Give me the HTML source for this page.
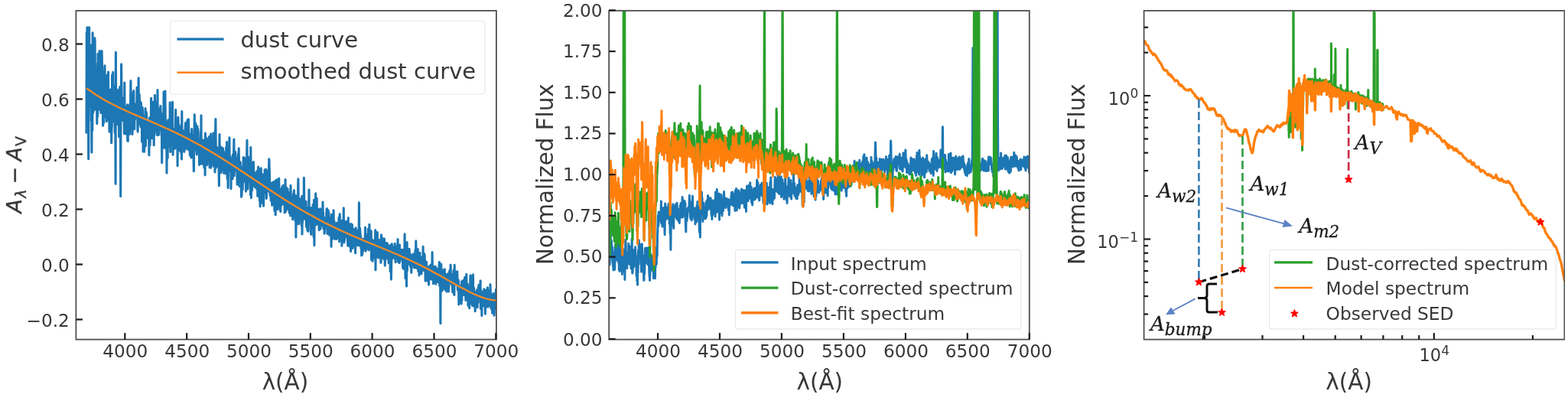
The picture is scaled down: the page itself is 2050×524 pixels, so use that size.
<!DOCTYPE html>
<html><head><meta charset="utf-8"><title>Dust curve figure</title>
<style>html,body{margin:0;padding:0;background:#fff;width:2050px;height:524px;overflow:hidden}svg{display:block}</style>
</head><body>
<svg width="2050" height="524" viewBox="0 0 2050 524">
<defs>
<clipPath id="c1"><rect x="99.4" y="14" width="549.5" height="429.6"/></clipPath>
<clipPath id="c2"><rect x="796.2" y="14" width="549.6" height="429.6"/></clipPath>
<clipPath id="c3"><rect x="1495.6" y="14" width="549.8" height="429.6"/></clipPath>
<filter id="blur" x="0" y="0" width="100%" height="100%"><feGaussianBlur stdDeviation="0.55"/></filter>
</defs>
<rect width="100%" height="100%" fill="#ffffff"/>
<g filter="url(#blur)">
<g clip-path="url(#c1)">
<polyline points="113,174.5 113.3,42.9 113.6,126.5 113.9,35.8 114.2,102.2 114.5,109.6 114.8,58.8 115.1,109 115.4,91.7 115.7,207.7 116,120.5 116.3,103.9 116.6,35.8 116.9,94.3 117.2,82.7 117.5,100.3 117.8,125.7 118.1,58.9 118.4,138.7 118.7,108.8 119,116.4 119.3,157.9 119.6,133.1 119.9,199.1 120.2,114 120.5,132.8 120.8,170.4 121.1,42.9 121.4,113.5 121.7,147.6 122,97.2 122.3,113.4 122.6,144.4 122.9,136.3 123.2,124 123.5,140 123.8,49.8 124.1,52.9 124.4,98.7 124.7,82.3 125,107 125.3,142.9 125.6,114.7 125.9,99.2 126.2,126.9 126.5,125 126.8,161.4 127.1,143.4 127.4,129.3 127.7,151.9 128,70.4 128.3,103.2 128.6,140 128.9,139.6 129.2,119.9 129.5,107.3 129.8,133 130.1,66.6 130.4,143.2 130.7,139.1 131,88.8 131.3,130.4 131.6,105.9 131.9,147.5 132.2,80.2 132.5,105.9 132.8,145.1 133.1,66.5 133.4,79.3 133.7,116.6 134,135.3 134.3,113.5 134.6,164.3 134.9,100.8 135.2,137 135.5,105.9 135.8,160.2 136.1,128.8 136.4,120.5 136.7,91.2 137,85.8 137.3,144.3 137.6,144.4 137.9,152.8 138.2,134.8 138.5,114 138.8,110.9 139.1,113 139.4,158.6 139.7,98.3 140,117.6 140.3,123.1 140.6,133.8 140.9,139.8 141.2,103.1 141.5,94.1 141.8,130.7 142.1,156.2 142.4,147.4 142.7,135.6 143,172.1 143.3,137.6 143.6,128 143.9,149.7 144.2,117 144.5,137.1 144.8,132.4 145.1,146.1 145.4,140.3 145.7,186.8 146,165.6 146.3,165.8 146.6,97.8 146.9,131.2 147.2,126.4 147.5,147.3 147.8,94.4 148.1,158.8 148.4,157 148.7,112.3 149,117.8 149.3,121.5 149.6,136.7 149.9,148 150.2,173.4 150.5,133.1 150.8,151 151.1,240.3 151.4,68.4 151.7,150.7 152,160.6 152.3,116.6 152.6,131.9 152.9,120.8 153.2,162.5 153.5,147.6 153.8,130.1 154.1,126.2 154.4,142.8 154.7,122 155,117.9 155.3,143.3 155.6,178.8 155.9,131.5 156.2,126.2 156.5,116.3 156.8,113.5 157.1,147.4 157.4,152.6 157.7,256.5 158,144.7 158.3,141.2 158.6,83.9 158.9,112.2 159.2,132.3 159.5,142.9 159.8,127.5 160.1,133.4 160.4,128.4 160.7,136.5 161,157.6 161.3,135.3 161.6,140.4 161.9,158.1 162.2,156 162.5,174.8 162.8,108.1 163.1,162.2 163.4,139.2 163.7,150.3 164,162.6 164.3,165.6 164.6,165.6 164.9,150.4 165.2,175.2 165.5,142.2 165.8,144.1 166.1,160.2 166.4,136.9 166.7,183.8 167,164.6 167.3,184.5 167.6,146.2 167.9,139 168.2,149.3 168.5,159.9 168.8,137.8 169.1,154.8 169.4,147.6 169.7,175.2 170,136.1 170.3,166.7 170.6,135.8 170.9,105.5 171.2,134.7 171.5,125.8 171.8,150.9 172.1,165.4 172.4,150.2 172.7,158.9 173,175.5 173.3,152.5 173.6,151.4 173.9,143.5 174.2,120.6 174.5,160.9 174.8,118.5 175.1,160.4 175.4,149.3 175.7,168.7 176,148.1 176.3,135.9 176.6,155.7 176.9,140.7 177.2,147.3 177.5,151.9 177.8,148.2 178.1,147.6 178.4,136.8 178.7,147.4 179,114.2 179.3,147.1 179.6,129.6 179.9,169.3 180.2,172.2 180.5,118.2 180.8,154.2 181.1,101.9 181.4,134.6 181.7,161.6 182,145.8 182.3,123.5 182.6,148.9 182.9,151.2 183.2,155.2 183.5,132.8 183.8,163.4 184.1,165.8 184.4,134.4 184.7,143.5 185,154 185.3,146.1 185.6,185.3 185.9,159.8 186.2,140.5 186.5,145.5 186.8,158.1 187.1,197.9 187.4,156.9 187.7,161.7 188,168.5 188.3,159.1 188.6,198.3 188.9,151.9 189.2,173.1 189.5,163.9 189.8,171.4 190.1,141.6 190.4,190.9 190.7,160.1 191,162.4 191.3,146.6 191.6,150.3 191.9,171 192.2,178 192.5,172.9 192.8,180.5 193.1,171.8 193.4,160.5 193.7,173.8 194,169.2 194.3,157.7 194.6,171 194.9,202.8 195.2,163.3 195.5,153.8 195.8,171.1 196.1,189.7 196.4,155.2 196.7,157 197,155.6 197.3,178.7 197.6,128.2 197.9,143.2 198.2,176.5 198.5,143.7 198.8,180.7 199.1,165.2 199.4,148.4 199.7,160.1 200,133.2 200.3,149.3 200.6,173 200.9,145.2 201.2,189.7 201.5,159.3 201.8,176.6 202.1,161 202.4,124.2 202.7,150.9 203,162.3 203.3,141.1 203.6,138 203.9,166.1 204.2,150 204.5,133.2 204.8,149.1 205.1,174.1 205.4,153.8 205.7,176.8 206,117.6 206.3,162.9 206.6,144.7 206.9,141.9 207.2,161.7 207.5,176.1 207.8,166.3 208.1,170.4 208.4,154.1 208.7,166 209,154.1 209.3,157 209.6,142.6 209.9,138.5 210.2,155.9 210.5,147.2 210.8,149.7 211.1,177.1 211.4,164.8 211.7,212.6 212,181.8 212.3,156.7 212.6,180.3 212.9,173.9 213.2,157.2 213.5,186.3 213.8,156 214.1,120.1 214.4,180.9 214.7,159.9 215,193.3 215.3,159.4 215.6,150.7 215.9,119 216.2,154 216.5,174.1 216.8,193.8 217.1,172.6 217.4,169.7 217.7,173.4 218,226 218.3,158.7 218.6,179.8 218.9,178.3 219.2,206.4 219.5,164.7 219.8,156.9 220.1,183.5 220.4,165.3 220.7,176.6 221,174.8 221.3,191.8 221.6,163.2 221.9,172.7 222.2,133.9 222.5,160.3 222.8,198.4 223.1,164.4 223.4,163.2 223.7,154.7 224,182.4 224.3,176 224.6,155.1 224.9,184.4 225.2,178 225.5,133.4 225.8,165.4 226.1,202.3 226.4,183 226.7,175.1 227,168.2 227.3,171.5 227.6,187.6 227.9,170.1 228.2,190.8 228.5,182.5 228.8,194.3 229.1,186 229.4,172.2 229.7,143.4 230,176.8 230.3,184.9 230.6,175.4 230.9,182 231.2,166.3 231.5,168.4 231.8,160.3 232.1,216.6 232.4,176.4 232.7,166.3 233,153.4 233.3,171.5 233.6,196.7 233.9,181.6 234.2,163.2 234.5,196.4 234.8,196.9 235.1,190.7 235.4,188.1 235.7,193.6 236,185.4 236.3,189.1 236.6,165.9 236.9,200.7 237.2,180.7 237.5,208 237.8,145.6 238.1,188.2 238.4,191.5 238.7,171.4 239,184.1 239.3,188.8 239.6,186.5 239.9,170.8 240.2,176.6 240.5,194.1 240.8,198.4 241.1,180.9 241.4,180.2 241.7,182.8 242,195.3 242.3,163.5 242.6,160.6 242.9,182.8 243.2,164.9 243.5,171.9 243.8,181.8 244.1,187.8 244.4,164.6 244.7,194.2 245,156.7 245.3,192.2 245.6,160.5 245.9,165.8 246.2,195.6 246.5,155.9 246.8,174.1 247.1,179.2 247.4,192.5 247.7,185.4 248,186.2 248.3,202.4 248.6,175.4 248.9,179.6 249.2,178.6 249.5,205 249.8,202.6 250.1,205.9 250.4,186.6 250.7,168.6 251,200.2 251.3,181.9 251.6,200.5 251.9,198.3 252.2,176.4 252.5,184.7 252.8,183.8 253.1,210.6 253.4,223.7 253.7,183.4 254,184.9 254.3,149.7 254.6,187.6 254.9,184.4 255.2,168.5 255.5,195.7 255.8,161 256.1,181.6 256.4,187.1 256.7,166.9 257,197.9 257.3,201.9 257.6,165.4 257.9,164.9 258.2,195.5 258.5,185.8 258.8,168.4 259.1,181.5 259.4,185.7 259.7,185.2 260,200.3 260.3,194.2 260.6,215.4 260.9,210.2 261.2,199.8 261.5,205.6 261.8,210 262.1,200 262.4,172.2 262.7,202.6 263,150.8 263.3,213.9 263.6,191.5 263.9,197.6 264.2,194.6 264.5,214.1 264.8,192 265.1,186.1 265.4,193.9 265.7,183.1 266,192 266.3,189.5 266.6,195.3 266.9,219 267.2,185.5 267.5,191.7 267.8,188.5 268.1,228.7 268.4,174.1 268.7,182 269,191.6 269.3,200.4 269.6,192.8 269.9,186 270.2,180.8 270.5,201.2 270.8,215.4 271.1,198.9 271.4,197.1 271.7,200.9 272,181.4 272.3,190 272.6,191.5 272.9,200.4 273.2,195.2 273.5,178.5 273.8,193.9 274.1,219 274.4,191.3 274.7,201 275,199.2 275.3,207.1 275.6,175 275.9,219.1 276.2,189.2 276.5,214.2 276.8,197.5 277.1,190.7 277.4,195.5 277.7,210.9 278,185.4 278.3,192.4 278.6,191.6 278.9,173.9 279.2,217 279.5,207.4 279.8,198.8 280.1,215.2 280.4,185.9 280.7,199.6 281,224.9 281.3,215.8 281.6,170.7 281.9,155.5 282.2,188.9 282.5,219.1 282.8,197.4 283.1,201.3 283.4,212.9 283.7,192.6 284,208.4 284.3,217.1 284.6,212.6 284.9,210.3 285.2,195.8 285.5,211.8 285.8,199 286.1,224.2 286.4,242.7 286.7,196.4 287,175.5 287.3,200.8 287.6,212.6 287.9,221.1 288.2,221.6 288.5,196.4 288.8,196.7 289.1,225.7 289.4,192.2 289.7,222.8 290,204.2 290.3,217.7 290.6,216.5 290.9,218.1 291.2,218.4 291.5,193.8 291.8,211.5 292.1,207.4 292.4,212.4 292.7,226.1 293,205.5 293.3,199.7 293.6,198.9 293.9,205.1 294.2,219.9 294.5,198.7 294.8,226.7 295.1,214.6 295.4,208.4 295.7,192.3 296,213.8 296.3,219.5 296.6,185.5 296.9,226.4 297.2,233.7 297.5,216.3 297.8,218.6 298.1,245.4 298.4,229.5 298.7,199.1 299,210.9 299.3,209.5 299.6,210 299.9,179.7 300.2,222.4 300.5,203.2 300.8,213.9 301.1,210.2 301.4,224 301.7,208.4 302,246.6 302.3,220.2 302.6,232.1 302.9,208.4 303.2,232.2 303.5,216.8 303.8,205.4 304.1,233.7 304.4,202.1 304.7,226.3 305,205.6 305.3,220 305.6,197.8 305.9,182.1 306.2,229.8 306.5,218.5 306.8,216.2 307.1,210.4 307.4,222.7 307.7,198.6 308,202.4 308.3,215.9 308.6,206.3 308.9,208.2 309.2,217.3 309.5,216.5 309.8,215 310.1,241.2 310.4,232.8 310.7,236 311,219.4 311.3,213.7 311.6,201.3 311.9,216.7 312.2,193.8 312.5,214.8 312.8,232.5 313.1,243.4 313.4,234.9 313.7,211.3 314,229 314.3,212.2 314.6,233.5 314.9,220.6 315.2,233.5 315.5,257.3 315.8,235.2 316.1,255.1 316.4,226.7 316.7,219.2 317,241.8 317.3,247.9 317.6,217.3 317.9,225.8 318.2,205.5 318.5,222.8 318.8,237.5 319.1,224.3 319.4,217.7 319.7,206.4 320,229.9 320.3,219.9 320.6,234 320.9,229.7 321.2,209.5 321.5,250.1 321.8,226.1 322.1,225.8 322.4,238.4 322.7,200.8 323,183.4 323.3,227.6 323.6,234.3 323.9,247 324.2,235.9 324.5,204.8 324.8,224.8 325.1,232.5 325.4,231.6 325.7,213.4 326,208 326.3,237.4 326.6,234.5 326.9,230.2 327.2,208.4 327.5,254.7 327.8,192.6 328.1,225.9 328.4,258.6 328.7,228.4 329,234.4 329.3,216 329.6,248.7 329.9,213.1 330.2,233 330.5,231.3 330.8,215.9 331.1,241.8 331.4,211.6 331.7,221.8 332,231.1 332.3,226.4 332.6,237.6 332.9,244.1 333.2,228.3 333.5,226.1 333.8,227.2 334.1,230.4 334.4,245.2 334.7,231.9 335,240.1 335.3,233.9 335.6,224.9 335.9,247.5 336.2,223.2 336.5,236.9 336.8,256.2 337.1,223.8 337.4,237.8 337.7,218 338,233.2 338.3,220.5 338.6,235.4 338.9,234 339.2,243.3 339.5,262.6 339.8,245.3 340.1,269.8 340.4,241.8 340.7,239.6 341,231.8 341.3,219.9 341.6,244.4 341.9,264.7 342.2,249.7 342.5,236.5 342.8,265.3 343.1,238.7 343.4,236.1 343.7,228 344,231.2 344.3,240.7 344.6,269.1 344.9,241.2 345.2,230.6 345.5,236.4 345.8,241.4 346.1,221.8 346.4,245 346.7,251.7 347,246.7 347.3,250.8 347.6,226.6 347.9,221.4 348.2,259.4 348.5,256.5 348.8,223.2 349.1,245.8 349.4,243.4 349.7,250.3 350,247.1 350.3,238.1 350.6,247.8 350.9,246.9 351.2,244.6 351.5,221.9 351.8,207.7 352.1,217.8 352.4,225.3 352.7,249.7 353,255.3 353.3,249.6 353.6,242.3 353.9,248.2 354.2,262.2 354.5,239 354.8,259.9 355.1,258.2 355.4,252.7 355.7,268.3 356,242.2 356.3,262.4 356.6,238.7 356.9,241.6 357.2,238 357.5,257 357.8,239.6 358.1,251.4 358.4,237.4 358.7,265.7 359,275.7 359.3,255.4 359.6,274.2 359.9,260.4 360.2,280.7 360.5,255.2 360.8,235.3 361.1,273 361.4,253 361.7,242 362,246.5 362.3,234.9 362.6,253 362.9,242.2 363.2,273.7 363.5,263.5 363.8,235.6 364.1,237 364.4,249.5 364.7,233.1 365,255.7 365.3,256.1 365.6,247.4 365.9,250 366.2,263.2 366.5,275.1 366.8,276.4 367.1,258.1 367.4,268.8 367.7,249 368,262.9 368.3,245.8 368.6,267.5 368.9,243.7 369.2,246.9 369.5,259 369.8,266.1 370.1,242.2 370.4,253.2 370.7,261.6 371,263.3 371.3,250 371.6,262.1 371.9,257.3 372.2,277.9 372.5,267.5 372.8,245.2 373.1,234.6 373.4,263.5 373.7,276.4 374,263.7 374.3,272.4 374.6,256 374.9,245.5 375.2,271.9 375.5,264.9 375.8,272 376.1,246.9 376.4,265.5 376.7,256.3 377,273.9 377.3,256.9 377.6,256.1 377.9,256.4 378.2,278.3 378.5,263.2 378.8,254.5 379.1,251.3 379.4,251.6 379.7,282 380,242.4 380.3,254.5 380.6,261.6 380.9,279.5 381.2,263.8 381.5,275.9 381.8,275.8 382.1,278.9 382.4,267.9 382.7,286.8 383,268.7 383.3,284.6 383.6,253.3 383.9,278.5 384.2,251.9 384.5,248.8 384.8,273.5 385.1,257.6 385.4,273.4 385.7,256.1 386,288.2 386.3,268.4 386.6,255.5 386.9,309.9 387.2,279.3 387.5,260.1 387.8,275.4 388.1,293.3 388.4,279.4 388.7,268.8 389,262 389.3,276 389.6,251.3 389.9,233.8 390.2,262.3 390.5,258.4 390.8,292.5 391.1,274.5 391.4,261.1 391.7,259.7 392,279.5 392.3,263.8 392.6,267.5 392.9,273.6 393.2,275.9 393.5,275.8 393.8,276.6 394.1,290.7 394.4,295.3 394.7,256.3 395,306 395.3,277.4 395.6,290.9 395.9,267.8 396.2,280.4 396.5,279.2 396.8,278.4 397.1,271.1 397.4,232.2 397.7,265.9 398,276.1 398.3,286.3 398.6,285.9 398.9,274.4 399.2,275 399.5,276.2 399.8,265.6 400.1,263.2 400.4,296.3 400.7,273.9 401,280.9 401.3,271.4 401.6,295 401.9,301.2 402.2,278.5 402.5,287.6 402.8,273.5 403.1,302.4 403.4,292.4 403.7,272.8 404,247.9 404.3,286.8 404.6,286.9 404.9,286.2 405.2,274.5 405.5,276 405.8,289.7 406.1,281.8 406.4,271.6 406.7,306.3 407,281.2 407.3,276.9 407.6,275.7 407.9,292.2 408.2,295.4 408.5,286.6 408.8,294.1 409.1,267.3 409.4,280.1 409.7,278.5 410,309.3 410.3,289.4 410.6,261 410.9,320.6 411.2,274.9 411.5,289.1 411.8,293.9 412.1,294.4 412.4,287.5 412.7,252.7 413,273.3 413.3,293.5 413.6,274.3 413.9,273.6 414.2,259.1 414.5,288.3 414.8,292.6 415.1,277.2 415.4,284.7 415.7,285 416,273.2 416.3,283.1 416.6,288.8 416.9,292.4 417.2,300.8 417.5,286.9 417.8,281.4 418.1,291.3 418.4,279.4 418.7,272.8 419,299.3 419.3,282.6 419.6,288.4 419.9,294.5 420.2,274.7 420.5,294.8 420.8,293 421.1,288 421.4,292.8 421.7,279.8 422,264.1 422.3,284.7 422.6,277.9 422.9,298.6 423.2,292.2 423.5,283.8 423.8,290 424.1,305.1 424.4,302.6 424.7,294.1 425,294.9 425.3,286.8 425.6,288.4 425.9,296.3 426.2,289.1 426.5,294.2 426.8,279 427.1,273.2 427.4,272.7 427.7,286.3 428,305.5 428.3,304.3 428.6,280.2 428.9,274.6 429.2,300.6 429.5,296.1 429.8,276.8 430.1,303.7 430.4,294.2 430.7,307.1 431,297 431.3,303.6 431.6,297.5 431.9,284.4 432.2,292.9 432.5,288.5 432.8,305.5 433.1,322.3 433.4,280.3 433.7,304.5 434,309.4 434.3,312.6 434.6,308.8 434.9,280.9 435.2,281.5 435.5,292.4 435.8,298.1 436.1,274.8 436.4,297.6 436.7,301.2 437,288.9 437.3,300.3 437.6,312.1 437.9,300.3 438.2,311.2 438.5,310.7 438.8,303.7 439.1,303.4 439.4,295.6 439.7,312.4 440,294.1 440.3,291.3 440.6,306.2 440.9,291.5 441.2,303.9 441.5,310.9 441.8,300.9 442.1,301.3 442.4,310.3 442.7,308.1 443,284.3 443.3,287.2 443.6,315.8 443.9,306.1 444.2,279.6 444.5,287.6 444.8,302.2 445.1,290.7 445.4,306 445.7,301.8 446,306.1 446.3,288.4 446.6,307.3 446.9,321.2 447.2,292.4 447.5,314.8 447.8,312.1 448.1,309.6 448.4,302.3 448.7,290.8 449,293.7 449.3,271.9 449.6,314.2 449.9,316.9 450.2,314.6 450.5,313.8 450.8,299.1 451.1,290.8 451.4,306.1 451.7,309.9 452,305.8 452.3,289.2 452.6,300.1 452.9,290 453.2,307.2 453.5,294.5 453.8,304.2 454.1,309.5 454.4,307.7 454.7,321 455,295.6 455.3,284.6 455.6,317 455.9,321.4 456.2,321.6 456.5,310.2 456.8,312.9 457.1,308 457.4,293 457.7,300.7 458,312.6 458.3,302.2 458.6,328.4 458.9,292.5 459.2,303.1 459.5,318.8 459.8,301.4 460.1,296.5 460.4,293.6 460.7,300.5 461,324.4 461.3,313.2 461.6,314.6 461.9,303.8 462.2,317.6 462.5,310 462.8,299.5 463.1,304 463.4,311.3 463.7,321.6 464,309 464.3,315 464.6,330.7 464.9,302.3 465.2,297.9 465.5,320.3 465.8,314.5 466.1,309.1 466.4,312.6 466.7,307.3 467,316.8 467.3,308 467.6,320.1 467.9,300.7 468.2,304.5 468.5,314.1 468.8,308.2 469.1,320.9 469.4,264.7 469.7,309.1 470,316.7 470.3,308.8 470.6,298.6 470.9,303.1 471.2,306.4 471.5,309.7 471.8,315.5 472.1,324.7 472.4,320.9 472.7,334 473,329.3 473.3,314.1 473.6,333 473.9,328.8 474.2,312.3 474.5,319.9 474.8,327.9 475.1,318.8 475.4,326.5 475.7,319.7 476,323.1 476.3,311.8 476.6,318.4 476.9,310.8 477.2,321.3 477.5,297 477.8,318.6 478.1,328.3 478.4,321.4 478.7,315.7 479,321.5 479.3,307.2 479.6,307.3 479.9,312.2 480.2,314 480.5,325.2 480.8,306.1 481.1,325.5 481.4,299.1 481.7,306.8 482,313.9 482.3,326.6 482.6,308.8 482.9,293.3 483.2,319.7 483.5,315.3 483.8,305.7 484.1,306.2 484.4,309.7 484.7,317.9 485,324.2 485.3,301.7 485.6,339.5 485.9,315.9 486.2,312.8 486.5,323.8 486.8,318.1 487.1,341.3 487.4,329 487.7,314.4 488,314.4 488.3,314.3 488.6,316.3 488.9,326.7 489.2,314 489.5,337.2 489.8,319.5 490.1,319.3 490.4,330.2 490.7,300.6 491,352.7 491.3,327.1 491.6,321.3 491.9,321.1 492.2,325.2 492.5,315 492.8,320.1 493.1,308.7 493.4,303.6 493.7,335.6 494,313.3 494.3,315.9 494.6,337 494.9,333.4 495.2,317.2 495.5,317.1 495.8,321.6 496.1,313.5 496.4,329.2 496.7,325.6 497,325.7 497.3,332.5 497.6,331.6 497.9,343.3 498.2,339.8 498.5,306.9 498.8,333.2 499.1,313.3 499.4,310.6 499.7,332.9 500,319 500.3,322.6 500.6,336.6 500.9,319.4 501.2,317.4 501.5,329.8 501.8,338.8 502.1,331.9 502.4,311.7 502.7,320.9 503,326.3 503.3,346.9 503.6,336.2 503.9,335.1 504.2,338.1 504.5,323.1 504.8,331 505.1,331.5 505.4,317.2 505.7,328.2 506,334.5 506.3,318.1 506.6,336.8 506.9,335.7 507.2,338.6 507.5,320.9 507.8,329.8 508.1,343.5 508.4,337.1 508.7,321 509,330.8 509.3,343.3 509.6,328.5 509.9,333 510.2,354.7 510.5,329 510.8,328.9 511.1,319.7 511.4,365.1 511.7,345.4 512,329.3 512.3,318.8 512.6,321.4 512.9,330.6 513.2,337.8 513.5,322.8 513.8,337 514.1,325.7 514.4,334.8 514.7,336.5 515,337 515.3,327.2 515.6,329.9 515.9,336.2 516.2,318.4 516.5,333.8 516.8,337.1 517.1,342.7 517.4,331.4 517.7,330.4 518,321.7 518.3,324.4 518.6,330.1 518.9,323.7 519.2,335.1 519.5,322.3 519.8,329.8 520.1,312.5 520.4,342.1 520.7,328.6 521,336.1 521.3,323.3 521.6,333.3 521.9,338.7 522.2,343.6 522.5,320 522.8,341.6 523.1,331.5 523.4,326 523.7,338.6 524,331.2 524.3,331.3 524.6,327.6 524.9,337.3 525.2,335.7 525.5,333.8 525.8,326.4 526.1,331.1 526.4,340.5 526.7,349.8 527,336.6 527.3,351.2 527.6,337.4 527.9,326.6 528.2,343.8 528.5,328.4 528.8,341.9 529.1,305.9 529.4,335.3 529.7,338 530,363.8 530.3,342 530.6,342.3 530.9,348 531.2,339.3 531.5,374 531.8,344 532.1,316.5 532.4,354 532.7,329.6 533,330.1 533.3,345.9 533.6,340.8 533.9,328.2 534.2,342.6 534.5,329.4 534.8,333.9 535.1,325.4 535.4,331.7 535.7,343.6 536,340.8 536.3,342.6 536.6,348.7 536.9,339.3 537.2,332.9 537.5,336.9 537.8,356.2 538.1,340.6 538.4,342.7 538.7,339 539,342.5 539.3,344.5 539.6,340.3 539.9,339.1 540.2,332.7 540.5,331.9 540.8,344.5 541.1,348.3 541.4,349.8 541.7,341.1 542,332.8 542.3,346.9 542.6,347 542.9,326.9 543.2,349.8 543.5,348 543.8,314.8 544.1,331.7 544.4,330.2 544.7,350.3 545,325.5 545.3,336.3 545.6,332.9 545.9,334.3 546.2,325.6 546.5,342 546.8,354.2 547.1,349.3 547.4,349.5 547.7,342.3 548,359.9 548.3,351 548.6,355.6 548.9,330.3 549.2,349.5 549.5,335.4 549.8,349.8 550.1,348.7 550.4,336.1 550.7,348.4 551,357.9 551.3,351.6 551.6,353.4 551.9,339.6 552.2,342.4 552.5,338 552.8,350.3 553.1,322.4 553.4,353.3 553.7,349.4 554,338.4 554.3,353.5 554.6,347.4 554.9,331.9 555.2,334 555.5,347.4 555.8,342.3 556.1,367.1 556.4,352.4 556.7,341.6 557,346.7 557.3,366.8 557.6,342.5 557.9,359.2 558.2,356.6 558.5,366.7 558.8,357.8 559.1,348.9 559.4,357.4 559.7,352.9 560,361.7 560.3,351.8 560.6,372.1 560.9,352.4 561.2,357.6 561.5,347.9 561.8,355.8 562.1,354.7 562.4,355.9 562.7,362.5 563,349 563.3,346 563.6,364.8 563.9,351.3 564.2,347.5 564.5,365.2 564.8,362 565.1,329.5 565.4,351.2 565.7,362.7 566,363.9 566.3,351.4 566.6,370.8 566.9,348.4 567.2,353.7 567.5,357 567.8,355.4 568.1,362.6 568.4,364.2 568.7,353.9 569,367.9 569.3,348.3 569.6,352.6 569.9,371.1 570.2,355.7 570.5,364.7 570.8,350.7 571.1,352.7 571.4,354.3 571.7,357.6 572,353 572.3,357 572.6,363.1 572.9,368.6 573.2,358.2 573.5,363.1 573.8,365.7 574.1,346.9 574.4,342.6 574.7,373.3 575,370.7 575.3,359.4 575.6,362.5 575.9,422.6 576.2,346.6 576.5,362.6 576.8,345 577.1,368.5 577.4,353.8 577.7,363.7 578,380 578.3,379.5 578.6,359.7 578.9,372.5 579.2,352.7 579.5,357.4 579.8,366.4 580.1,376.4 580.4,357.6 580.7,368.3 581,364.3 581.3,351.7 581.6,362.7 581.9,378.7 582.2,364 582.5,369.9 582.8,373 583.1,358.5 583.4,377.2 583.7,380 584,381.1 584.3,378.7 584.6,362 584.9,360.9 585.2,358.9 585.5,357.9 585.8,359.3 586.1,376.4 586.4,381 586.7,361.1 587,374.6 587.3,355.2 587.6,364.5 587.9,358.6 588.2,352.8 588.5,369.3 588.8,369.6 589.1,346 589.4,364.2 589.7,359.6 590,367.8 590.3,364.1 590.6,372 590.9,358.6 591.2,372.2 591.5,374.5 591.8,382 592.1,379.8 592.4,371.7 592.7,363.7 593,353.2 593.3,370.7 593.6,383.2 593.9,385.5 594.2,346.4 594.5,363 594.8,366.9 595.1,360.1 595.4,371.9 595.7,371 596,364.9 596.3,369.5 596.6,355.2 596.9,361 597.2,362.1 597.5,368.7 597.8,354.8 598.1,368.6 598.4,378.6 598.7,371.3 599,380 599.3,365.9 599.6,376.8 599.9,398 600.2,393.2 600.5,379.1 600.8,386.3 601.1,373.4 601.4,374.8 601.7,388.4 602,379.8 602.3,387.8 602.6,381.4 602.9,394.6 603.2,396.9 603.5,367.7 603.8,392.9 604.1,379.3 604.4,380.1 604.7,375.1 605,383.1 605.3,366.6 605.6,370.4 605.9,369.8 606.2,379.5 606.5,385.5 606.8,383.9 607.1,380.7 607.4,372.7 607.7,362.2 608,382.4 608.3,379.6 608.6,382 608.9,392.5 609.2,377.8 609.5,377.8 609.8,358.3 610.1,385.6 610.4,380.3 610.7,373.9 611,383.9 611.3,370.8 611.6,375.5 611.9,399.3 612.2,387.9 612.5,389.8 612.8,388 613.1,387.1 613.4,383.1 613.7,402.7 614,381.2 614.3,389 614.6,380.5 614.9,361.9 615.2,359.7 615.5,364.9 615.8,396.8 616.1,396.3 616.4,378.8 616.7,383.1 617,388.9 617.3,374 617.6,399.6 617.9,373.7 618.2,376.9 618.5,358.9 618.8,398.6 619.1,385.7 619.4,399.8 619.7,376.3 620,388.5 620.3,385.9 620.6,387.3 620.9,396.2 621.2,406.7 621.5,398.2 621.8,381.8 622.1,393.5 622.4,397.6 622.7,391.3 623,391.5 623.3,391.3 623.6,378.7 623.9,389 624.2,401.5 624.5,378 624.8,388.3 625.1,395.5 625.4,375 625.7,386.8 626,372.3 626.3,382.2 626.6,375.1 626.9,380.3 627.2,384.1 627.5,386.1 627.8,387.2 628.1,366.8 628.4,403.3 628.7,386.5 629,379.2 629.3,383.7 629.6,392.3 629.9,412.4 630.2,385.4 630.5,384.6 630.8,393.6 631.1,381.6 631.4,392.7 631.7,391.4 632,386.9 632.3,399.7 632.6,388.6 632.9,377.8 633.2,391.3 633.5,389.9 633.8,388.7 634.1,391.4 634.4,410.1 634.7,390.6 635,379 635.3,387.1 635.6,401.4 635.9,389.5 636.2,382.9 636.5,379.5 636.8,395.1 637.1,397.2 637.4,375.9 637.7,384.2 638,397.2 638.3,401 638.6,379.9 638.9,387.5 639.2,399.3 639.5,387.3 639.8,388.1 640.1,387.1 640.4,380.3 640.7,392.6 641,371.5 641.3,380.1 641.6,393.5 641.9,402.8 642.2,394.7 642.5,401.4 642.8,387.7 643.1,405.2 643.4,385.2 643.7,409.1 644,387.6 644.3,385.2 644.6,383.7 644.9,388.3 645.2,387.7 645.5,385.7 645.8,389.1 646.1,412.3 646.4,400.7 646.7,389.6 647,403.5 647.3,383.3 647.6,383.2 647.9,382.2 648.2,397.6 648.5,378 648.8,379" fill="none" stroke="#1f77b4" stroke-width="3.1" stroke-linejoin="round" />
<polyline points="113,115.2 114.8,116.5 116.6,117.8 118.4,119 120.2,120.3 122,121.5 123.8,122.7 125.5,123.9 127.3,125 129.1,126.1 130.9,127.2 132.7,128.3 134.5,129.4 136.3,130.4 138.1,131.4 139.9,132.4 141.7,133.4 143.5,134.3 145.3,135.3 147.1,136.2 148.9,137.1 150.6,138 152.4,138.9 154.2,139.8 156,140.7 157.8,141.5 159.6,142.4 161.4,143.2 163.2,144 165,144.9 166.8,145.7 168.6,146.5 170.4,147.3 172.2,148.1 173.9,148.8 175.7,149.6 177.5,150.4 179.3,151.2 181.1,151.9 182.9,152.7 184.7,153.5 186.5,154.2 188.3,155 190.1,155.8 191.9,156.5 193.7,157.3 195.5,158.1 197.3,158.8 199,159.6 200.8,160.4 202.6,161.1 204.4,161.9 206.2,162.7 208,163.5 209.8,164.3 211.6,165.1 213.4,165.9 215.2,166.7 217,167.5 218.8,168.3 220.6,169.1 222.4,170 224.1,170.8 225.9,171.6 227.7,172.5 229.5,173.3 231.3,174.2 233.1,175.1 234.9,176 236.7,176.8 238.5,177.7 240.3,178.6 242.1,179.6 243.9,180.5 245.7,181.4 247.4,182.3 249.2,183.3 251,184.2 252.8,185.2 254.6,186.2 256.4,187.1 258.2,188.1 260,189.1 261.8,190.1 263.6,191.1 265.4,192.2 267.2,193.2 269,194.2 270.8,195.3 272.5,196.3 274.3,197.4 276.1,198.4 277.9,199.5 279.7,200.6 281.5,201.7 283.3,202.8 285.1,203.9 286.9,205 288.7,206.1 290.5,207.2 292.3,208.4 294.1,209.5 295.8,210.6 297.6,211.8 299.4,212.9 301.2,214.1 303,215.2 304.8,216.4 306.6,217.6 308.4,218.7 310.2,219.9 312,221.1 313.8,222.3 315.6,223.5 317.4,224.7 319.2,225.8 320.9,227 322.7,228.2 324.5,229.4 326.3,230.6 328.1,231.8 329.9,233 331.7,234.2 333.5,235.4 335.3,236.6 337.1,237.8 338.9,239 340.7,240.2 342.5,241.4 344.3,242.6 346,243.8 347.8,245 349.6,246.2 351.4,247.4 353.2,248.5 355,249.7 356.8,250.9 358.6,252.1 360.4,253.2 362.2,254.4 364,255.6 365.8,256.7 367.6,257.9 369.3,259 371.1,260.2 372.9,261.3 374.7,262.4 376.5,263.6 378.3,264.7 380.1,265.8 381.9,266.9 383.7,268 385.5,269.1 387.3,270.2 389.1,271.2 390.9,272.3 392.7,273.4 394.4,274.4 396.2,275.5 398,276.5 399.8,277.5 401.6,278.6 403.4,279.6 405.2,280.6 407,281.6 408.8,282.6 410.6,283.6 412.4,284.6 414.2,285.5 416,286.5 417.7,287.4 419.5,288.4 421.3,289.3 423.1,290.2 424.9,291.2 426.7,292.1 428.5,293 430.3,293.9 432.1,294.8 433.9,295.6 435.7,296.5 437.5,297.4 439.3,298.2 441.1,299.1 442.8,299.9 444.6,300.8 446.4,301.6 448.2,302.4 450,303.2 451.8,304 453.6,304.8 455.4,305.6 457.2,306.4 459,307.2 460.8,308 462.6,308.8 464.4,309.6 466.2,310.3 467.9,311.1 469.7,311.8 471.5,312.6 473.3,313.4 475.1,314.1 476.9,314.9 478.7,315.6 480.5,316.3 482.3,317.1 484.1,317.8 485.9,318.6 487.7,319.3 489.5,320 491.2,320.8 493,321.5 494.8,322.2 496.6,323 498.4,323.7 500.2,324.5 502,325.2 503.8,326 505.6,326.7 507.4,327.5 509.2,328.2 511,329 512.8,329.7 514.6,330.5 516.3,331.3 518.1,332 519.9,332.8 521.7,333.6 523.5,334.4 525.3,335.2 527.1,336 528.9,336.8 530.7,337.6 532.5,338.4 534.3,339.2 536.1,340.1 537.9,340.9 539.6,341.8 541.4,342.6 543.2,343.5 545,344.4 546.8,345.2 548.6,346.1 550.4,347 552.2,347.9 554,348.8 555.8,349.8 557.6,350.7 559.4,351.6 561.2,352.6 563,353.5 564.7,354.5 566.5,355.4 568.3,356.4 570.1,357.4 571.9,358.4 573.7,359.3 575.5,360.3 577.3,361.3 579.1,362.3 580.9,363.3 582.7,364.3 584.5,365.4 586.3,366.4 588.1,367.4 589.8,368.4 591.6,369.4 593.4,370.4 595.2,371.4 597,372.4 598.8,373.4 600.6,374.4 602.4,375.4 604.2,376.4 606,377.3 607.8,378.3 609.6,379.2 611.4,380.2 613.1,381.1 614.9,382 616.7,382.8 618.5,383.7 620.3,384.5 622.1,385.3 623.9,386.1 625.7,386.8 627.5,387.5 629.3,388.2 631.1,388.8 632.9,389.4 634.7,390 636.5,390.5 638.2,390.9 640,391.3 641.8,391.7 643.6,392 645.4,392.2 647.2,392.3 649,392.4" fill="none" stroke="#f58a25" stroke-width="2.3" stroke-linejoin="round" />
</g>
<rect x="99.4" y="14" width="549.5" height="429.6" fill="none" stroke="#505050" stroke-width="1.8"/>
<line x1="163.3" y1="443.6" x2="163.3" y2="435.1" stroke="#1a1a1a" stroke-width="2.2"/>
<text x="163.8" y="466.9" font-size="23.2" text-anchor="middle" font-family="'DejaVu Sans', 'Liberation Sans', sans-serif" fill="#383838" >4000</text>
<line x1="244.2" y1="443.6" x2="244.2" y2="435.1" stroke="#1a1a1a" stroke-width="2.2"/>
<text x="244.7" y="466.9" font-size="23.2" text-anchor="middle" font-family="'DejaVu Sans', 'Liberation Sans', sans-serif" fill="#383838" >4500</text>
<line x1="325" y1="443.6" x2="325" y2="435.1" stroke="#1a1a1a" stroke-width="2.2"/>
<text x="325.5" y="466.9" font-size="23.2" text-anchor="middle" font-family="'DejaVu Sans', 'Liberation Sans', sans-serif" fill="#383838" >5000</text>
<line x1="405.8" y1="443.6" x2="405.8" y2="435.1" stroke="#1a1a1a" stroke-width="2.2"/>
<text x="406.3" y="466.9" font-size="23.2" text-anchor="middle" font-family="'DejaVu Sans', 'Liberation Sans', sans-serif" fill="#383838" >5500</text>
<line x1="486.6" y1="443.6" x2="486.6" y2="435.1" stroke="#1a1a1a" stroke-width="2.2"/>
<text x="487.1" y="466.9" font-size="23.2" text-anchor="middle" font-family="'DejaVu Sans', 'Liberation Sans', sans-serif" fill="#383838" >6000</text>
<line x1="567.5" y1="443.6" x2="567.5" y2="435.1" stroke="#1a1a1a" stroke-width="2.2"/>
<text x="568" y="466.9" font-size="23.2" text-anchor="middle" font-family="'DejaVu Sans', 'Liberation Sans', sans-serif" fill="#383838" >6500</text>
<line x1="648.3" y1="443.6" x2="648.3" y2="435.1" stroke="#1a1a1a" stroke-width="2.2"/>
<text x="648.8" y="466.9" font-size="23.2" text-anchor="middle" font-family="'DejaVu Sans', 'Liberation Sans', sans-serif" fill="#383838" >7000</text>
<line x1="99.4" y1="57.5" x2="107.9" y2="57.5" stroke="#1a1a1a" stroke-width="2.2"/>
<text x="90.8" y="66.7" font-size="23.2" text-anchor="end" font-family="'DejaVu Sans', 'Liberation Sans', sans-serif" fill="#383838" >0.8</text>
<line x1="99.4" y1="129.5" x2="107.9" y2="129.5" stroke="#1a1a1a" stroke-width="2.2"/>
<text x="90.8" y="138.7" font-size="23.2" text-anchor="end" font-family="'DejaVu Sans', 'Liberation Sans', sans-serif" fill="#383838" >0.6</text>
<line x1="99.4" y1="201.5" x2="107.9" y2="201.5" stroke="#1a1a1a" stroke-width="2.2"/>
<text x="90.8" y="210.7" font-size="23.2" text-anchor="end" font-family="'DejaVu Sans', 'Liberation Sans', sans-serif" fill="#383838" >0.4</text>
<line x1="99.4" y1="273.5" x2="107.9" y2="273.5" stroke="#1a1a1a" stroke-width="2.2"/>
<text x="90.8" y="282.7" font-size="23.2" text-anchor="end" font-family="'DejaVu Sans', 'Liberation Sans', sans-serif" fill="#383838" >0.2</text>
<line x1="99.4" y1="345.5" x2="107.9" y2="345.5" stroke="#1a1a1a" stroke-width="2.2"/>
<text x="90.8" y="354.7" font-size="23.2" text-anchor="end" font-family="'DejaVu Sans', 'Liberation Sans', sans-serif" fill="#383838" >0.0</text>
<line x1="99.4" y1="417.5" x2="107.9" y2="417.5" stroke="#1a1a1a" stroke-width="2.2"/>
<text x="90.8" y="426.7" font-size="23.2" text-anchor="end" font-family="'DejaVu Sans', 'Liberation Sans', sans-serif" fill="#383838" >−0.2</text>
<rect x="222.4" y="27.5" width="411.5" height="95.5" rx="3" ry="3" fill="#ffffff" fill-opacity="0.85" stroke="#e8e8e8" stroke-width="1.2"/>
<line x1="231.5" y1="51.1" x2="292.6" y2="51.1" stroke="#1f77b4" stroke-width="3.2"/>
<line x1="231.5" y1="94.7" x2="292.6" y2="94.7" stroke="#ff7f0e" stroke-width="2.6"/>
<text x="314.4" y="62" font-size="29" text-anchor="start" font-family="'DejaVu Sans', 'Liberation Sans', sans-serif" fill="#383838" >dust curve</text>
<text x="314.4" y="103.3" font-size="29" text-anchor="start" font-family="'DejaVu Sans', 'Liberation Sans', sans-serif" fill="#383838" >smoothed dust curve</text>
<g clip-path="url(#c2)">
<polyline points="796.2,334.1 796.5,334.6 796.8,341.5 797.1,346 797.4,335.2 797.7,331.2 797.9,314.9 798.2,299.4 798.5,315.8 798.8,324.3 799.1,317.2 799.4,314.8 799.7,325.9 800,337.5 800.3,327.7 800.6,322.7 800.9,343.5 801.2,331.2 801.4,347.3 801.7,348.4 802,352.9 802.3,335.6 802.6,346.9 802.9,329.7 803.2,332.7 803.5,332.1 803.8,352.3 804.1,328.5 804.4,320 804.7,321 804.9,338.6 805.2,330.8 805.5,339.1 805.8,338.6 806.1,321 806.4,340 806.7,324.5 807,317.9 807.3,334.5 807.6,329.4 807.9,330.9 808.2,329.4 808.4,342.8 808.7,334.9 809,315.9 809.3,352.7 809.6,328 809.9,339.1 810.2,354.6 810.5,324.5 810.8,335.6 811.1,353.3 811.4,339.4 811.6,341.8 811.9,350.1 812.2,336.3 812.5,337.5 812.8,326.8 813.1,331.5 813.4,358.5 813.7,351.2 814,349.1 814.3,338.5 814.6,354.6 814.9,353.5 815.1,352.5 815.4,331.1 815.7,326 816,349.3 816.3,339.8 816.6,337.6 816.9,365.5 817.2,343.2 817.5,335 817.8,313.5 818.1,317.7 818.4,332.2 818.6,334.2 818.9,343 819.2,330.1 819.5,350.1 819.8,350.4 820.1,338.1 820.4,340.7 820.7,339.9 821,344.3 821.3,331.1 821.6,331.1 821.8,318.3 822.1,330.8 822.4,340.8 822.7,335.6 823,345.2 823.3,323.8 823.6,331.1 823.9,322.2 824.2,338.9 824.5,323.5 824.8,344.8 825.1,351 825.3,332 825.6,339.6 825.9,329 826.2,311.7 826.5,350.7 826.8,357.1 827.1,355.4 827.4,349.8 827.7,347.1 828,340.7 828.3,326.8 828.6,327.3 828.8,348.4 829.1,339.3 829.4,333 829.7,343.4 830,330.2 830.3,341.8 830.6,322.7 830.9,331.4 831.2,333.7 831.5,341.5 831.8,341.4 832.1,360.5 832.3,356.1 832.6,343.2 832.9,367.5 833.2,343.6 833.5,372.3 833.8,343.8 834.1,356.6 834.4,330.2 834.7,326.6 835,345.4 835.3,314 835.5,317.9 835.8,333.3 836.1,335.8 836.4,332.7 836.7,337.5 837,319.5 837.3,328.7 837.6,328.3 837.9,339.5 838.2,339.8 838.5,355.3 838.8,327.3 839,337.3 839.3,318.8 839.6,328.4 839.9,338.9 840.2,337.1 840.5,342.2 840.8,334.2 841.1,344.3 841.4,348.4 841.7,366.4 842,365.8 842.3,339.1 842.5,358.4 842.8,354.3 843.1,336.3 843.4,324.6 843.7,344.1 844,329.2 844.3,331.3 844.6,343.1 844.9,323.9 845.2,331.1 845.5,335.2 845.8,341.3 846,331.9 846.3,338.8 846.6,336.2 846.9,345.8 847.2,345.4 847.5,323.8 847.8,340.9 848.1,331.6 848.4,341 848.7,352.7 849,360.7 849.2,356.1 849.5,366.5 849.8,361.7 850.1,352.6 850.4,336.5 850.7,333.1 851,332.4 851.3,342.9 851.6,352.7 851.9,334.6 852.2,336.7 852.5,343.1 852.7,341 853,339 853.3,340.3 853.6,340.3 853.9,355 854.2,335.6 854.5,363.7 854.8,350.7 855.1,352 855.4,349.4 855.7,337.5 856,338.1 856.2,358.9 856.5,363.7 856.8,340.1 857.1,349.3 857.4,335.9 857.7,323.5 858,341.7 858.3,345.3 858.6,327 858.9,331 859.2,334.6 859.4,315.9 859.7,303.7 860,294.7 860.3,282 860.6,288.9 860.9,295.2 861.2,277.1 861.5,282.1 861.8,277.7 862.1,288.2 862.4,286.1 862.7,286.9 862.9,287.4 863.2,278.6 863.5,288.2 863.8,277.1 864.1,276.9 864.4,263.1 864.7,292 865,272.1 865.3,283.6 865.6,282.4 865.9,296.1 866.2,285.3 866.4,273.5 866.7,281.1 867,279.2 867.3,283.5 867.6,271.4 867.9,278.4 868.2,295.9 868.5,282.5 868.8,293 869.1,306.8 869.4,282.8 869.7,265.9 869.9,276 870.2,287.5 870.5,286.6 870.8,270.4 871.1,277.8 871.4,279 871.7,280.2 872,279.2 872.3,273 872.6,275.3 872.9,276.9 873.1,285.6 873.4,271.5 873.7,280.9 874,266.4 874.3,284.2 874.6,277.4 874.9,277.5 875.2,292.5 875.5,271.7 875.8,281.4 876.1,304.7 876.4,298.3 876.6,302.9 876.9,326.5 877.2,296.9 877.5,294 877.8,287.6 878.1,294.1 878.4,285 878.7,282.3 879,270.8 879.3,277.7 879.6,280.9 879.9,266.8 880.1,286.8 880.4,285.8 880.7,298.4 881,269 881.3,271.7 881.6,270.6 881.9,272.4 882.2,278.5 882.5,278.6 882.8,282.8 883.1,281.5 883.4,279.1 883.6,266.9 883.9,277 884.2,282.6 884.5,285.5 884.8,285.1 885.1,265.3 885.4,273.7 885.7,277.2 886,280.9 886.3,288.3 886.6,280.1 886.8,273.4 887.1,284.8 887.4,280.6 887.7,281.1 888,276.7 888.3,291.5 888.6,280.1 888.9,284.5 889.2,268.9 889.5,282.1 889.8,269.5 890.1,265.4 890.3,279.6 890.6,282.5 890.9,276.5 891.2,277 891.5,284.2 891.8,271.7 892.1,257.6 892.4,277.7 892.7,277.3 893,283.4 893.3,270.2 893.6,281.9 893.8,280 894.1,261.9 894.4,280.4 894.7,264.9 895,262.5 895.3,271.2 895.6,272.2 895.9,265.3 896.2,289.2 896.5,296.7 896.8,303 897,290.5 897.3,275.2 897.6,273.8 897.9,288.7 898.2,286.6 898.5,283.5 898.8,273.9 899.1,275.9 899.4,272.2 899.7,271.4 900,276.1 900.3,274.6 900.5,272.2 900.8,272.5 901.1,265.6 901.4,255.2 901.7,267 902,271.1 902.3,283.5 902.6,266.8 902.9,286 903.2,281.1 903.5,264.1 903.8,266.4 904,273.7 904.3,288 904.6,278.9 904.9,283.5 905.2,270.4 905.5,256.3 905.8,272.3 906.1,278.9 906.4,282.7 906.7,273.5 907,273.9 907.3,282.3 907.5,273.1 907.8,286.5 908.1,272 908.4,276.3 908.7,278.9 909,292.9 909.3,284.1 909.6,288.8 909.9,288.3 910.2,284.5 910.5,290.2 910.7,289.4 911,268.7 911.3,275.4 911.6,270.5 911.9,263.4 912.2,287.2 912.5,279.4 912.8,272.2 913.1,270.8 913.4,278.6 913.7,269.9 914,281 914.2,298.5 914.5,303.6 914.8,290.5 915.1,292.9 915.4,310.1 915.7,278.1 916,278.8 916.3,266.1 916.6,277.3 916.9,275 917.2,279.8 917.5,250.9 917.7,273.6 918,258.3 918.3,277.2 918.6,270.3 918.9,289.4 919.2,278.5 919.5,268.2 919.8,285.9 920.1,265.2 920.4,271.2 920.7,283.2 921,279.7 921.2,280.5 921.5,276.5 921.8,283.1 922.1,285.7 922.4,280.1 922.7,285.1 923,284.4 923.3,272.2 923.6,263.1 923.9,282.3 924.2,268.6 924.4,272.6 924.7,274.2 925,260.7 925.3,272.5 925.6,255.4 925.9,273.9 926.2,264.6 926.5,268.2 926.8,271.8 927.1,261.1 927.4,267.6 927.7,258.7 927.9,263 928.2,272.3 928.5,264.1 928.8,263.7 929.1,258.7 929.4,274.4 929.7,267.4 930,280.8 930.3,264.5 930.6,280.1 930.9,286.6 931.2,273.5 931.4,261.9 931.7,281.1 932,275.4 932.3,272.1 932.6,275.4 932.9,262.9 933.2,274.1 933.5,273.6 933.8,261.8 934.1,272.5 934.4,263.3 934.6,276.5 934.9,279 935.2,282.9 935.5,250.9 935.8,266.4 936.1,261.6 936.4,264.8 936.7,262.6 937,262.9 937.3,247.6 937.6,272.6 937.9,277.1 938.1,274.1 938.4,275.6 938.7,258.5 939,256.2 939.3,272.2 939.6,276 939.9,268 940.2,253.1 940.5,287.2 940.8,260.3 941.1,272.5 941.4,255.4 941.6,272.6 941.9,266.2 942.2,277.9 942.5,273 942.8,254.6 943.1,258.4 943.4,267.4 943.7,273.2 944,281.9 944.3,270.5 944.6,267.9 944.9,267.9 945.1,268.1 945.4,275.6 945.7,267.3 946,267.7 946.3,255.3 946.6,250.4 946.9,266 947.2,269.7 947.5,263 947.8,268.3 948.1,270 948.3,264.6 948.6,271.8 948.9,259 949.2,264.6 949.5,261.2 949.8,263 950.1,267.5 950.4,268.5 950.7,261.5 951,266.3 951.3,260.1 951.6,262.4 951.8,271.3 952.1,260.5 952.4,274.4 952.7,268.5 953,266 953.3,280.9 953.6,261.4 953.9,262.1 954.2,264.1 954.5,266.7 954.8,264.3 955.1,267.7 955.3,261.6 955.6,262.9 955.9,256.3 956.2,265.1 956.5,251.5 956.8,252 957.1,254.7 957.4,258.5 957.7,250.9 958,268.5 958.3,253.2 958.6,257.5 958.8,259.1 959.1,260.9 959.4,268.9 959.7,265.9 960,260.4 960.3,261.6 960.6,262.7 960.9,275.5 961.2,255.9 961.5,248.7 961.8,249.2 962,254.4 962.3,268.1 962.6,246.5 962.9,254.8 963.2,274.9 963.5,252.4 963.8,269.3 964.1,269.9 964.4,263.7 964.7,250.7 965,264.8 965.3,259.6 965.5,248.7 965.8,248.9 966.1,263.3 966.4,264.3 966.7,272.1 967,267.4 967.3,257.8 967.6,256.2 967.9,258.9 968.2,251.8 968.5,266 968.8,258 969,251.5 969.3,251.1 969.6,246.9 969.9,251.4 970.2,257.7 970.5,251.8 970.8,261.6 971.1,265.7 971.4,248.5 971.7,252.3 972,250.2 972.2,265.2 972.5,254.8 972.8,258.4 973.1,259.7 973.4,271.3 973.7,258 974,248.7 974.3,254.2 974.6,260.1 974.9,256.1 975.2,251.3 975.5,276.5 975.7,257.3 976,250.4 976.3,249.2 976.6,242.9 976.9,246.4 977.2,254.9 977.5,255.7 977.8,252.3 978.1,262.7 978.4,256.9 978.7,252.8 979,242.6 979.2,257.6 979.5,254.7 979.8,252 980.1,242.8 980.4,250.6 980.7,238.8 981,259.6 981.3,251.2 981.6,252.7 981.9,246 982.2,244.2 982.5,264.6 982.7,260.3 983,251.1 983.3,260.6 983.6,267.9 983.9,248.9 984.2,253.1 984.5,251.4 984.8,259.7 985.1,248 985.4,256.8 985.7,246.2 985.9,261.3 986.2,259.4 986.5,251.5 986.8,257.1 987.1,246 987.4,250.1 987.7,259.9 988,252.4 988.3,256.8 988.6,245.4 988.9,257.6 989.2,255.9 989.4,243.2 989.7,235 990,237.3 990.3,250.1 990.6,249.2 990.9,238.6 991.2,251.8 991.5,258.9 991.8,250.1 992.1,248.4 992.4,257.5 992.7,262 992.9,261.5 993.2,243.6 993.5,254.3 993.8,249.3 994.1,245.1 994.4,241.3 994.7,246.4 995,241.1 995.3,254 995.6,248.6 995.9,255.3 996.2,238.9 996.4,250.7 996.7,256.1 997,252.9 997.3,253.8 997.6,247.3 997.9,264.8 998.2,265.5 998.5,264.5 998.8,248.4 999.1,263 999.4,273.5 999.6,266.6 999.9,254.1 1000.2,266.5 1000.5,263.5 1000.8,247.4 1001.1,250.3 1001.4,246.8 1001.7,256 1002,238.9 1002.3,239.2 1002.6,248 1002.9,247.1 1003.1,267.1 1003.4,245.4 1003.7,253.2 1004,248.3 1004.3,244.8 1004.6,251 1004.9,263.3 1005.2,247.2 1005.5,255 1005.8,251.4 1006.1,253.6 1006.4,251.1 1006.6,265.4 1006.9,238.5 1007.2,245.8 1007.5,239.7 1007.8,231.9 1008.1,247.8 1008.4,263.5 1008.7,256.7 1009,258.5 1009.3,253.8 1009.6,249 1009.9,266.8 1010.1,247.9 1010.4,261.6 1010.7,247.5 1011,248.6 1011.3,251.3 1011.6,250.8 1011.9,253.7 1012.2,254.2 1012.5,259.2 1012.8,246 1013.1,232.9 1013.3,231.4 1013.6,238 1013.9,242.9 1014.2,249.7 1014.5,233.6 1014.8,244.6 1015.1,246 1015.4,246.6 1015.7,242.7 1016,246.3 1016.3,243.7 1016.6,251.2 1016.8,246.8 1017.1,225.7 1017.4,243.5 1017.7,245.1 1018,240.6 1018.3,240.1 1018.6,253.5 1018.9,245.2 1019.2,235 1019.5,240.7 1019.8,242.2 1020.1,231.3 1020.3,247.7 1020.6,243 1020.9,246.5 1021.2,230.8 1021.5,257.6 1021.8,248.5 1022.1,246.9 1022.4,238 1022.7,238.3 1023,234.4 1023.3,255.2 1023.5,239.2 1023.8,249.6 1024.1,251.4 1024.4,242.5 1024.7,253.5 1025,260.2 1025.3,247.3 1025.6,253.7 1025.9,248.5 1026.2,240.4 1026.5,241.1 1026.8,232.5 1027,246.4 1027.3,257.6 1027.6,254.6 1027.9,257.4 1028.2,261.4 1028.5,249.5 1028.8,256.5 1029.1,265.4 1029.4,244.3 1029.7,248.4 1030,244.6 1030.3,245.7 1030.5,242.2 1030.8,243.3 1031.1,232.3 1031.4,238.8 1031.7,240.1 1032,240.5 1032.3,256.6 1032.6,247.5 1032.9,248.1 1033.2,243.4 1033.5,257.2 1033.8,235.5 1034,247.4 1034.3,255.7 1034.6,260 1034.9,248.7 1035.2,246.2 1035.5,252.3 1035.8,244.8 1036.1,250.2 1036.4,240.6 1036.7,249.9 1037,244.6 1037.2,237.8 1037.5,226.7 1037.8,252.8 1038.1,247.4 1038.4,252.8 1038.7,239.6 1039,255.9 1039.3,250 1039.6,246.9 1039.9,252.1 1040.2,252.4 1040.5,247.6 1040.7,259.3 1041,253.9 1041.3,248.4 1041.6,245.1 1041.9,248.7 1042.2,259.9 1042.5,251.3 1042.8,241.7 1043.1,245.3 1043.4,248.9 1043.7,254.5 1044,243.3 1044.2,249.3 1044.5,251.9 1044.8,249.7 1045.1,233.9 1045.4,243 1045.7,236.9 1046,250.2 1046.3,240 1046.6,250.1 1046.9,247.6 1047.2,229.2 1047.5,241.1 1047.7,250.5 1048,248.4 1048.3,245.6 1048.6,241.1 1048.9,255.7 1049.2,268.5 1049.5,264 1049.8,267.1 1050.1,269.4 1050.4,260.4 1050.7,264.1 1050.9,256 1051.2,264.4 1051.5,247.1 1051.8,235.5 1052.1,240.4 1052.4,242.7 1052.7,241.9 1053,229.3 1053.3,246.2 1053.6,241.7 1053.9,235.8 1054.2,232.8 1054.4,241.2 1054.7,237.8 1055,240.8 1055.3,238.9 1055.6,242 1055.9,249.1 1056.2,241.3 1056.5,237.7 1056.8,249.8 1057.1,243.9 1057.4,236.5 1057.7,249.9 1057.9,240.4 1058.2,248.3 1058.5,232.8 1058.8,225.2 1059.1,226.1 1059.4,242.3 1059.7,237.7 1060,243.4 1060.3,241.6 1060.6,233.1 1060.9,253.6 1061.1,238.2 1061.4,243.8 1061.7,233.2 1062,241.9 1062.3,246.4 1062.6,238.4 1062.9,236.9 1063.2,241.8 1063.5,237.4 1063.8,243.8 1064.1,256.8 1064.4,240.5 1064.6,244.4 1064.9,251.8 1065.2,256.5 1065.5,251 1065.8,260.3 1066.1,261 1066.4,255.5 1066.7,243.3 1067,256.4 1067.3,237.5 1067.6,246.1 1067.9,248.3 1068.1,233.7 1068.4,243.4 1068.7,251.2 1069,246.5 1069.3,237.7 1069.6,236.5 1069.9,245.9 1070.2,243 1070.5,242.4 1070.8,251.7 1071.1,245.3 1071.4,247.5 1071.6,249.6 1071.9,247.6 1072.2,243.8 1072.5,243.9 1072.8,247.2 1073.1,245.6 1073.4,236 1073.7,242 1074,236.9 1074.3,233.5 1074.6,238.6 1074.8,227.2 1075.1,250.1 1075.4,242.3 1075.7,252.7 1076,237.8 1076.3,237.5 1076.6,260.4 1076.9,252.9 1077.2,239.6 1077.5,237.6 1077.8,237.4 1078.1,240.5 1078.3,236.2 1078.6,235.7 1078.9,239.4 1079.2,231.2 1079.5,252.1 1079.8,233.5 1080.1,245.4 1080.4,232.4 1080.7,243.4 1081,246.8 1081.3,240.3 1081.6,249.2 1081.8,250.8 1082.1,255.7 1082.4,246.4 1082.7,241.9 1083,237.5 1083.3,241.4 1083.6,234.5 1083.9,238.7 1084.2,240.5 1084.5,234.9 1084.8,230.8 1085.1,239.9 1085.3,239.6 1085.6,239.6 1085.9,239.4 1086.2,245.5 1086.5,234.5 1086.8,243.6 1087.1,238.1 1087.4,247.8 1087.7,240.5 1088,238.8 1088.3,246.2 1088.5,231.6 1088.8,241.7 1089.1,233.8 1089.4,236 1089.7,249 1090,244.6 1090.3,237.6 1090.6,240.4 1090.9,238.3 1091.2,239.5 1091.5,250.3 1091.8,238.3 1092,253.9 1092.3,235.8 1092.6,242.9 1092.9,245.1 1093.2,243.1 1093.5,239.7 1093.8,251.7 1094.1,251.9 1094.4,248 1094.7,254.3 1095,247.5 1095.3,233.2 1095.5,249.1 1095.8,238.2 1096.1,251.3 1096.4,239.1 1096.7,244.5 1097,242.3 1097.3,237.2 1097.6,229.1 1097.9,238.4 1098.2,238.7 1098.5,246.4 1098.7,235.8 1099,240.8 1099.3,231.8 1099.6,236.9 1099.9,225.8 1100.2,249.2 1100.5,238.2 1100.8,230.6 1101.1,235.8 1101.4,238.1 1101.7,236.4 1102,245.6 1102.2,236.4 1102.5,222.4 1102.8,230.2 1103.1,243 1103.4,241.9 1103.7,240.5 1104,233.2 1104.3,245.2 1104.6,243 1104.9,235.7 1105.2,236.6 1105.5,244.4 1105.7,249.3 1106,251.6 1106.3,246.2 1106.6,256.4 1106.9,236.9 1107.2,247.1 1107.5,239.1 1107.8,229.9 1108.1,233 1108.4,245.2 1108.7,232.1 1109,229.3 1109.2,238.7 1109.5,239.5 1109.8,231.8 1110.1,239.5 1110.4,222 1110.7,243.8 1111,236.8 1111.3,230.9 1111.6,230.2 1111.9,228.5 1112.2,228.2 1112.4,229.9 1112.7,222 1113,241.2 1113.3,228.5 1113.6,233 1113.9,229.8 1114.2,231.1 1114.5,237.6 1114.8,234.3 1115.1,226.8 1115.4,229.3 1115.7,233.5 1115.9,216.5 1116.2,215.9 1116.5,236.5 1116.8,224.2 1117.1,210.2 1117.4,220.7 1117.7,223.6 1118,225.6 1118.3,228.6 1118.6,227 1118.9,225 1119.2,217.5 1119.4,225 1119.7,224 1120,227.5 1120.3,220.1 1120.6,225.9 1120.9,219.5 1121.2,212.5 1121.5,219.2 1121.8,218 1122.1,217.5 1122.4,218.9 1122.7,219.9 1122.9,221.4 1123.2,213.3 1123.5,225 1123.8,209.2 1124.1,217.1 1124.4,222.6 1124.7,220.3 1125,223.2 1125.3,219 1125.6,224.3 1125.9,214.4 1126.1,226.3 1126.4,234.7 1126.7,226.5 1127,231.9 1127.3,219 1127.6,211.2 1127.9,213.4 1128.2,224.4 1128.5,219 1128.8,204.6 1129.1,214.3 1129.4,214.2 1129.6,208.2 1129.9,201.8 1130.2,208 1130.5,215.2 1130.8,214.5 1131.1,215.1 1131.4,221.9 1131.7,224.7 1132,218.1 1132.3,225.5 1132.6,219 1132.9,218.8 1133.1,206.3 1133.4,224.3 1133.7,220 1134,219.2 1134.3,215.6 1134.6,211.6 1134.9,219.5 1135.2,223.3 1135.5,228 1135.8,220.8 1136.1,215 1136.3,217.2 1136.6,223.5 1136.9,220.6 1137.2,219.6 1137.5,215.1 1137.8,221.4 1138.1,217.6 1138.4,228.1 1138.7,222.1 1139,205.5 1139.3,227.7 1139.6,214.9 1139.8,210 1140.1,215.2 1140.4,217.3 1140.7,213.5 1141,212.9 1141.3,214.3 1141.6,225.8 1141.9,215.9 1142.2,221.6 1142.5,220.4 1142.8,216.8 1143.1,214.7 1143.3,214 1143.6,222 1143.9,211.5 1144.2,197.5 1144.5,185.9 1144.8,193.3 1145.1,211.3 1145.4,211.5 1145.7,205.8 1146,221.5 1146.3,213.2 1146.6,217.4 1146.8,216.5 1147.1,225.7 1147.4,221.8 1147.7,217.8 1148,212.2 1148.3,213.4 1148.6,217.1 1148.9,217.9 1149.2,221.2 1149.5,215.5 1149.8,219.1 1150,214.9 1150.3,207.4 1150.6,217.9 1150.9,223.4 1151.2,218.8 1151.5,222 1151.8,222.3 1152.1,208.9 1152.4,213 1152.7,223.4 1153,211.2 1153.3,208.6 1153.5,218.8 1153.8,221.6 1154.1,219.9 1154.4,215.7 1154.7,210.5 1155,208.3 1155.3,209.3 1155.6,210.6 1155.9,209.8 1156.2,213.3 1156.5,225.4 1156.8,217.1 1157,213.9 1157.3,220.1 1157.6,213.7 1157.9,219.4 1158.2,221.2 1158.5,204.7 1158.8,210.5 1159.1,213.8 1159.4,208.8 1159.7,208.2 1160,213.3 1160.3,229.4 1160.5,220.1 1160.8,218.8 1161.1,224.1 1161.4,215.7 1161.7,208.9 1162,219.1 1162.3,222.7 1162.6,203.3 1162.9,216.4 1163.2,220.2 1163.5,211.9 1163.7,210.4 1164,217.6 1164.3,202.4 1164.6,184.1 1164.9,190.5 1165.2,213.2 1165.5,220.1 1165.8,234.2 1166.1,232.4 1166.4,237 1166.7,219.1 1167,236.3 1167.2,219 1167.5,223 1167.8,220.4 1168.1,213.5 1168.4,209.8 1168.7,207.9 1169,212.4 1169.3,218.7 1169.6,217.9 1169.9,211.9 1170.2,212.2 1170.5,206.2 1170.7,212.2 1171,208 1171.3,204.4 1171.6,213.4 1171.9,222.9 1172.2,222.1 1172.5,223.5 1172.8,206.1 1173.1,219.7 1173.4,207.7 1173.7,211.4 1173.9,204.8 1174.2,208.7 1174.5,214.6 1174.8,213.8 1175.1,211.5 1175.4,209.4 1175.7,214.9 1176,211.6 1176.3,201.3 1176.6,221 1176.9,210.7 1177.2,218.2 1177.4,213.3 1177.7,209 1178,214.9 1178.3,209.3 1178.6,221.7 1178.9,206.3 1179.2,216.8 1179.5,208.6 1179.8,210 1180.1,224.3 1180.4,214.3 1180.7,208.8 1180.9,200 1181.2,208.3 1181.5,210.3 1181.8,218.1 1182.1,201.9 1182.4,199.8 1182.7,210.1 1183,210.4 1183.3,217.9 1183.6,205 1183.9,195.9 1184.2,207.8 1184.4,206.7 1184.7,211.5 1185,220.4 1185.3,209.1 1185.6,225.4 1185.9,219.4 1186.2,216.3 1186.5,213 1186.8,214.3 1187.1,214.1 1187.4,221.8 1187.6,226 1187.9,216.5 1188.2,220.1 1188.5,223.1 1188.8,222.8 1189.1,218.6 1189.4,228 1189.7,225.3 1190,226 1190.3,216.2 1190.6,214.9 1190.9,206 1191.1,227.1 1191.4,222.3 1191.7,213 1192,220.1 1192.3,220.5 1192.6,207.7 1192.9,217 1193.2,222.1 1193.5,222.6 1193.8,213.3 1194.1,212.6 1194.4,220.9 1194.6,217.8 1194.9,208 1195.2,209.4 1195.5,218 1195.8,211.7 1196.1,212.8 1196.4,225.9 1196.7,218.9 1197,215.5 1197.3,219.5 1197.6,229.5 1197.9,218.9 1198.1,211.1 1198.4,204 1198.7,225.3 1199,199.5 1199.3,221.2 1199.6,208.5 1199.9,208.1 1200.2,207.8 1200.5,213.1 1200.8,221 1201.1,212.6 1201.3,219.4 1201.6,228.2 1201.9,196.5 1202.2,209.6 1202.5,204.5 1202.8,222.3 1203.1,208.1 1203.4,208.9 1203.7,207.5 1204,216.4 1204.3,222.8 1204.6,218.8 1204.8,229.8 1205.1,226.3 1205.4,214 1205.7,219.3 1206,213.4 1206.3,214.6 1206.6,206.3 1206.9,211.6 1207.2,220.8 1207.5,215.6 1207.8,228.5 1208.1,229.4 1208.3,222.7 1208.6,232 1208.9,224.6 1209.2,227.5 1209.5,217.6 1209.8,208 1210.1,221.9 1210.4,215.9 1210.7,220.1 1211,222.7 1211.3,224.5 1211.6,208.5 1211.8,202.7 1212.1,213.2 1212.4,219.6 1212.7,210.4 1213,217.1 1213.3,212.3 1213.6,213.7 1213.9,213.6 1214.2,212 1214.5,217.7 1214.8,216.6 1215,223.5 1215.3,217.2 1215.6,223.2 1215.9,216.6 1216.2,222.1 1216.5,216.1 1216.8,214.6 1217.1,226.8 1217.4,223.2 1217.7,223.6 1218,215.6 1218.3,207.9 1218.5,212 1218.8,217.9 1219.1,207 1219.4,223 1219.7,205.7 1220,216.1 1220.3,229.4 1220.6,197.6 1220.9,204.3 1221.2,219.8 1221.5,213.1 1221.8,215.8 1222,212.1 1222.3,221.2 1222.6,218.6 1222.9,210.7 1223.2,211.9 1223.5,208.2 1223.8,213.2 1224.1,200.3 1224.4,217.4 1224.7,213.1 1225,223.6 1225.2,219.5 1225.5,205.4 1225.8,219 1226.1,209.9 1226.4,213.4 1226.7,219.3 1227,215.7 1227.3,218.3 1227.6,217.7 1227.9,209.3 1228.2,210.4 1228.5,216 1228.7,217.9 1229,210.4 1229.3,211.8 1229.6,205.6 1229.9,196 1230.2,207.3 1230.5,214.9 1230.8,214.7 1231.1,219.5 1231.4,219.1 1231.7,220.3 1232,210.3 1232.2,182.6 1232.5,165.7 1232.8,203.4 1233.1,213.1 1233.4,220.5 1233.7,203.8 1234,210.5 1234.3,202.7 1234.6,210.9 1234.9,206.8 1235.2,218.6 1235.5,211.4 1235.7,202.6 1236,225 1236.3,213.3 1236.6,209.1 1236.9,218.1 1237.2,214.4 1237.5,212.2 1237.8,223.3 1238.1,218.6 1238.4,223.6 1238.7,221.8 1238.9,219.2 1239.2,218.2 1239.5,215.5 1239.8,214.2 1240.1,224 1240.4,201.6 1240.7,205.6 1241,208.5 1241.3,215 1241.6,214.9 1241.9,209.7 1242.2,211.5 1242.4,223.8 1242.7,210.4 1243,200.1 1243.3,225.7 1243.6,211.8 1243.9,214.5 1244.2,216 1244.5,209.8 1244.8,223.9 1245.1,215.1 1245.4,206.2 1245.7,216.1 1245.9,220.3 1246.2,214.5 1246.5,216.6 1246.8,206.3 1247.1,221.1 1247.4,209.2 1247.7,221.8 1248,211.3 1248.3,215 1248.6,227.9 1248.9,214.6 1249.2,220.6 1249.4,215.6 1249.7,204.3 1250,221.4 1250.3,219.3 1250.6,206.5 1250.9,215.1 1251.2,206.7 1251.5,213.3 1251.8,221.5 1252.1,218.5 1252.4,209.6 1252.6,210.8 1252.9,217.4 1253.2,217.5 1253.5,217.5 1253.8,220.2 1254.1,204.9 1254.4,215.3 1254.7,221.4 1255,217 1255.3,209.5 1255.6,209.3 1255.9,212.5 1256.1,213.7 1256.4,208.6 1256.7,219.3 1257,217.9 1257.3,205.2 1257.6,212.4 1257.9,208 1258.2,205.5 1258.5,210.7 1258.8,215.5 1259.1,204.1 1259.4,211.6 1259.6,218.1 1259.9,211.8 1260.2,214.6 1260.5,221.2 1260.8,214.4 1261.1,214.8 1261.4,225.8 1261.7,218.1 1262,220.2 1262.3,221.5 1262.6,228.8 1262.8,221.2 1263.1,219.2 1263.4,219 1263.7,227 1264,218.4 1264.3,229.7 1264.6,224.8 1264.9,214.9 1265.2,226.1 1265.5,222.8 1265.8,212.3 1266.1,219.4 1266.3,216.6 1266.6,212.2 1266.9,207.4 1267.2,226.3 1267.5,220.8 1267.8,221.1 1268.1,221.9 1268.4,222.5 1268.7,221.9 1269,215.8 1269.3,224.5 1269.6,218.9 1269.8,217.8 1270.1,221.5 1270.4,217.9 1270.7,209.4 1271,212.3 1271.3,205.1 1271.6,139.3 1271.9,62.7 1272.2,94.9 1272.5,176.7 1272.8,215.7 1273.1,209.7 1273.3,167.3 1273.6,92.6 1273.9,41.8 1274.2,117.2 1274.5,193.6 1274.8,219.2 1275.1,211.1 1275.4,231.8 1275.7,238.8 1276,245.9 1276.3,246.8 1276.5,238.7 1276.8,232.2 1277.1,214.7 1277.4,218 1277.7,209 1278,214.5 1278.3,213.8 1278.6,225.8 1278.9,217.9 1279.2,217.5 1279.5,218.8 1279.8,228.7 1280,213 1280.3,219.8 1280.6,220.3 1280.9,218.3 1281.2,217.2 1281.5,214.1 1281.8,223.1 1282.1,221.9 1282.4,216 1282.7,216.5 1283,218.9 1283.3,219.7 1283.5,220 1283.8,215.1 1284.1,208.1 1284.4,221.5 1284.7,207.3 1285,208.6 1285.3,215 1285.6,208.7 1285.9,220.4 1286.2,223 1286.5,220.7 1286.8,215.6 1287,213.4 1287.3,213.5 1287.6,211 1287.9,223.2 1288.2,210.3 1288.5,221.4 1288.8,218.2 1289.1,215.8 1289.4,221.7 1289.7,223.6 1290,220 1290.2,215.3 1290.5,213.2 1290.8,212.7 1291.1,219.7 1291.4,217.9 1291.7,219 1292,209.7 1292.3,223.2 1292.6,205 1292.9,213.8 1293.2,214.9 1293.5,209.3 1293.7,206.4 1294,209.6 1294.3,205.6 1294.6,210.5 1294.9,205.6 1295.2,207.7 1295.5,215.2 1295.8,206.8 1296.1,214.4 1296.4,215.7 1296.7,222 1297,219.3 1297.2,215 1297.5,224.9 1297.8,214.8 1298.1,217 1298.4,217.7 1298.7,230.4 1299,217.9 1299.3,215.5 1299.6,223.2 1299.9,218.9 1300.2,232.4 1300.4,215.6 1300.7,222.2 1301,213.4 1301.3,227.8 1301.6,213.4 1301.9,215.4 1302.2,208.6 1302.5,217.3 1302.8,212.9 1303.1,171.2 1303.4,89.8 1303.7,-61 1303.9,-97.1 1304.2,42.3 1304.5,156.4 1304.8,198.7 1305.1,217.3 1305.4,222.9 1305.7,208 1306,208.8 1306.3,209.3 1306.6,206.8 1306.9,215.7 1307.2,212.2 1307.4,218.1 1307.7,221 1308,207 1308.3,216.4 1308.6,200.1 1308.9,212.8 1309.2,218.8 1309.5,212.4 1309.8,207 1310.1,213.2 1310.4,220.4 1310.7,213.5 1310.9,206.7 1311.2,217.4 1311.5,216.9 1311.8,206.2 1312.1,211.1 1312.4,217.4 1312.7,213.3 1313,216 1313.3,208.3 1313.6,210.8 1313.9,203.3 1314.1,207.7 1314.4,221.1 1314.7,209.5 1315,207 1315.3,208.9 1315.6,203.2 1315.9,212.2 1316.2,214.3 1316.5,206.1 1316.8,216.5 1317.1,221.6 1317.4,205.6 1317.6,217.7 1317.9,217.2 1318.2,224.4 1318.5,222.4 1318.8,220.7 1319.1,216.4 1319.4,211.9 1319.7,226.2 1320,210.5 1320.3,220 1320.6,218.3 1320.9,208.6 1321.1,215.8 1321.4,224.2 1321.7,205.2 1322,219.4 1322.3,212.2 1322.6,212.7 1322.9,205.3 1323.2,216.2 1323.5,208.3 1323.8,217.1 1324.1,208.3 1324.4,218 1324.6,217.1 1324.9,204.7 1325.2,212 1325.5,211.7 1325.8,199.2 1326.1,209.2 1326.4,214 1326.7,205.7 1327,217.3 1327.3,203.9 1327.6,203 1327.8,211.3 1328.1,210.4 1328.4,207.4 1328.7,208.7 1329,213.6 1329.3,204.8 1329.6,217.8 1329.9,210.9 1330.2,211.2 1330.5,212.6 1330.8,211.1 1331.1,220.6 1331.3,210.4 1331.6,216.1 1331.9,217.9 1332.2,222.9 1332.5,221.4 1332.8,213.2 1333.1,219.9 1333.4,214.9 1333.7,208.9 1334,212 1334.3,208.1 1334.6,218.1 1334.8,221.7 1335.1,209.9 1335.4,215.3 1335.7,211.2 1336,217.1 1336.3,211.1 1336.6,208.9 1336.9,211.2 1337.2,212.1 1337.5,210.8 1337.8,213.8 1338,214.7 1338.3,209.4 1338.6,217.6 1338.9,205 1339.2,215.5 1339.5,208.8 1339.8,216 1340.1,220 1340.4,206.3 1340.7,217.7 1341,222.9 1341.3,219.4 1341.5,218.8 1341.8,205.5 1342.1,214.4 1342.4,209 1342.7,217.6 1343,211.1 1343.3,209.2 1343.6,204 1343.9,218 1344.2,209.7 1344.5,212.6 1344.8,220.3 1345,215.9 1345.3,216.1 1345.6,226.4" fill="none" stroke="#1f77b4" stroke-width="3.0" stroke-linejoin="round" />
<polyline points="796.2,305.2 796.5,321 796.8,303 797.1,313.1 797.4,333.1 797.7,295.2 797.9,278.2 798.2,264.8 798.5,273.6 798.8,281.2 799.1,295.5 799.4,274 799.7,297.8 800,300.8 800.3,299.9 800.6,290.8 800.9,300.1 801.2,307.6 801.4,284.2 801.7,308.1 802,295 802.3,298.6 802.6,293.5 802.9,294.6 803.2,315.6 803.5,306.8 803.8,313.8 804.1,277.8 804.4,287.5 804.7,283.6 804.9,300.6 805.2,323.3 805.5,294.5 805.8,310.2 806.1,311.8 806.4,308.4 806.7,293.4 807,294.7 807.3,317.7 807.6,289 807.9,310.4 808.2,299.8 808.4,278.3 808.7,291.8 809,296.4 809.3,318.8 809.6,297.9 809.9,297.2 810.2,312 810.5,319.2 810.8,317.7 811.1,322.4 811.4,304.5 811.6,308.1 811.9,304.1 812.2,314.4 812.5,294.2 812.8,288.1 813.1,316.9 813.4,319.5 813.7,297.1 814,305.5 814.3,290 814.6,298.4 814.9,251.3 815.1,108.6 815.4,-278.5 815.7,-676.1 816,-812.1 816.3,-597.5 816.6,-200.3 816.9,109.9 817.2,249.9 817.5,284.2 817.8,268.8 818.1,280.8 818.4,269.9 818.6,288.2 818.9,308.5 819.2,308.4 819.5,312.6 819.8,310.5 820.1,277.5 820.4,289.5 820.7,286 821,271.8 821.3,268.1 821.6,277.2 821.8,262.2 822.1,282.4 822.4,291.9 822.7,286.1 823,302.5 823.3,283 823.6,272.7 823.9,261.9 824.2,274.1 824.5,275.9 824.8,268.5 825.1,267.7 825.3,267.8 825.6,266.9 825.9,282.7 826.2,288.2 826.5,294.1 826.8,306.4 827.1,313.7 827.4,289.5 827.7,291.8 828,292.3 828.3,268.6 828.6,256.1 828.8,279 829.1,266 829.4,277.2 829.7,276 830,273 830.3,266 830.6,240.7 830.9,273.3 831.2,244.9 831.5,272.1 831.8,275.6 832.1,265.6 832.3,276.5 832.6,279.2 832.9,302.2 833.2,294.3 833.5,314.7 833.8,272.8 834.1,295.6 834.4,274.7 834.7,274.3 835,273.5 835.3,278.4 835.5,263 835.8,272.7 836.1,264 836.4,273.7 836.7,265.7 837,250.8 837.3,260.9 837.6,272.1 837.9,256 838.2,275.2 838.5,283.8 838.8,261 839,272.7 839.3,246.4 839.6,260.9 839.9,247.6 840.2,253.7 840.5,272.7 840.8,262.8 841.1,279.9 841.4,279.9 841.7,283.8 842,313.6 842.3,285.1 842.5,301.8 842.8,286.1 843.1,289.6 843.4,254.5 843.7,263.9 844,260.8 844.3,264.5 844.6,254.9 844.9,287.9 845.2,266.6 845.5,252.7 845.8,273.2 846,272.4 846.3,262.8 846.6,272.9 846.9,267.6 847.2,251.4 847.5,262 847.8,261.4 848.1,269.5 848.4,275.6 848.7,294.6 849,298.6 849.2,317.2 849.5,326.7 849.8,335.7 850.1,294.6 850.4,279 850.7,278.5 851,283.8 851.3,279.2 851.6,262.2 851.9,286.6 852.2,289.5 852.5,280.3 852.7,275.6 853,292.5 853.3,299 853.6,311.4 853.9,300.9 854.2,311.5 854.5,329.3 854.8,353.6 855.1,343.7 855.4,325.8 855.7,325.7 856,298.9 856.2,293.2 856.5,288.6 856.8,278 857.1,268.8 857.4,268.6 857.7,257.5 858,233.7 858.3,263.4 858.6,252.4 858.9,225.8 859.2,227.2 859.4,221 859.7,217 860,188.2 860.3,181.4 860.6,174.5 860.9,188 861.2,177.8 861.5,200.1 861.8,187.3 862.1,198.1 862.4,186.1 862.7,178.5 862.9,174.1 863.2,196.6 863.5,172.5 863.8,186.8 864.1,193.4 864.4,183 864.7,195.8 865,178.1 865.3,175.7 865.6,181.4 865.9,174.3 866.2,182.8 866.4,181.5 866.7,197.9 867,181.2 867.3,189 867.6,186.3 867.9,183.1 868.2,180.7 868.5,199.4 868.8,198.2 869.1,185 869.4,175.7 869.7,179.2 869.9,175 870.2,170.4 870.5,179.4 870.8,185.4 871.1,197.1 871.4,196.4 871.7,191 872,182.1 872.3,181.2 872.6,183 872.9,184.3 873.1,177.2 873.4,180.8 873.7,181.7 874,181.6 874.3,192.1 874.6,199.5 874.9,188.3 875.2,198.5 875.5,217.2 875.8,232.3 876.1,218 876.4,258.1 876.6,252.6 876.9,238.9 877.2,241.6 877.5,214.5 877.8,183.3 878.1,184.4 878.4,180.8 878.7,178.3 879,182.4 879.3,172.6 879.6,185.2 879.9,188.3 880.1,181.2 880.4,173.5 880.7,178.9 881,176.4 881.3,205.9 881.6,172.3 881.9,160.8 882.2,170.3 882.5,188.6 882.8,195.3 883.1,181.6 883.4,197.4 883.6,181.2 883.9,194.8 884.2,178.5 884.5,174.6 884.8,212.7 885.1,186.9 885.4,196.8 885.7,205.3 886,195.8 886.3,189.1 886.6,174.5 886.8,200.5 887.1,172.1 887.4,164 887.7,180.4 888,181.1 888.3,186.4 888.6,199.8 888.9,180.8 889.2,183 889.5,180.6 889.8,161.3 890.1,178.5 890.3,181.6 890.6,168.6 890.9,200.4 891.2,198.1 891.5,191.6 891.8,195 892.1,180.9 892.4,190.8 892.7,169.3 893,169.5 893.3,177.2 893.6,190.1 893.8,178 894.1,174.3 894.4,194.6 894.7,179.7 895,177.6 895.3,182.1 895.6,174.6 895.9,186.1 896.2,216.7 896.5,215.3 896.8,230.4 897,211.9 897.3,216.9 897.6,187.7 897.9,188.7 898.2,175.5 898.5,187.2 898.8,200 899.1,164.9 899.4,184.3 899.7,167.1 900,177.2 900.3,175.2 900.5,161 900.8,178.1 901.1,163.7 901.4,195.9 901.7,169.7 902,182.3 902.3,181.3 902.6,181.1 902.9,177.1 903.2,165.1 903.5,204.3 903.8,185.2 904,194.1 904.3,173.6 904.6,191.3 904.9,181.8 905.2,190.5 905.5,179 905.8,174.3 906.1,188.8 906.4,185 906.7,199.2 907,182.1 907.3,177.1 907.5,195.6 907.8,182.7 908.1,224.9 908.4,228.2 908.7,228 909,222.3 909.3,218 909.6,216.6 909.9,212.6 910.2,197.2 910.5,203.1 910.7,206 911,202.5 911.3,164.6 911.6,210 911.9,187.1 912.2,170.6 912.5,182.1 912.8,197.9 913.1,191.3 913.4,184 913.7,186.9 914,220.3 914.2,212 914.5,201.8 914.8,139.3 915.1,111.9 915.4,180.5 915.7,231.3 916,212.1 916.3,185.3 916.6,188.2 916.9,186.8 917.2,159.6 917.5,195.5 917.7,177 918,190.7 918.3,184.9 918.6,184.1 918.9,170.4 919.2,194.3 919.5,190.1 919.8,202.9 920.1,180.6 920.4,190.4 920.7,181.2 921,197.1 921.2,194.2 921.5,183.2 921.8,204 922.1,198.2 922.4,195.4 922.7,200.9 923,206 923.3,173.1 923.6,181.7 923.9,172.6 924.2,205.8 924.4,200.1 924.7,205.9 925,194.4 925.3,171.9 925.6,178 925.9,185.2 926.2,182 926.5,173 926.8,184.2 927.1,176.1 927.4,178.7 927.7,204.2 927.9,184.9 928.2,165.8 928.5,186.5 928.8,183.3 929.1,190.4 929.4,189.1 929.7,172.5 930,187.9 930.3,195 930.6,218.2 930.9,189.7 931.2,203 931.4,202.6 931.7,174.2 932,175.2 932.3,203.9 932.6,173.4 932.9,177.1 933.2,189.9 933.5,175.1 933.8,200.1 934.1,194.6 934.4,195.9 934.6,190.9 934.9,168.9 935.2,193.1 935.5,193.5 935.8,192.1 936.1,179.6 936.4,187.8 936.7,175.1 937,191.9 937.3,199.2 937.6,192.4 937.9,184.6 938.1,192.2 938.4,178.7 938.7,161.3 939,183.8 939.3,177.6 939.6,161.6 939.9,183.4 940.2,184.8 940.5,189.8 940.8,174.9 941.1,174.6 941.4,182.9 941.6,181.1 941.9,166.8 942.2,173.7 942.5,196 942.8,181.7 943.1,178.7 943.4,172.5 943.7,181.4 944,186 944.3,184.8 944.6,199.3 944.9,181 945.1,189 945.4,176.5 945.7,193.5 946,188 946.3,194.6 946.6,196.3 946.9,177.5 947.2,189.9 947.5,179.4 947.8,196.3 948.1,183.7 948.3,204 948.6,192.6 948.9,192.3 949.2,181.6 949.5,186.7 949.8,191.8 950.1,180.5 950.4,188 950.7,184.1 951,180.9 951.3,188.5 951.6,192.3 951.8,183.9 952.1,190.8 952.4,180.5 952.7,171.8 953,173.3 953.3,186.6 953.6,196.1 953.9,181.8 954.2,181.6 954.5,169.6 954.8,184.2 955.1,184.7 955.3,176 955.6,188.9 955.9,185.6 956.2,166.3 956.5,169 956.8,178.4 957.1,182.5 957.4,197.6 957.7,180 958,186.1 958.3,184.2 958.6,193.2 958.8,186.6 959.1,188.9 959.4,182.8 959.7,170 960,181.2 960.3,203.4 960.6,196.3 960.9,204.2 961.2,194.8 961.5,180.1 961.8,180.4 962,191.9 962.3,182.7 962.6,195.3 962.9,203.5 963.2,203.5 963.5,197.5 963.8,174.6 964.1,206.5 964.4,179.3 964.7,178.7 965,196.4 965.3,191.7 965.5,195.7 965.8,189 966.1,180.6 966.4,186.9 966.7,173.5 967,173.3 967.3,182.8 967.6,181.7 967.9,188.6 968.2,183.2 968.5,200 968.8,185 969,186.4 969.3,198.7 969.6,164.3 969.9,196.4 970.2,193.4 970.5,180.9 970.8,205.7 971.1,191.4 971.4,199 971.7,193.5 972,185.5 972.2,182.1 972.5,175 972.8,180.6 973.1,177.5 973.4,183.8 973.7,197.3 974,178.3 974.3,193.9 974.6,193.9 974.9,170.6 975.2,178.2 975.5,182.8 975.7,175.7 976,174.2 976.3,197.5 976.6,184.8 976.9,198.7 977.2,185.6 977.5,195.5 977.8,173.8 978.1,183.5 978.4,198.4 978.7,190.8 979,202.3 979.2,189.9 979.5,182.8 979.8,188 980.1,209.7 980.4,191.6 980.7,184.4 981,187.3 981.3,177.1 981.6,205 981.9,186.3 982.2,199.6 982.5,189 982.7,187 983,185.3 983.3,197.5 983.6,187.5 983.9,202.7 984.2,206.4 984.5,184.4 984.8,191.6 985.1,209.1 985.4,200.3 985.7,191.9 985.9,174.2 986.2,181.4 986.5,183.2 986.8,209.2 987.1,193 987.4,187 987.7,187 988,187.7 988.3,192.5 988.6,173.7 988.9,175.9 989.2,193.7 989.4,203.6 989.7,170.9 990,199.9 990.3,181.1 990.6,173.5 990.9,205.7 991.2,193.1 991.5,199.4 991.8,192.5 992.1,194.4 992.4,177.5 992.7,192.6 992.9,199.5 993.2,188.8 993.5,201.5 993.8,199.6 994.1,174.2 994.4,203.6 994.7,199.7 995,194.2 995.3,204.8 995.6,214.4 995.9,182.6 996.2,202.7 996.4,202.6 996.7,201.3 997,209.4 997.3,212.1 997.6,201.3 997.9,184.2 998.2,211.7 998.5,218.4 998.8,214.7 999.1,74.7 999.4,-54.3 999.6,-12.1 999.9,157.3 1000.2,222.3 1000.5,223.7 1000.8,220.3 1001.1,223.3 1001.4,196.9 1001.7,212.7 1002,212.4 1002.3,207.2 1002.6,210.7 1002.9,200.8 1003.1,195.1 1003.4,200.1 1003.7,200.6 1004,205.3 1004.3,197.6 1004.6,222.1 1004.9,201.2 1005.2,215.2 1005.5,217.8 1005.8,206.8 1006.1,210.3 1006.4,201.3 1006.6,194.2 1006.9,226.3 1007.2,206.1 1007.5,188.9 1007.8,198.6 1008.1,193.2 1008.4,202 1008.7,217.3 1009,215.3 1009.3,199.9 1009.6,197.2 1009.9,212.1 1010.1,206.4 1010.4,202.4 1010.7,220.7 1011,210.6 1011.3,191.4 1011.6,186 1011.9,206.2 1012.2,189.9 1012.5,208.5 1012.8,210.6 1013.1,222 1013.3,194.8 1013.6,206 1013.9,185.5 1014.2,203.3 1014.5,202.2 1014.8,204.6 1015.1,142.1 1015.4,148.5 1015.7,181.3 1016,221 1016.3,201.4 1016.6,201.5 1016.8,213.8 1017.1,209.2 1017.4,206.3 1017.7,203.8 1018,210.8 1018.3,198.1 1018.6,212.1 1018.9,214 1019.2,212.5 1019.5,227.5 1019.8,213.7 1020.1,201.2 1020.3,204.7 1020.6,212.4 1020.9,201.7 1021.2,220 1021.5,206.6 1021.8,200 1022.1,198.2 1022.4,187.4 1022.7,93.5 1023,-13.7 1023.3,30.1 1023.5,133.2 1023.8,210 1024.1,224.2 1024.4,205 1024.7,208.6 1025,207.7 1025.3,212.5 1025.6,211.7 1025.9,203.8 1026.2,197.5 1026.5,210 1026.8,221.1 1027,201 1027.3,207.2 1027.6,207.2 1027.9,211.3 1028.2,195.1 1028.5,211.8 1028.8,207.1 1029.1,226.6 1029.4,217.5 1029.7,217.4 1030,211.9 1030.3,209.8 1030.5,218.5 1030.8,200.3 1031.1,220.5 1031.4,216.5 1031.7,210.3 1032,222 1032.3,209.9 1032.6,208.5 1032.9,213.6 1033.2,196.8 1033.5,210.7 1033.8,208.1 1034,216.7 1034.3,222.1 1034.6,213.4 1034.9,210 1035.2,209.8 1035.5,203 1035.8,226.3 1036.1,216.7 1036.4,222.8 1036.7,200 1037,212.9 1037.2,213.9 1037.5,219 1037.8,206.2 1038.1,215.9 1038.4,211.2 1038.7,227.2 1039,204.2 1039.3,210.5 1039.6,208.6 1039.9,202.9 1040.2,213.1 1040.5,211.7 1040.7,204.8 1041,208 1041.3,213.9 1041.6,211.2 1041.9,215.1 1042.2,207.8 1042.5,206.2 1042.8,212.6 1043.1,201.7 1043.4,225.8 1043.7,216 1044,201.2 1044.2,215.6 1044.5,224.7 1044.8,204.8 1045.1,211.8 1045.4,222.6 1045.7,209.4 1046,220.6 1046.3,221.9 1046.6,214 1046.9,217.1 1047.2,222.6 1047.5,217.6 1047.7,222.8 1048,217.2 1048.3,218.1 1048.6,217 1048.9,230.4 1049.2,243 1049.5,252.5 1049.8,252 1050.1,246.4 1050.4,250.7 1050.7,255.1 1050.9,237.5 1051.2,242.1 1051.5,221.2 1051.8,224.8 1052.1,212.9 1052.4,211.9 1052.7,217.5 1053,213.5 1053.3,223.6 1053.6,216.6 1053.9,208.7 1054.2,188.6 1054.4,213.6 1054.7,217.7 1055,224.7 1055.3,209.9 1055.6,227.9 1055.9,223 1056.2,215.7 1056.5,226.4 1056.8,208 1057.1,211.4 1057.4,223 1057.7,223.7 1057.9,229 1058.2,228.9 1058.5,217.5 1058.8,215.4 1059.1,216.7 1059.4,217 1059.7,221.7 1060,216.3 1060.3,227 1060.6,216.9 1060.9,208.5 1061.1,209.2 1061.4,220.9 1061.7,220.8 1062,209.3 1062.3,206.1 1062.6,227 1062.9,221.2 1063.2,216.8 1063.5,211.7 1063.8,225.3 1064.1,218.3 1064.4,225.5 1064.6,211.5 1064.9,227.7 1065.2,236.7 1065.5,242.3 1065.8,232.4 1066.1,228.8 1066.4,233 1066.7,218.8 1067,226.7 1067.3,222.2 1067.6,224.8 1067.9,225.5 1068.1,219.2 1068.4,219.5 1068.7,211 1069,209.9 1069.3,216.5 1069.6,221.7 1069.9,210.5 1070.2,229.9 1070.5,228.5 1070.8,213 1071.1,215.7 1071.4,212.6 1071.6,220 1071.9,225.6 1072.2,220.4 1072.5,213.3 1072.8,221.1 1073.1,222.7 1073.4,227.1 1073.7,224.5 1074,212.1 1074.3,216 1074.6,225.5 1074.8,227.3 1075.1,229.7 1075.4,228 1075.7,241.9 1076,239.7 1076.3,252.4 1076.6,243.5 1076.9,227.1 1077.2,222.4 1077.5,232.5 1077.8,225.9 1078.1,215.1 1078.3,223.5 1078.6,225.2 1078.9,219.5 1079.2,223.7 1079.5,220 1079.8,220.5 1080.1,227.6 1080.4,225.4 1080.7,227.7 1081,234.6 1081.3,232.9 1081.6,221.2 1081.8,235 1082.1,217.8 1082.4,221.3 1082.7,224.5 1083,219.5 1083.3,216.9 1083.6,212.3 1083.9,219.6 1084.2,219.7 1084.5,219 1084.8,206.5 1085.1,213.5 1085.3,224.1 1085.6,221.9 1085.9,225.6 1086.2,221.7 1086.5,220.8 1086.8,208.5 1087.1,233.2 1087.4,218.1 1087.7,220.7 1088,226.3 1088.3,222 1088.5,223.2 1088.8,220.6 1089.1,216.9 1089.4,231.3 1089.7,216.3 1090,225.8 1090.3,214.4 1090.6,222.5 1090.9,217 1091.2,222.5 1091.5,218.8 1091.8,224.8 1092,229.7 1092.3,221 1092.6,219.7 1092.9,212.9 1093.2,235.5 1093.5,221.6 1093.8,167.6 1094.1,53.2 1094.4,-11.1 1094.7,96.6 1095,193.3 1095.3,223.4 1095.5,213.6 1095.8,216.1 1096.1,226.6 1096.4,249.4 1096.7,266.6 1097,258.8 1097.3,235.6 1097.6,218.5 1097.9,221.2 1098.2,210.3 1098.5,221.4 1098.7,229.8 1099,218.1 1099.3,214.4 1099.6,216.7 1099.9,220.1 1100.2,227.2 1100.5,215.4 1100.8,226.4 1101.1,220.2 1101.4,227.3 1101.7,232.5 1102,218.8 1102.2,239.8 1102.5,229.6 1102.8,221.9 1103.1,227.7 1103.4,223.1 1103.7,226.7 1104,229.7 1104.3,215.4 1104.6,228.7 1104.9,229.7 1105.2,234.2 1105.5,233.2 1105.7,225.3 1106,225.5 1106.3,228.8 1106.6,228.8 1106.9,223.6 1107.2,235.8 1107.5,228.1 1107.8,227.4 1108.1,230.3 1108.4,226.5 1108.7,229.2 1109,230.9 1109.2,219.6 1109.5,224.6 1109.8,223.2 1110.1,229.5 1110.4,224.8 1110.7,224.8 1111,221 1111.3,215.7 1111.6,228.7 1111.9,226.1 1112.2,226.5 1112.4,243.2 1112.7,232.3 1113,225.7 1113.3,223.1 1113.6,228.9 1113.9,221.1 1114.2,218.6 1114.5,228 1114.8,218 1115.1,216.7 1115.4,221.9 1115.7,231.2 1115.9,216.9 1116.2,225.7 1116.5,227.3 1116.8,226.1 1117.1,227.2 1117.4,219.2 1117.7,222 1118,221.2 1118.3,221.5 1118.6,231.6 1118.9,228.4 1119.2,222.3 1119.4,227.2 1119.7,212.3 1120,227.9 1120.3,229.3 1120.6,220.7 1120.9,223.1 1121.2,225.4 1121.5,227.8 1121.8,223.7 1122.1,223 1122.4,223.7 1122.7,230.1 1122.9,225.6 1123.2,223.3 1123.5,225.1 1123.8,245.8 1124.1,233.5 1124.4,234.6 1124.7,232.5 1125,231.2 1125.3,227.6 1125.6,229.5 1125.9,233.8 1126.1,231.8 1126.4,220.9 1126.7,231.6 1127,227 1127.3,219.6 1127.6,224.3 1127.9,236.5 1128.2,224.8 1128.5,227.8 1128.8,226 1129.1,221.4 1129.4,225.9 1129.6,229 1129.9,224.7 1130.2,226.7 1130.5,226.8 1130.8,226.3 1131.1,226.6 1131.4,231.1 1131.7,232.8 1132,229.8 1132.3,233.7 1132.6,236.1 1132.9,224.8 1133.1,233 1133.4,230.9 1133.7,231 1134,230.4 1134.3,230.1 1134.6,229.9 1134.9,235.1 1135.2,226.3 1135.5,233.5 1135.8,225.3 1136.1,241.1 1136.3,236.4 1136.6,225.3 1136.9,231.4 1137.2,234.4 1137.5,228.9 1137.8,234.5 1138.1,228.4 1138.4,241.6 1138.7,233.3 1139,234.3 1139.3,229 1139.6,226.4 1139.8,234.6 1140.1,221.3 1140.4,233.6 1140.7,240.4 1141,241.6 1141.3,220.9 1141.6,228.5 1141.9,232.6 1142.2,233.1 1142.5,235.4 1142.8,225.1 1143.1,231.1 1143.3,223.9 1143.6,233.7 1143.9,244.1 1144.2,229.2 1144.5,234.4 1144.8,235.4 1145.1,224.6 1145.4,232.3 1145.7,225.8 1146,236.6 1146.3,257.6 1146.6,270.6 1146.8,269 1147.1,236.8 1147.4,226.7 1147.7,230.9 1148,230 1148.3,231.4 1148.6,235.2 1148.9,228.9 1149.2,234.8 1149.5,230.2 1149.8,238.8 1150,233.8 1150.3,231.4 1150.6,236.5 1150.9,234.8 1151.2,234.8 1151.5,227.9 1151.8,235 1152.1,229.3 1152.4,224.8 1152.7,230.2 1153,240.5 1153.3,232.9 1153.5,228 1153.8,233.5 1154.1,227.3 1154.4,228.4 1154.7,228.7 1155,231.9 1155.3,233.8 1155.6,232 1155.9,230.9 1156.2,228.7 1156.5,231.6 1156.8,236.2 1157,235.9 1157.3,236.2 1157.6,244.8 1157.9,241.2 1158.2,242.5 1158.5,239 1158.8,240 1159.1,237.2 1159.4,240.1 1159.7,232.3 1160,234.2 1160.3,244 1160.5,236.1 1160.8,241.3 1161.1,228.7 1161.4,237.9 1161.7,237.5 1162,235.1 1162.3,236.7 1162.6,235.3 1162.9,225.5 1163.2,230 1163.5,226.5 1163.7,224.2 1164,234.6 1164.3,220.9 1164.6,215.5 1164.9,217.9 1165.2,242 1165.5,246.6 1165.8,257.3 1166.1,269.2 1166.4,263.4 1166.7,270.8 1167,269.1 1167.2,260.8 1167.5,249.7 1167.8,242.5 1168.1,238.9 1168.4,234.6 1168.7,233.4 1169,243.4 1169.3,238 1169.6,241.5 1169.9,237.4 1170.2,231.3 1170.5,233.4 1170.7,240.4 1171,237.2 1171.3,231.6 1171.6,238.6 1171.9,238.4 1172.2,235.9 1172.5,243.4 1172.8,233.5 1173.1,236.4 1173.4,237 1173.7,242.1 1173.9,239.5 1174.2,238.8 1174.5,236.3 1174.8,236.7 1175.1,236.6 1175.4,225.8 1175.7,227.4 1176,234.9 1176.3,236.4 1176.6,226.9 1176.9,236.1 1177.2,228.2 1177.4,228.8 1177.7,239.5 1178,240.7 1178.3,239.4 1178.6,244.4 1178.9,244 1179.2,241.1 1179.5,233.9 1179.8,238.9 1180.1,237 1180.4,237.8 1180.7,241.6 1180.9,228.5 1181.2,246.3 1181.5,238 1181.8,231.5 1182.1,240.2 1182.4,232.3 1182.7,231.1 1183,240.6 1183.3,235.9 1183.6,241.4 1183.9,234 1184.2,237.1 1184.4,236.7 1184.7,233.3 1185,235.9 1185.3,230.1 1185.6,234 1185.9,241.8 1186.2,236.7 1186.5,236.5 1186.8,246.1 1187.1,236.9 1187.4,241.4 1187.6,241.4 1187.9,247.4 1188.2,243.1 1188.5,242.7 1188.8,245.2 1189.1,244 1189.4,253.3 1189.7,236.8 1190,247.7 1190.3,252.8 1190.6,247.9 1190.9,246 1191.1,238.3 1191.4,245.1 1191.7,238.3 1192,240.5 1192.3,227.3 1192.6,233.3 1192.9,228.8 1193.2,240.2 1193.5,233.7 1193.8,243.8 1194.1,235.9 1194.4,235.1 1194.6,245.7 1194.9,242.8 1195.2,244.3 1195.5,244.2 1195.8,242.6 1196.1,243.6 1196.4,243.8 1196.7,238.4 1197,237.4 1197.3,245.6 1197.6,243.2 1197.9,238.9 1198.1,237.5 1198.4,240.2 1198.7,234.2 1199,235.6 1199.3,236.9 1199.6,240.4 1199.9,232.7 1200.2,234.9 1200.5,246.3 1200.8,246.3 1201.1,240.1 1201.3,248.4 1201.6,241.5 1201.9,241.7 1202.2,245 1202.5,241.4 1202.8,247.1 1203.1,242.4 1203.4,249.9 1203.7,230.6 1204,233 1204.3,235.9 1204.6,239.1 1204.8,237.6 1205.1,236.3 1205.4,236.4 1205.7,237.8 1206,246.1 1206.3,241.8 1206.6,247.2 1206.9,251 1207.2,254 1207.5,251.1 1207.8,253.2 1208.1,265.8 1208.3,253.1 1208.6,250.3 1208.9,255.2 1209.2,254.5 1209.5,250.8 1209.8,246 1210.1,249.5 1210.4,252.9 1210.7,245.6 1211,253 1211.3,243.1 1211.6,236.7 1211.8,237.9 1212.1,235.9 1212.4,236.5 1212.7,235.5 1213,237.4 1213.3,243 1213.6,243.1 1213.9,242.8 1214.2,238.1 1214.5,238 1214.8,242.6 1215,247.5 1215.3,248.4 1215.6,245.7 1215.9,238.3 1216.2,242.7 1216.5,245.2 1216.8,248.2 1217.1,239.4 1217.4,240.9 1217.7,244.6 1218,244 1218.3,237.4 1218.5,244.8 1218.8,234.4 1219.1,236.9 1219.4,242.7 1219.7,240.9 1220,245.7 1220.3,248.2 1220.6,244.9 1220.9,247.4 1221.2,242.2 1221.5,247.6 1221.8,245.1 1222,243.1 1222.3,260 1222.6,246.6 1222.9,254.5 1223.2,246.5 1223.5,251.5 1223.8,247.7 1224.1,241 1224.4,253.3 1224.7,246.2 1225,245.5 1225.2,253.1 1225.5,241.6 1225.8,246.4 1226.1,248 1226.4,249.3 1226.7,231.6 1227,246.6 1227.3,251.7 1227.6,247.5 1227.9,245.5 1228.2,246.5 1228.5,244 1228.7,248.9 1229,243.6 1229.3,249 1229.6,253 1229.9,252.2 1230.2,251.9 1230.5,247.6 1230.8,248.1 1231.1,251 1231.4,248.2 1231.7,246.5 1232,234.3 1232.2,219.6 1232.5,207.4 1232.8,233.8 1233.1,251.2 1233.4,248.8 1233.7,249.1 1234,253.4 1234.3,246.8 1234.6,243.4 1234.9,244.4 1235.2,247.7 1235.5,247.5 1235.7,237.9 1236,253.1 1236.3,248.6 1236.6,244.8 1236.9,250 1237.2,249 1237.5,250.5 1237.8,249.2 1238.1,244.7 1238.4,252.1 1238.7,250.4 1238.9,250.3 1239.2,254.3 1239.5,252.6 1239.8,255.8 1240.1,247.6 1240.4,243.8 1240.7,245.7 1241,247.3 1241.3,256.1 1241.6,246.2 1241.9,253.1 1242.2,249.3 1242.4,243 1242.7,255.7 1243,246.9 1243.3,250.2 1243.6,251.6 1243.9,254.5 1244.2,250.2 1244.5,255.9 1244.8,250.2 1245.1,250.4 1245.4,261.4 1245.7,259 1245.9,256.7 1246.2,261.1 1246.5,259.7 1246.8,254.1 1247.1,254.8 1247.4,261.4 1247.7,256.1 1248,251.8 1248.3,257.5 1248.6,256.3 1248.9,244.9 1249.2,246.2 1249.4,258.7 1249.7,256.9 1250,249.5 1250.3,256.2 1250.6,250.9 1250.9,254 1251.2,249.6 1251.5,263 1251.8,262.2 1252.1,256.5 1252.4,247.4 1252.6,252.8 1252.9,258.5 1253.2,250.5 1253.5,249.4 1253.8,254.9 1254.1,254.5 1254.4,251.3 1254.7,250.8 1255,255.8 1255.3,253.4 1255.6,255.7 1255.9,257.7 1256.1,258 1256.4,253.4 1256.7,255.2 1257,254.2 1257.3,249.6 1257.6,251.2 1257.9,249.9 1258.2,259.9 1258.5,251 1258.8,256.9 1259.1,258 1259.4,258.7 1259.6,251.2 1259.9,251.7 1260.2,259.1 1260.5,261.5 1260.8,257.1 1261.1,258.4 1261.4,249.6 1261.7,261.2 1262,264 1262.3,260.4 1262.6,258.3 1262.8,255.9 1263.1,254.6 1263.4,250.7 1263.7,262.2 1264,265.2 1264.3,273.2 1264.6,265.8 1264.9,261.8 1265.2,264.8 1265.5,256.4 1265.8,256.9 1266.1,246.9 1266.3,250.1 1266.6,255.2 1266.9,254.2 1267.2,258.1 1267.5,259.8 1267.8,251.7 1268.1,251.8 1268.4,247.9 1268.7,256.5 1269,258.2 1269.3,262.5 1269.6,255 1269.8,257 1270.1,259.7 1270.4,254.9 1270.7,252.9 1271,261.6 1271.3,250.5 1271.6,252.4 1271.9,256 1272.2,255 1272.5,246.4 1272.8,246 1273.1,224.6 1273.3,106.6 1273.6,-211.2 1273.9,-390 1274.2,-129.2 1274.5,153.6 1274.8,248 1275.1,224.3 1275.4,140.2 1275.7,-68.7 1276,-361.8 1276.3,-552.9 1276.5,-477.4 1276.8,-209 1277.1,57.3 1277.4,192.3 1277.7,248.6 1278,258 1278.3,238.2 1278.6,171.6 1278.9,-27.9 1279.2,-291.4 1279.5,-370.4 1279.8,-183.6 1280,82.2 1280.3,205.1 1280.6,255.1 1280.9,262 1281.2,252.5 1281.5,252.2 1281.8,252.2 1282.1,258.4 1282.4,250.1 1282.7,258.5 1283,255.2 1283.3,256.4 1283.5,255.8 1283.8,252.7 1284.1,260.1 1284.4,257.4 1284.7,256.1 1285,266.9 1285.3,265.5 1285.6,263.6 1285.9,263.7 1286.2,259.6 1286.5,268.8 1286.8,257 1287,254.7 1287.3,259.3 1287.6,265.4 1287.9,259 1288.2,260.3 1288.5,255.8 1288.8,259.5 1289.1,255.5 1289.4,260.1 1289.7,254.1 1290,270.2 1290.2,263 1290.5,257.1 1290.8,264.1 1291.1,255.6 1291.4,263.1 1291.7,258.8 1292,263.6 1292.3,261.3 1292.6,258.5 1292.9,260.1 1293.2,261.4 1293.5,252.5 1293.7,261.2 1294,264.8 1294.3,257.4 1294.6,257.5 1294.9,256.2 1295.2,253.3 1295.5,266 1295.8,257.9 1296.1,256.4 1296.4,260.3 1296.7,258.2 1297,270.8 1297.2,261 1297.5,252.9 1297.8,266.3 1298.1,258.6 1298.4,254.8 1298.7,254.3 1299,247.2 1299.3,234.7 1299.6,126.6 1299.9,-3 1300.2,36.7 1300.4,170.2 1300.7,236.1 1301,252 1301.3,251.9 1301.6,228 1301.9,99.3 1302.2,-4.9 1302.5,68.5 1302.8,199 1303.1,239.3 1303.4,261 1303.7,266 1303.9,261.2 1304.2,261.4 1304.5,262.1 1304.8,259.2 1305.1,256.9 1305.4,259.1 1305.7,266.3 1306,263.3 1306.3,260 1306.6,264.2 1306.9,257.4 1307.2,256.9 1307.4,262.8 1307.7,257.9 1308,250.9 1308.3,250.4 1308.6,255.1 1308.9,251.1 1309.2,256.1 1309.5,259.6 1309.8,253.5 1310.1,256.7 1310.4,255.9 1310.7,259.5 1310.9,258.8 1311.2,262.5 1311.5,257.6 1311.8,255.9 1312.1,260.5 1312.4,255.8 1312.7,265.7 1313,260.7 1313.3,251 1313.6,250.5 1313.9,255.7 1314.1,258.8 1314.4,264.1 1314.7,256.4 1315,255.8 1315.3,264.1 1315.6,258 1315.9,258.3 1316.2,259.4 1316.5,265.7 1316.8,258.3 1317.1,266.1 1317.4,255.1 1317.6,257.8 1317.9,263.5 1318.2,252.7 1318.5,254.6 1318.8,259.5 1319.1,249.2 1319.4,261.4 1319.7,257.6 1320,253.5 1320.3,269.9 1320.6,256.1 1320.9,260.7 1321.1,260.7 1321.4,265.7 1321.7,260.7 1322,268 1322.3,266.1 1322.6,265.9 1322.9,268 1323.2,258.1 1323.5,270.1 1323.8,266.9 1324.1,265.1 1324.4,263.4 1324.6,259.7 1324.9,259.6 1325.2,261.9 1325.5,262.9 1325.8,261.6 1326.1,258.5 1326.4,259.7 1326.7,264.5 1327,269.6 1327.3,252.8 1327.6,257 1327.8,260.6 1328.1,260.6 1328.4,263.7 1328.7,263.2 1329,261.8 1329.3,261.8 1329.6,263.5 1329.9,266.9 1330.2,261.7 1330.5,257.1 1330.8,260.4 1331.1,258.8 1331.3,268.1 1331.6,259.5 1331.9,259.4 1332.2,264 1332.5,266.4 1332.8,259.4 1333.1,263.9 1333.4,258.6 1333.7,261.3 1334,259.2 1334.3,261.8 1334.6,265.6 1334.8,260.4 1335.1,261.3 1335.4,257.5 1335.7,263.8 1336,263.8 1336.3,260 1336.6,258 1336.9,260.5 1337.2,261.5 1337.5,263.7 1337.8,261.6 1338,262.9 1338.3,263.3 1338.6,265.8 1338.9,264.2 1339.2,254.5 1339.5,264.2 1339.8,264.5 1340.1,266.4 1340.4,266.1 1340.7,264.6 1341,269.4 1341.3,271.5 1341.5,264.2 1341.8,271.1 1342.1,263.4 1342.4,263.8 1342.7,258.1 1343,255 1343.3,259.9 1343.6,265 1343.9,268.1 1344.2,266.4 1344.5,263.7 1344.8,272.1 1345,263.5 1345.3,264.2 1345.6,262.4" fill="none" stroke="#2ca02c" stroke-width="3.0" stroke-linejoin="round" />
<polyline points="796.2,265.2 796.5,282.2 796.8,286.9 797.1,268.6 797.4,246.7 797.7,232.1 797.9,236.2 798.2,210 798.5,212.2 798.8,219.4 799.1,224.8 799.4,244.5 799.7,250 800,257.7 800.3,259.4 800.6,222.3 800.9,231.8 801.2,264.7 801.4,234.1 801.7,262.9 802,232.7 802.3,251.7 802.6,257.2 802.9,251.3 803.2,254 803.5,255.8 803.8,248.4 804.1,241.1 804.4,222.3 804.7,253.2 804.9,238.2 805.2,245.2 805.5,261.4 805.8,244.7 806.1,273.5 806.4,257.7 806.7,252 807,238.6 807.3,255.8 807.6,242.7 807.9,248.3 808.2,262.6 808.4,232.6 808.7,258.7 809,239.3 809.3,250.8 809.6,242.9 809.9,256.6 810.2,259.4 810.5,265.2 810.8,267.2 811.1,264.5 811.4,248.1 811.6,259.3 811.9,283.4 812.2,288.2 812.5,256.4 812.8,247.6 813.1,286.5 813.4,312.7 813.7,333.2 814,278.5 814.3,245.7 814.6,272.2 814.9,317.5 815.1,293.5 815.4,289.1 815.7,219.7 816,238.9 816.3,255.6 816.6,264.8 816.9,293.8 817.2,258.7 817.5,252 817.8,239.3 818.1,202.8 818.4,242 818.6,210.3 818.9,253.2 819.2,288.7 819.5,304.3 819.8,248.6 820.1,227.1 820.4,250.4 820.7,202.3 821,210.9 821.3,212.3 821.6,203.6 821.8,217 822.1,218.4 822.4,260.3 822.7,299.5 823,244.4 823.3,235.6 823.6,249.1 823.9,223 824.2,225.5 824.5,213.1 824.8,208.5 825.1,214.4 825.3,217.7 825.6,226.7 825.9,206.9 826.2,231.5 826.5,226.2 826.8,292.1 827.1,289.3 827.4,297.1 827.7,276.3 828,220.7 828.3,216.1 828.6,222.7 828.8,222 829.1,202.3 829.4,228.5 829.7,191.7 830,198.4 830.3,214.5 830.6,187.5 830.9,187.6 831.2,200.6 831.5,211.9 831.8,200.7 832.1,209 832.3,260.6 832.6,262.4 832.9,278.3 833.2,299 833.5,319.1 833.8,267.7 834.1,260.9 834.4,226.6 834.7,182.2 835,214.9 835.3,199.3 835.5,203.3 835.8,213.7 836.1,209.7 836.4,197.4 836.7,199.7 837,186.2 837.3,200.3 837.6,192.2 837.9,219.7 838.2,207.2 838.5,235.1 838.8,192.1 839,194.1 839.3,180.8 839.6,159.6 839.9,177.4 840.2,194.7 840.5,223.9 840.8,233.8 841.1,236.6 841.4,265.8 841.7,295.7 842,306.5 842.3,314.5 842.5,254.9 842.8,265.6 843.1,242.1 843.4,213.3 843.7,229.8 844,187.6 844.3,181.9 844.6,208.8 844.9,227.7 845.2,217.2 845.5,244.8 845.8,192.8 846,215.4 846.3,222.8 846.6,225.8 846.9,210.9 847.2,191.7 847.5,235.6 847.8,227.6 848.1,250 848.4,238 848.7,273.8 849,267.3 849.2,316.4 849.5,320.6 849.8,305.2 850.1,261.4 850.4,274.5 850.7,214.5 851,211.8 851.3,224.7 851.6,233.9 851.9,217.4 852.2,217.3 852.5,243.9 852.7,238.3 853,228.5 853.3,269.7 853.6,276.8 853.9,306.4 854.2,300.4 854.5,311.9 854.8,337 855.1,340.6 855.4,345.5 855.7,325.3 856,303.8 856.2,266.8 856.5,272.6 856.8,264.2 857.1,225.4 857.4,211.8 857.7,216.5 858,212.9 858.3,193 858.6,198.6 858.9,210.8 859.2,197.3 859.4,195.7 859.7,178.5 860,194.9 860.3,177.5 860.6,180.9 860.9,197.1 861.2,176.3 861.5,176.8 861.8,198.8 862.1,165.5 862.4,198.4 862.7,194.5 862.9,187.7 863.2,175.3 863.5,175 863.8,179.9 864.1,163.1 864.4,171.2 864.7,160.8 865,144.8 865.3,173.5 865.6,202.6 865.9,181.4 866.2,189 866.4,178.3 866.7,180.1 867,193.6 867.3,193.7 867.6,185.2 867.9,184.3 868.2,208.4 868.5,173.2 868.8,184.2 869.1,187.1 869.4,183.8 869.7,200 869.9,189.5 870.2,177.9 870.5,179.9 870.8,188.6 871.1,196.1 871.4,200.2 871.7,176.4 872,184.1 872.3,192.5 872.6,210.5 872.9,197.1 873.1,205.7 873.4,173 873.7,184.9 874,196 874.3,193.5 874.6,167.4 874.9,188.7 875.2,226.5 875.5,229.6 875.8,259.3 876.1,280.7 876.4,271.5 876.6,249.1 876.9,246.2 877.2,245.7 877.5,230.9 877.8,208.9 878.1,192.2 878.4,211.1 878.7,212 879,172.3 879.3,189.4 879.6,175.8 879.9,191.7 880.1,180.7 880.4,201.9 880.7,188 881,179 881.3,184 881.6,198.7 881.9,184 882.2,201.2 882.5,208.3 882.8,187.9 883.1,178.6 883.4,186.6 883.6,207.5 883.9,184.9 884.2,187.6 884.5,199.9 884.8,222.9 885.1,185.8 885.4,187.5 885.7,192.2 886,213 886.3,210.2 886.6,184.9 886.8,185.8 887.1,188.5 887.4,196.2 887.7,188.7 888,197.8 888.3,195.5 888.6,203.4 888.9,191 889.2,195.9 889.5,181.4 889.8,185.2 890.1,200.1 890.3,173.5 890.6,204.4 890.9,189 891.2,180.8 891.5,180 891.8,218 892.1,185.7 892.4,182.2 892.7,179.1 893,217.7 893.3,201.3 893.6,195.9 893.8,200.3 894.1,181.5 894.4,201.8 894.7,182.3 895,189.1 895.3,214.5 895.6,214.5 895.9,217.4 896.2,221.3 896.5,222.5 896.8,239.7 897,224.7 897.3,241.1 897.6,246 897.9,208.4 898.2,195 898.5,200.2 898.8,205.4 899.1,188.7 899.4,173.1 899.7,194.9 900,200.2 900.3,202.1 900.5,171.3 900.8,193.7 901.1,188.7 901.4,183.7 901.7,186.6 902,204.8 902.3,186.7 902.6,187.9 902.9,191.5 903.2,189.2 903.5,205.3 903.8,201.4 904,205.6 904.3,190.9 904.6,206.5 904.9,194.4 905.2,211.8 905.5,201.7 905.8,202.9 906.1,198.2 906.4,194 906.7,196.9 907,198.9 907.3,220.5 907.5,192.8 907.8,214.4 908.1,218.8 908.4,231.1 908.7,221 909,246.5 909.3,235.6 909.6,227.1 909.9,217 910.2,214.1 910.5,212.4 910.7,224.6 911,193.6 911.3,190.9 911.6,191.4 911.9,188.2 912.2,197 912.5,204.5 912.8,188.7 913.1,188.4 913.4,216.7 913.7,206.5 914,226.8 914.2,237.2 914.5,262.8 914.8,263 915.1,268.4 915.4,264.3 915.7,272.6 916,232.4 916.3,226.1 916.6,224.2 916.9,197.9 917.2,213.4 917.5,189.7 917.7,177.7 918,197.8 918.3,186.3 918.6,190.7 918.9,188.1 919.2,209.3 919.5,189.1 919.8,195.5 920.1,189.7 920.4,197.9 920.7,187.8 921,197.6 921.2,198.7 921.5,197.4 921.8,216.5 922.1,211.8 922.4,217.5 922.7,209.4 923,215.1 923.3,196.2 923.6,188.2 923.9,200.1 924.2,191.4 924.4,196.7 924.7,213.5 925,201.3 925.3,191.2 925.6,208.6 925.9,220.7 926.2,200.1 926.5,208.5 926.8,182.6 927.1,200.1 927.4,200 927.7,204.2 927.9,195.4 928.2,200.6 928.5,205.6 928.8,199.3 929.1,205.9 929.4,182.5 929.7,208.8 930,194.2 930.3,200.2 930.6,206 930.9,178.3 931.2,216.2 931.4,180.1 931.7,210.3 932,199.5 932.3,176.1 932.6,223.9 932.9,216 933.2,189.9 933.5,201.3 933.8,208.2 934.1,202.1 934.4,210.9 934.6,198.2 934.9,185.6 935.2,204.1 935.5,200.4 935.8,190.9 936.1,182.5 936.4,206.9 936.7,196.7 937,204.5 937.3,204.6 937.6,202.1 937.9,202.6 938.1,212.2 938.4,213.7 938.7,201.6 939,194.3 939.3,183.3 939.6,201.9 939.9,199.1 940.2,191.6 940.5,191 940.8,197.9 941.1,198 941.4,181.2 941.6,202.4 941.9,205.1 942.2,216.7 942.5,196.7 942.8,203.1 943.1,184.6 943.4,207.7 943.7,195.8 944,192 944.3,186.4 944.6,216.7 944.9,187.5 945.1,202.2 945.4,204.2 945.7,202.8 946,203.9 946.3,205.8 946.6,224 946.9,195.1 947.2,199.3 947.5,208.6 947.8,202 948.1,177.8 948.3,200.1 948.6,208.9 948.9,185.3 949.2,210.2 949.5,204.3 949.8,208.6 950.1,204.8 950.4,193.8 950.7,195.3 951,205.3 951.3,199.5 951.6,197.9 951.8,205.8 952.1,200.6 952.4,207.8 952.7,209.3 953,202.3 953.3,212.3 953.6,198.2 953.9,202.8 954.2,210.1 954.5,204.9 954.8,204.9 955.1,202.2 955.3,201 955.6,205.6 955.9,212.7 956.2,191.4 956.5,196.9 956.8,204.9 957.1,197.4 957.4,204.3 957.7,209.6 958,206 958.3,177.9 958.6,193.2 958.8,193.8 959.1,207.8 959.4,198 959.7,180.4 960,197.7 960.3,190 960.6,185.5 960.9,194.1 961.2,186.6 961.5,198.4 961.8,196.3 962,205.6 962.3,174.9 962.6,196.6 962.9,199.5 963.2,187.5 963.5,203.4 963.8,198.6 964.1,206.4 964.4,199.4 964.7,205.3 965,196.4 965.3,202.1 965.5,205.2 965.8,202.4 966.1,201.8 966.4,205.6 966.7,190.3 967,191.1 967.3,196.8 967.6,209.9 967.9,193.8 968.2,210.8 968.5,197.5 968.8,198.7 969,204 969.3,205.9 969.6,204.9 969.9,178.7 970.2,200.9 970.5,202.2 970.8,191.6 971.1,197.1 971.4,189.7 971.7,211.7 972,210.9 972.2,167.1 972.5,198.7 972.8,202.1 973.1,196.3 973.4,188.8 973.7,209 974,196.5 974.3,199.1 974.6,193.3 974.9,202.1 975.2,208.8 975.5,210.9 975.7,225.1 976,193.3 976.3,217.2 976.6,205.6 976.9,187.2 977.2,206.8 977.5,194.8 977.8,201.7 978.1,193.4 978.4,201.8 978.7,205.4 979,187.6 979.2,204.3 979.5,212.1 979.8,201.9 980.1,195.2 980.4,211.8 980.7,194.2 981,194.1 981.3,184 981.6,208.8 981.9,195.5 982.2,218.9 982.5,208.3 982.7,202.3 983,198.5 983.3,203.5 983.6,203.5 983.9,207.2 984.2,205.7 984.5,199.2 984.8,198.2 985.1,197.7 985.4,193 985.7,192.6 985.9,219.4 986.2,207.8 986.5,202.9 986.8,208 987.1,192.9 987.4,195.6 987.7,203.3 988,202 988.3,189.9 988.6,206.2 988.9,204 989.2,194 989.4,198.9 989.7,189.8 990,199.2 990.3,196.1 990.6,209.5 990.9,213.9 991.2,204.8 991.5,231.9 991.8,203.6 992.1,198.2 992.4,205.5 992.7,207.3 992.9,194.7 993.2,204.2 993.5,194.1 993.8,183.3 994.1,195.9 994.4,194.3 994.7,200.4 995,204.1 995.3,204.3 995.6,207.2 995.9,197.6 996.2,221.6 996.4,209.8 996.7,201.7 997,214.6 997.3,208.2 997.6,216.7 997.9,213 998.2,218.9 998.5,227.1 998.8,251.2 999.1,276 999.4,273.3 999.6,268.2 999.9,250.7 1000.2,263.7 1000.5,227.6 1000.8,235.1 1001.1,208.8 1001.4,207.6 1001.7,203.1 1002,199.2 1002.3,203.6 1002.6,212.9 1002.9,207.1 1003.1,203.3 1003.4,214.8 1003.7,214.6 1004,224.8 1004.3,207 1004.6,220.4 1004.9,222.4 1005.2,219.2 1005.5,222.4 1005.8,216.6 1006.1,203.1 1006.4,206 1006.6,199.9 1006.9,199.7 1007.2,218.6 1007.5,208.9 1007.8,202.4 1008.1,195.1 1008.4,224.2 1008.7,224.5 1009,211.5 1009.3,216.3 1009.6,220.2 1009.9,210.5 1010.1,219.5 1010.4,230.4 1010.7,215.2 1011,212.5 1011.3,207.1 1011.6,205.1 1011.9,210.9 1012.2,215.2 1012.5,217.4 1012.8,223.2 1013.1,213.4 1013.3,203.1 1013.6,206.1 1013.9,198.9 1014.2,212.9 1014.5,224.2 1014.8,207.2 1015.1,206.6 1015.4,223.6 1015.7,228 1016,217.3 1016.3,212.5 1016.6,223 1016.8,216.8 1017.1,221.9 1017.4,223.3 1017.7,224.9 1018,213.9 1018.3,215.4 1018.6,216.2 1018.9,229 1019.2,203.1 1019.5,223.4 1019.8,219.1 1020.1,225.7 1020.3,214.7 1020.6,226 1020.9,217.5 1021.2,219.8 1021.5,213.6 1021.8,225.1 1022.1,220.7 1022.4,217.5 1022.7,202.2 1023,224.3 1023.3,214.3 1023.5,221 1023.8,215.2 1024.1,214.9 1024.4,220.8 1024.7,220.3 1025,219.7 1025.3,225.4 1025.6,222.3 1025.9,231.5 1026.2,220.9 1026.5,224 1026.8,218.8 1027,212.2 1027.3,214.1 1027.6,213.5 1027.9,210.5 1028.2,232.2 1028.5,217 1028.8,221.3 1029.1,222 1029.4,229.8 1029.7,217.3 1030,214.3 1030.3,215.1 1030.5,222.6 1030.8,218.4 1031.1,215.7 1031.4,210.2 1031.7,214.3 1032,219.7 1032.3,221.3 1032.6,219.6 1032.9,219.3 1033.2,222.1 1033.5,215.4 1033.8,222.8 1034,223.9 1034.3,214.8 1034.6,220.9 1034.9,217.5 1035.2,227.8 1035.5,211.4 1035.8,215.4 1036.1,216 1036.4,214.6 1036.7,215.7 1037,222.3 1037.2,205.8 1037.5,221.1 1037.8,214.4 1038.1,208.7 1038.4,225.7 1038.7,221.2 1039,226.1 1039.3,214.6 1039.6,221 1039.9,226.9 1040.2,214.1 1040.5,216.4 1040.7,226.7 1041,212.7 1041.3,219.1 1041.6,205.1 1041.9,212.2 1042.2,227.3 1042.5,224.2 1042.8,226.9 1043.1,222 1043.4,222.7 1043.7,220.7 1044,224.5 1044.2,232.3 1044.5,229 1044.8,216.1 1045.1,218 1045.4,224.4 1045.7,224.9 1046,225.5 1046.3,222.8 1046.6,232.4 1046.9,218.1 1047.2,226.3 1047.5,221.3 1047.7,237.6 1048,223.6 1048.3,218.8 1048.6,241 1048.9,227.5 1049.2,239.4 1049.5,256 1049.8,270.4 1050.1,261.7 1050.4,267.5 1050.7,260.8 1050.9,256.1 1051.2,249.8 1051.5,232 1051.8,237.6 1052.1,222.7 1052.4,234.9 1052.7,231.1 1053,233.9 1053.3,218.5 1053.6,233.2 1053.9,230.1 1054.2,219.2 1054.4,220.9 1054.7,211.8 1055,212.7 1055.3,220 1055.6,218.6 1055.9,232.4 1056.2,230.1 1056.5,225 1056.8,224 1057.1,229.4 1057.4,228.1 1057.7,228.4 1057.9,217.8 1058.2,221.4 1058.5,224.4 1058.8,225 1059.1,223.5 1059.4,229.5 1059.7,227.5 1060,233.9 1060.3,222.4 1060.6,220.6 1060.9,225.3 1061.1,226.6 1061.4,225.5 1061.7,217.4 1062,226.6 1062.3,236.7 1062.6,233.3 1062.9,222.1 1063.2,219.5 1063.5,221.4 1063.8,222.6 1064.1,227.8 1064.4,238.5 1064.6,237.5 1064.9,247.4 1065.2,250 1065.5,259.8 1065.8,251.7 1066.1,246.8 1066.4,245.5 1066.7,224.4 1067,220.4 1067.3,232.1 1067.6,224.9 1067.9,220.4 1068.1,227.7 1068.4,224.5 1068.7,227.5 1069,226.6 1069.3,229.7 1069.6,231.4 1069.9,226.4 1070.2,223.4 1070.5,228.2 1070.8,231.4 1071.1,229.8 1071.4,228.5 1071.6,227.2 1071.9,224.8 1072.2,223.7 1072.5,224.5 1072.8,225.6 1073.1,223.9 1073.4,216.2 1073.7,219.7 1074,227.1 1074.3,222.2 1074.6,225.2 1074.8,227.5 1075.1,232.4 1075.4,238 1075.7,246 1076,255.1 1076.3,243.6 1076.6,237 1076.9,241.5 1077.2,230.7 1077.5,230.8 1077.8,227.6 1078.1,234.2 1078.3,231.9 1078.6,230.9 1078.9,242.1 1079.2,229.5 1079.5,232.6 1079.8,244.5 1080.1,226.3 1080.4,228.3 1080.7,226.8 1081,227.1 1081.3,232.6 1081.6,236.1 1081.8,232.9 1082.1,231.6 1082.4,217.5 1082.7,223.9 1083,234.4 1083.3,232.6 1083.6,230.5 1083.9,227.7 1084.2,233.4 1084.5,234.3 1084.8,219.3 1085.1,224.7 1085.3,235 1085.6,237 1085.9,233.7 1086.2,226.2 1086.5,225.4 1086.8,228.2 1087.1,234.2 1087.4,226.4 1087.7,226.2 1088,229.2 1088.3,231.4 1088.5,226.4 1088.8,229.4 1089.1,233.8 1089.4,227.1 1089.7,234.6 1090,225.5 1090.3,227.2 1090.6,233.8 1090.9,227.8 1091.2,223.8 1091.5,241 1091.8,232.4 1092,226 1092.3,238.8 1092.6,232.6 1092.9,236.3 1093.2,230.2 1093.5,242.2 1093.8,238.8 1094.1,234.2 1094.4,230.3 1094.7,227.7 1095,228.1 1095.3,224.3 1095.5,228.6 1095.8,230.6 1096.1,237 1096.4,233.5 1096.7,219.1 1097,223.9 1097.3,231.2 1097.6,231 1097.9,229 1098.2,233.1 1098.5,221.2 1098.7,230.8 1099,228.8 1099.3,218.7 1099.6,235.9 1099.9,225 1100.2,234.7 1100.5,232.1 1100.8,227.1 1101.1,227.1 1101.4,224.2 1101.7,227.2 1102,222.6 1102.2,228.2 1102.5,225 1102.8,229.9 1103.1,220.1 1103.4,233 1103.7,225.1 1104,230.1 1104.3,232.6 1104.6,225.6 1104.9,231.3 1105.2,239.4 1105.5,229.1 1105.7,243.7 1106,229.7 1106.3,230.7 1106.6,234.5 1106.9,225.4 1107.2,228 1107.5,216.8 1107.8,227.8 1108.1,217.6 1108.4,219.7 1108.7,227.3 1109,230.5 1109.2,223.8 1109.5,231.7 1109.8,230.7 1110.1,233.5 1110.4,237.3 1110.7,233.7 1111,237.6 1111.3,240.9 1111.6,236.4 1111.9,226.9 1112.2,227.6 1112.4,234.1 1112.7,233.8 1113,234.4 1113.3,230.2 1113.6,234 1113.9,236.6 1114.2,233.4 1114.5,225.7 1114.8,219 1115.1,232.3 1115.4,237.1 1115.7,222.8 1115.9,227.6 1116.2,227 1116.5,222.9 1116.8,228.5 1117.1,234.1 1117.4,237.7 1117.7,229.8 1118,234.6 1118.3,228.7 1118.6,234.7 1118.9,229.6 1119.2,233.8 1119.4,231 1119.7,232.7 1120,227.9 1120.3,226.5 1120.6,233.7 1120.9,235.9 1121.2,224.7 1121.5,233.6 1121.8,234.5 1122.1,236.8 1122.4,233.9 1122.7,234.7 1122.9,237 1123.2,235.7 1123.5,245.3 1123.8,243 1124.1,239.1 1124.4,236.1 1124.7,232.7 1125,229.6 1125.3,231 1125.6,231.9 1125.9,237.5 1126.1,227.2 1126.4,230.7 1126.7,235.2 1127,230.3 1127.3,231.8 1127.6,234.4 1127.9,241 1128.2,238.5 1128.5,234 1128.8,224.2 1129.1,232.4 1129.4,233.8 1129.6,235.8 1129.9,234.2 1130.2,231.6 1130.5,242.5 1130.8,244.8 1131.1,231.5 1131.4,234.8 1131.7,237 1132,229 1132.3,229.8 1132.6,240.3 1132.9,232.8 1133.1,227.1 1133.4,234.6 1133.7,235.6 1134,230.2 1134.3,234 1134.6,238.2 1134.9,236.9 1135.2,240.2 1135.5,232.8 1135.8,242.6 1136.1,231.5 1136.3,241.7 1136.6,234 1136.9,240.3 1137.2,236.3 1137.5,229.5 1137.8,228.5 1138.1,226.7 1138.4,232.8 1138.7,230.9 1139,228.9 1139.3,230.7 1139.6,234.3 1139.8,228.3 1140.1,233.3 1140.4,230.9 1140.7,236.4 1141,234.1 1141.3,241 1141.6,240.2 1141.9,240.3 1142.2,237.3 1142.5,237.3 1142.8,233.5 1143.1,241.1 1143.3,222 1143.6,235.3 1143.9,231.1 1144.2,230.9 1144.5,245 1144.8,236.9 1145.1,228.2 1145.4,242.6 1145.7,230.8 1146,239.5 1146.3,237.6 1146.6,233.7 1146.8,241.1 1147.1,234.9 1147.4,237.2 1147.7,238.7 1148,232.6 1148.3,220.6 1148.6,230.4 1148.9,230.1 1149.2,232.5 1149.5,237.5 1149.8,231.6 1150,227 1150.3,232.8 1150.6,229.7 1150.9,235.4 1151.2,224 1151.5,238.5 1151.8,232.2 1152.1,232.6 1152.4,235.2 1152.7,242.4 1153,242.3 1153.3,239.4 1153.5,239.1 1153.8,246.3 1154.1,244.2 1154.4,237.6 1154.7,234 1155,238.5 1155.3,238.8 1155.6,239.6 1155.9,226.7 1156.2,233.4 1156.5,235.5 1156.8,233.1 1157,229.1 1157.3,234.3 1157.6,244.4 1157.9,238.7 1158.2,239.1 1158.5,240.7 1158.8,245.1 1159.1,242.7 1159.4,244.2 1159.7,239.3 1160,238.2 1160.3,242.5 1160.5,244.8 1160.8,240.2 1161.1,237.8 1161.4,236.6 1161.7,236.2 1162,245.9 1162.3,236.2 1162.6,237.5 1162.9,236.2 1163.2,237.3 1163.5,237.4 1163.7,237.8 1164,226.8 1164.3,234.9 1164.6,242.1 1164.9,244.1 1165.2,249.5 1165.5,256.6 1165.8,268.8 1166.1,274.3 1166.4,275.9 1166.7,276.1 1167,272 1167.2,260 1167.5,255.8 1167.8,253.4 1168.1,249.5 1168.4,242.2 1168.7,237.9 1169,235.4 1169.3,233.6 1169.6,240.4 1169.9,241.7 1170.2,236.3 1170.5,234.2 1170.7,240.2 1171,238.1 1171.3,235.4 1171.6,238.1 1171.9,240.1 1172.2,246.3 1172.5,234.8 1172.8,237.3 1173.1,240.4 1173.4,243.2 1173.7,246.1 1173.9,241.4 1174.2,243.7 1174.5,239.9 1174.8,246.8 1175.1,238.3 1175.4,241.6 1175.7,236 1176,243.8 1176.3,239.3 1176.6,238.3 1176.9,239.6 1177.2,244.3 1177.4,240.9 1177.7,236.7 1178,243.5 1178.3,244.4 1178.6,237.4 1178.9,241 1179.2,234 1179.5,240.3 1179.8,241.4 1180.1,238.5 1180.4,233.4 1180.7,240.7 1180.9,238.5 1181.2,239.6 1181.5,242.7 1181.8,236.9 1182.1,240.5 1182.4,241 1182.7,247.5 1183,247.3 1183.3,249.8 1183.6,240.2 1183.9,239.7 1184.2,236.8 1184.4,234.7 1184.7,239.9 1185,239.8 1185.3,238.6 1185.6,236.1 1185.9,242.9 1186.2,238.9 1186.5,241.4 1186.8,241.6 1187.1,238.4 1187.4,242.4 1187.6,242.9 1187.9,236.5 1188.2,237.3 1188.5,239.7 1188.8,240.6 1189.1,239.7 1189.4,244.5 1189.7,242.3 1190,245.6 1190.3,242.3 1190.6,242.5 1190.9,244.8 1191.1,247.1 1191.4,246.5 1191.7,247.4 1192,235.3 1192.3,243.5 1192.6,240.3 1192.9,239.1 1193.2,248.6 1193.5,246 1193.8,245 1194.1,245.4 1194.4,246.3 1194.6,243 1194.9,239 1195.2,241 1195.5,242 1195.8,241.2 1196.1,247.1 1196.4,238 1196.7,240 1197,244.1 1197.3,242 1197.6,240.8 1197.9,240.5 1198.1,242 1198.4,242.9 1198.7,243.3 1199,241.4 1199.3,241.4 1199.6,241.1 1199.9,242.8 1200.2,244.7 1200.5,237.5 1200.8,249.4 1201.1,239.2 1201.3,243 1201.6,244.1 1201.9,247.3 1202.2,246.4 1202.5,248.6 1202.8,250.5 1203.1,247.5 1203.4,253.4 1203.7,248.6 1204,245.9 1204.3,257.8 1204.6,252.4 1204.8,248.6 1205.1,248.7 1205.4,248.4 1205.7,248.2 1206,246.7 1206.3,244 1206.6,243.5 1206.9,251.2 1207.2,250.6 1207.5,262.3 1207.8,262.4 1208.1,269.4 1208.3,259.2 1208.6,254.1 1208.9,254.8 1209.2,255.7 1209.5,249.6 1209.8,247.6 1210.1,244.9 1210.4,243.2 1210.7,242.3 1211,254 1211.3,241.2 1211.6,247.2 1211.8,246.6 1212.1,241.8 1212.4,247.4 1212.7,252.1 1213,251.2 1213.3,247 1213.6,244.9 1213.9,242.4 1214.2,246.7 1214.5,248.4 1214.8,240.5 1215,247 1215.3,239.8 1215.6,243.6 1215.9,243.2 1216.2,244.3 1216.5,243.4 1216.8,247.5 1217.1,247.2 1217.4,247.5 1217.7,249 1218,246.7 1218.3,247 1218.5,247 1218.8,245.6 1219.1,244.8 1219.4,237.3 1219.7,243.1 1220,245.4 1220.3,243.7 1220.6,241.8 1220.9,244.8 1221.2,246.1 1221.5,249.2 1221.8,247.8 1222,246.4 1222.3,248 1222.6,252.9 1222.9,250.1 1223.2,254.4 1223.5,245 1223.8,245.2 1224.1,242.8 1224.4,245.4 1224.7,244.5 1225,246.9 1225.2,248 1225.5,253.7 1225.8,251.6 1226.1,250.3 1226.4,245.7 1226.7,242.6 1227,250.5 1227.3,247.3 1227.6,246.7 1227.9,249.2 1228.2,251.9 1228.5,248.6 1228.7,251.5 1229,247 1229.3,247.5 1229.6,247 1229.9,247 1230.2,246.1 1230.5,251.7 1230.8,246.5 1231.1,254.5 1231.4,247.9 1231.7,247.5 1232,252.2 1232.2,255.8 1232.5,249.4 1232.8,253.1 1233.1,246.5 1233.4,246.5 1233.7,249.4 1234,250.3 1234.3,248.1 1234.6,249.8 1234.9,254.7 1235.2,253 1235.5,253.1 1235.7,254.8 1236,255 1236.3,255.4 1236.6,254.3 1236.9,257.2 1237.2,257.5 1237.5,248.1 1237.8,252.4 1238.1,247.8 1238.4,254.4 1238.7,250.6 1238.9,253.8 1239.2,243.7 1239.5,254.4 1239.8,257.1 1240.1,252.3 1240.4,251.3 1240.7,259.7 1241,250.6 1241.3,247.9 1241.6,254.7 1241.9,249.4 1242.2,253.7 1242.4,253.1 1242.7,250.8 1243,251.4 1243.3,256.1 1243.6,247.3 1243.9,255.6 1244.2,254.3 1244.5,249.6 1244.8,251.6 1245.1,248.5 1245.4,253.2 1245.7,250.7 1245.9,251 1246.2,249.4 1246.5,249.6 1246.8,251.6 1247.1,245.5 1247.4,250.9 1247.7,249.3 1248,247.8 1248.3,247 1248.6,248.6 1248.9,248.8 1249.2,254.7 1249.4,250.3 1249.7,253.6 1250,253.7 1250.3,252.6 1250.6,260.2 1250.9,251.1 1251.2,252.3 1251.5,256 1251.8,253.5 1252.1,247.5 1252.4,253 1252.6,252.3 1252.9,255 1253.2,257.5 1253.5,259.1 1253.8,256.8 1254.1,251.7 1254.4,253.3 1254.7,258.7 1255,253.4 1255.3,254.9 1255.6,258.4 1255.9,254.2 1256.1,257.9 1256.4,260.7 1256.7,254.3 1257,262.2 1257.3,255.8 1257.6,262.5 1257.9,258 1258.2,257.6 1258.5,259.1 1258.8,266.5 1259.1,260.6 1259.4,260.7 1259.6,262.3 1259.9,258.3 1260.2,256 1260.5,260.6 1260.8,256.5 1261.1,259.9 1261.4,253 1261.7,251.2 1262,245.7 1262.3,253.1 1262.6,256.3 1262.8,252.7 1263.1,261.8 1263.4,258.5 1263.7,264.2 1264,269.5 1264.3,268.7 1264.6,274.3 1264.9,270.6 1265.2,276.3 1265.5,267.6 1265.8,266.2 1266.1,263.4 1266.3,267.2 1266.6,257.9 1266.9,259.7 1267.2,262.4 1267.5,264.3 1267.8,262.6 1268.1,258.5 1268.4,263 1268.7,261.1 1269,257.5 1269.3,258.2 1269.6,258.1 1269.8,256.5 1270.1,256.4 1270.4,255.9 1270.7,260.2 1271,254.8 1271.3,256.1 1271.6,256 1271.9,257.3 1272.2,259.6 1272.5,259.8 1272.8,257.5 1273.1,261.8 1273.3,262.8 1273.6,259.3 1273.9,259.6 1274.2,262.2 1274.5,261.7 1274.8,268.3 1275.1,273 1275.4,281.5 1275.7,293.3 1276,305.1 1276.3,307.7 1276.5,303 1276.8,285 1277.1,272.9 1277.4,262.8 1277.7,254.3 1278,255.5 1278.3,253 1278.6,259.2 1278.9,252.5 1279.2,254.4 1279.5,253.8 1279.8,255.6 1280,255.9 1280.3,253.7 1280.6,259.2 1280.9,258.7 1281.2,257.2 1281.5,263.4 1281.8,264.9 1282.1,261.7 1282.4,262.8 1282.7,260.9 1283,262.8 1283.3,268.5 1283.5,264.3 1283.8,261.3 1284.1,265.7 1284.4,264 1284.7,265.4 1285,260.2 1285.3,257 1285.6,265.8 1285.9,259 1286.2,259 1286.5,263.3 1286.8,260.5 1287,263.5 1287.3,262.2 1287.6,261.1 1287.9,260.9 1288.2,262.6 1288.5,258.8 1288.8,260.2 1289.1,263.7 1289.4,259.7 1289.7,259.7 1290,265.3 1290.2,257 1290.5,262.1 1290.8,262 1291.1,258.1 1291.4,268.2 1291.7,266.2 1292,259.8 1292.3,262.6 1292.6,264.2 1292.9,258.4 1293.2,258.4 1293.5,263.6 1293.7,262.6 1294,259.2 1294.3,257.7 1294.6,263.8 1294.9,257.6 1295.2,259.8 1295.5,263.4 1295.8,259.7 1296.1,263.3 1296.4,261.9 1296.7,258.2 1297,260.3 1297.2,262.1 1297.5,265 1297.8,267.9 1298.1,265.9 1298.4,271.7 1298.7,268.8 1299,265.5 1299.3,267.9 1299.6,267.7 1299.9,263.7 1300.2,260.8 1300.4,263.8 1300.7,263.6 1301,259.1 1301.3,261.1 1301.6,262.8 1301.9,261 1302.2,261.4 1302.5,262.6 1302.8,255.4 1303.1,259.8 1303.4,261.4 1303.7,261 1303.9,255.2 1304.2,259 1304.5,262.7 1304.8,258.7 1305.1,258.6 1305.4,259.3 1305.7,257.8 1306,259.3 1306.3,262.1 1306.6,261.7 1306.9,258.9 1307.2,265 1307.4,259.6 1307.7,262.6 1308,260.1 1308.3,268 1308.6,256.4 1308.9,264.2 1309.2,264.6 1309.5,262.1 1309.8,266.4 1310.1,266.1 1310.4,270.9 1310.7,268 1310.9,266.4 1311.2,264.9 1311.5,266.1 1311.8,263.1 1312.1,262.4 1312.4,267.3 1312.7,266.5 1313,258.7 1313.3,267.2 1313.6,259.7 1313.9,263.5 1314.1,261 1314.4,268.2 1314.7,264 1315,262.4 1315.3,265 1315.6,263.2 1315.9,265.3 1316.2,265.9 1316.5,265.9 1316.8,262.3 1317.1,264.3 1317.4,268.4 1317.6,265.4 1317.9,264.5 1318.2,267.4 1318.5,261.3 1318.8,262.9 1319.1,260.6 1319.4,266.1 1319.7,264.9 1320,259.3 1320.3,263.7 1320.6,258.8 1320.9,259.8 1321.1,262.9 1321.4,260 1321.7,264.7 1322,261.5 1322.3,264.4 1322.6,265.1 1322.9,259.7 1323.2,263.3 1323.5,265.8 1323.8,256.6 1324.1,262.2 1324.4,269 1324.6,258.3 1324.9,255.4 1325.2,257.2 1325.5,254.1 1325.8,260.1 1326.1,258.3 1326.4,263 1326.7,261.1 1327,256.6 1327.3,259.8 1327.6,261.8 1327.8,268.1 1328.1,264.4 1328.4,268.9 1328.7,264.8 1329,269.9 1329.3,265.8 1329.6,270.9 1329.9,263 1330.2,270.7 1330.5,267.2 1330.8,260.9 1331.1,266 1331.3,269.9 1331.6,264 1331.9,263.1 1332.2,263.9 1332.5,272 1332.8,266.7 1333.1,273.7 1333.4,262.9 1333.7,266.3 1334,266.7 1334.3,265.9 1334.6,267.1 1334.8,269.4 1335.1,263.1 1335.4,266.5 1335.7,270.1 1336,261.6 1336.3,262.4 1336.6,264.3 1336.9,265.3 1337.2,266.6 1337.5,263.6 1337.8,260.1 1338,264.2 1338.3,262.1 1338.6,268.6 1338.9,263.5 1339.2,260.5 1339.5,266.4 1339.8,268.8 1340.1,267 1340.4,266.6 1340.7,266.7 1341,267.8 1341.3,269.3 1341.5,268.7 1341.8,269.4 1342.1,268.4 1342.4,269.5 1342.7,270.3 1343,268.4 1343.3,267.9 1343.6,266 1343.9,268.1 1344.2,263.9 1344.5,269.1 1344.8,268.2 1345,269.9 1345.3,268.9 1345.6,267.6" fill="none" stroke="#ff7f0e" stroke-width="3.0" stroke-linejoin="round" />
</g>
<rect x="796.2" y="14" width="549.6" height="429.6" fill="none" stroke="#505050" stroke-width="1.8"/>
<line x1="860" y1="443.6" x2="860" y2="435.1" stroke="#1a1a1a" stroke-width="2.2"/>
<text x="860.5" y="466.9" font-size="23.2" text-anchor="middle" font-family="'DejaVu Sans', 'Liberation Sans', sans-serif" fill="#383838" >4000</text>
<line x1="941" y1="443.6" x2="941" y2="435.1" stroke="#1a1a1a" stroke-width="2.2"/>
<text x="941.5" y="466.9" font-size="23.2" text-anchor="middle" font-family="'DejaVu Sans', 'Liberation Sans', sans-serif" fill="#383838" >4500</text>
<line x1="1021.9" y1="443.6" x2="1021.9" y2="435.1" stroke="#1a1a1a" stroke-width="2.2"/>
<text x="1022.4" y="466.9" font-size="23.2" text-anchor="middle" font-family="'DejaVu Sans', 'Liberation Sans', sans-serif" fill="#383838" >5000</text>
<line x1="1102.9" y1="443.6" x2="1102.9" y2="435.1" stroke="#1a1a1a" stroke-width="2.2"/>
<text x="1103.4" y="466.9" font-size="23.2" text-anchor="middle" font-family="'DejaVu Sans', 'Liberation Sans', sans-serif" fill="#383838" >5500</text>
<line x1="1183.9" y1="443.6" x2="1183.9" y2="435.1" stroke="#1a1a1a" stroke-width="2.2"/>
<text x="1184.4" y="466.9" font-size="23.2" text-anchor="middle" font-family="'DejaVu Sans', 'Liberation Sans', sans-serif" fill="#383838" >6000</text>
<line x1="1264.8" y1="443.6" x2="1264.8" y2="435.1" stroke="#1a1a1a" stroke-width="2.2"/>
<text x="1265.3" y="466.9" font-size="23.2" text-anchor="middle" font-family="'DejaVu Sans', 'Liberation Sans', sans-serif" fill="#383838" >6500</text>
<line x1="1345.8" y1="443.6" x2="1345.8" y2="435.1" stroke="#1a1a1a" stroke-width="2.2"/>
<text x="1346.3" y="466.9" font-size="23.2" text-anchor="middle" font-family="'DejaVu Sans', 'Liberation Sans', sans-serif" fill="#383838" >7000</text>
<line x1="796.2" y1="13.4" x2="804.7" y2="13.4" stroke="#1a1a1a" stroke-width="2.2"/>
<text x="787.6" y="22.1" font-size="23.2" text-anchor="end" font-family="'DejaVu Sans', 'Liberation Sans', sans-serif" fill="#383838" >2.00</text>
<line x1="796.2" y1="67.1" x2="804.7" y2="67.1" stroke="#1a1a1a" stroke-width="2.2"/>
<text x="787.6" y="74.8" font-size="23.2" text-anchor="end" font-family="'DejaVu Sans', 'Liberation Sans', sans-serif" fill="#383838" >1.75</text>
<line x1="796.2" y1="120.8" x2="804.7" y2="120.8" stroke="#1a1a1a" stroke-width="2.2"/>
<text x="787.6" y="128.5" font-size="23.2" text-anchor="end" font-family="'DejaVu Sans', 'Liberation Sans', sans-serif" fill="#383838" >1.50</text>
<line x1="796.2" y1="174.5" x2="804.7" y2="174.5" stroke="#1a1a1a" stroke-width="2.2"/>
<text x="787.6" y="182.2" font-size="23.2" text-anchor="end" font-family="'DejaVu Sans', 'Liberation Sans', sans-serif" fill="#383838" >1.25</text>
<line x1="796.2" y1="228.2" x2="804.7" y2="228.2" stroke="#1a1a1a" stroke-width="2.2"/>
<text x="787.6" y="235.9" font-size="23.2" text-anchor="end" font-family="'DejaVu Sans', 'Liberation Sans', sans-serif" fill="#383838" >1.00</text>
<line x1="796.2" y1="281.9" x2="804.7" y2="281.9" stroke="#1a1a1a" stroke-width="2.2"/>
<text x="787.6" y="289.6" font-size="23.2" text-anchor="end" font-family="'DejaVu Sans', 'Liberation Sans', sans-serif" fill="#383838" >0.75</text>
<line x1="796.2" y1="335.6" x2="804.7" y2="335.6" stroke="#1a1a1a" stroke-width="2.2"/>
<text x="787.6" y="343.3" font-size="23.2" text-anchor="end" font-family="'DejaVu Sans', 'Liberation Sans', sans-serif" fill="#383838" >0.50</text>
<line x1="796.2" y1="389.3" x2="804.7" y2="389.3" stroke="#1a1a1a" stroke-width="2.2"/>
<text x="787.6" y="397" font-size="23.2" text-anchor="end" font-family="'DejaVu Sans', 'Liberation Sans', sans-serif" fill="#383838" >0.25</text>
<line x1="796.2" y1="443" x2="804.7" y2="443" stroke="#1a1a1a" stroke-width="2.2"/>
<text x="787.6" y="451.7" font-size="23.2" text-anchor="end" font-family="'DejaVu Sans', 'Liberation Sans', sans-serif" fill="#383838" >0.00</text>
<rect x="961.4" y="326.4" width="373.3" height="103.5" rx="3" ry="3" fill="#ffffff" fill-opacity="0.85" stroke="#e8e8e8" stroke-width="1.2"/>
<line x1="969" y1="342.9" x2="1017.5" y2="342.9" stroke="#1f77b4" stroke-width="3.4"/>
<line x1="969" y1="376.1" x2="1017.5" y2="376.1" stroke="#2ca02c" stroke-width="3.4"/>
<line x1="969" y1="408.8" x2="1017.5" y2="408.8" stroke="#ff7f0e" stroke-width="3.4"/>
<text x="1033.8" y="353.2" font-size="23.3" text-anchor="start" font-family="'DejaVu Sans', 'Liberation Sans', sans-serif" fill="#383838" >Input spectrum</text>
<text x="1033.8" y="384.6" font-size="23.3" text-anchor="start" font-family="'DejaVu Sans', 'Liberation Sans', sans-serif" fill="#383838" >Dust-corrected spectrum</text>
<text x="1033.8" y="417.6" font-size="23.3" text-anchor="start" font-family="'DejaVu Sans', 'Liberation Sans', sans-serif" fill="#383838" >Best-fit spectrum</text>
<g clip-path="url(#c3)">
<polyline points="1684.8,161.2 1684.9,171.1 1685,160 1685.1,166 1685.2,179.6 1685.3,155.6 1685.4,146.7 1685.5,140.3 1685.6,144.4 1685.6,148.2 1685.7,155.7 1685.8,144.6 1685.9,157 1686,158.7 1686.1,158.2 1686.2,153.1 1686.3,158.2 1686.4,162.6 1686.5,149.7 1686.6,163 1686.7,155.4 1686.8,157.4 1686.8,154.6 1686.9,155.2 1687,167.6 1687.1,162.2 1687.2,166.5 1687.3,146.5 1687.4,151.4 1687.5,149.4 1687.6,158.5 1687.7,172.7 1687.8,155.1 1687.9,164.2 1687.9,165.2 1688,163.1 1688.1,154.5 1688.2,155.3 1688.3,168.9 1688.4,152.2 1688.5,164.4 1688.6,158.1 1688.7,146.7 1688.8,153.7 1688.9,156.2 1688.9,169.7 1689,157 1689.1,156.6 1689.2,165.3 1689.3,169.9 1689.4,169 1689.5,172.1 1689.6,160.8 1689.7,163 1689.8,160.6 1689.9,166.9 1689.9,155 1690,151.7 1690.1,168.4 1690.2,170.1 1690.3,156.6 1690.4,161.4 1690.5,152.7 1690.6,157.3 1690.7,134.4 1690.8,89.1 1690.8,26.5 1690.9,-9.2 1691,-18.6 1691.1,-3.3 1691.2,35.8 1691.3,89.4 1691.4,133.8 1691.5,149.7 1691.6,142.1 1691.7,147.9 1691.7,142.7 1691.8,151.7 1691.9,163.2 1692,163.1 1692.1,165.7 1692.2,164.4 1692.3,146.3 1692.4,152.5 1692.5,150.6 1692.5,143.6 1692.6,141.8 1692.7,146.2 1692.8,139.1 1692.9,148.8 1693,153.7 1693.1,150.7 1693.2,159.7 1693.3,149.1 1693.3,144 1693.4,139 1693.5,144.7 1693.6,145.5 1693.7,142 1693.8,141.6 1693.9,141.7 1694,141.3 1694.1,148.9 1694.1,151.7 1694.2,154.9 1694.3,161.9 1694.4,166.4 1694.5,152.5 1694.6,153.7 1694.7,153.9 1694.8,142.1 1694.9,136.4 1694.9,147.1 1695,140.9 1695.1,146.2 1695.2,145.6 1695.3,144.1 1695.4,140.9 1695.5,130 1695.6,144.3 1695.6,131.7 1695.7,143.7 1695.8,145.4 1695.9,140.7 1696,145.8 1696.1,147.2 1696.2,159.5 1696.3,155 1696.3,167.1 1696.4,144.1 1696.5,155.8 1696.6,145 1696.7,144.8 1696.8,144.4 1696.9,146.8 1697,139.5 1697,144 1697.1,139.9 1697.2,144.5 1697.3,140.7 1697.4,134.1 1697.5,138.5 1697.6,143.7 1697.7,136.4 1697.7,145.2 1697.8,149.5 1697.9,138.6 1698,144 1698.1,132.3 1698.2,138.5 1698.3,132.8 1698.3,135.4 1698.4,144 1698.5,139.4 1698.6,147.5 1698.7,147.5 1698.8,149.5 1698.9,166.3 1698.9,150.1 1699,159.2 1699.1,150.7 1699.2,152.5 1699.3,135.7 1699.4,139.9 1699.5,138.5 1699.6,140.2 1699.6,135.9 1699.7,151.6 1699.8,141.1 1699.9,135 1700,144.2 1700.1,143.9 1700.2,139.4 1700.2,144.1 1700.3,141.6 1700.4,134.4 1700.5,139 1700.6,138.8 1700.7,142.5 1700.7,145.4 1700.8,155.2 1700.9,157.4 1701,168.6 1701.1,175.1 1701.2,181.6 1701.3,155.2 1701.3,147.1 1701.4,146.8 1701.5,149.5 1701.6,147.2 1701.7,139.1 1701.8,150.9 1701.9,152.4 1701.9,147.7 1702,145.4 1702.1,154 1702.2,157.6 1702.3,165 1702.4,158.7 1702.4,165.1 1702.5,176.9 1702.6,196.4 1702.7,187.9 1702.8,174.4 1702.9,174.3 1703,157.6 1703,154.4 1703.1,152 1703.2,146.6 1703.3,142.1 1703.4,142.1 1703.5,137.1 1703.5,127.2 1703.6,139.7 1703.7,134.8 1703.8,124.2 1703.9,124.7 1704,122.4 1704,121 1704.1,111.2 1704.2,109 1704.3,106.9 1704.4,111.1 1704.5,108 1704.6,115.1 1704.6,110.9 1704.7,114.4 1704.8,110.5 1704.9,108.2 1705,106.8 1705.1,113.9 1705.1,106.3 1705.2,110.7 1705.3,112.9 1705.4,109.6 1705.5,113.7 1705.6,108 1705.6,107.3 1705.7,109.1 1705.8,106.9 1705.9,109.5 1706,109.1 1706.1,114.3 1706.1,109 1706.2,111.4 1706.3,110.6 1706.4,109.6 1706.5,108.8 1706.5,114.8 1706.6,114.5 1706.7,110.2 1706.8,107.3 1706.9,108.4 1707,107.1 1707,105.7 1707.1,108.4 1707.2,110.3 1707.3,114.1 1707.4,113.8 1707.5,112.1 1707.5,109.3 1707.6,109 1707.7,109.6 1707.8,110 1707.9,107.8 1707.9,108.9 1708,109.1 1708.1,109.1 1708.2,112.5 1708.3,114.9 1708.4,111.2 1708.4,114.6 1708.5,121 1708.6,126.7 1708.7,121.3 1708.8,137.3 1708.9,134.9 1708.9,129.3 1709,130.3 1709.1,120.1 1709.2,109.6 1709.3,110 1709.3,108.9 1709.4,108.1 1709.5,109.4 1709.6,106.4 1709.7,110.3 1709.7,111.2 1709.8,109 1709.9,106.6 1710,108.3 1710.1,107.5 1710.2,117.1 1710.2,106.3 1710.3,102.9 1710.4,105.7 1710.5,111.3 1710.6,113.5 1710.6,109.1 1710.7,114.2 1710.8,109 1710.9,113.3 1711,108.2 1711,107 1711.1,119.4 1711.2,110.8 1711.3,114 1711.4,116.9 1711.4,113.7 1711.5,111.5 1711.6,106.9 1711.7,115.2 1711.8,106.2 1711.8,103.8 1711.9,108.8 1712,109 1712.1,110.6 1712.2,115 1712.3,108.9 1712.3,109.6 1712.4,108.8 1712.5,103 1712.6,108.2 1712.7,109.1 1712.7,105.2 1712.8,115.2 1712.9,114.4 1713,112.3 1713.1,113.4 1713.1,108.9 1713.2,112 1713.3,105.4 1713.4,105.4 1713.5,107.8 1713.5,111.8 1713.6,108 1713.7,106.9 1713.8,113.3 1713.8,108.5 1713.9,107.9 1714,109.3 1714.1,107 1714.2,110.5 1714.2,120.9 1714.3,120.3 1714.4,125.9 1714.5,119.1 1714.6,120.9 1714.6,111 1714.7,111.3 1714.8,107.2 1714.9,110.9 1715,115.1 1715,104.1 1715.1,110 1715.2,104.7 1715.3,107.8 1715.4,107.1 1715.4,103 1715.5,108 1715.6,103.7 1715.7,113.7 1715.7,105.5 1715.8,109.3 1715.9,109 1716,109 1716.1,107.7 1716.1,104.1 1716.2,116.5 1716.3,110.2 1716.4,113.1 1716.5,106.7 1716.5,112.2 1716.6,109.2 1716.7,111.9 1716.8,108.3 1716.8,106.9 1716.9,111.4 1717,110.2 1717.1,114.8 1717.2,109.3 1717.2,107.7 1717.3,113.6 1717.4,109.5 1717.5,123.9 1717.6,125.1 1717.6,125 1717.7,122.9 1717.8,121.3 1717.9,120.8 1717.9,119.4 1718,114.1 1718.1,116.1 1718.2,117.1 1718.3,115.9 1718.3,104 1718.4,118.5 1718.5,110.9 1718.6,105.8 1718.6,109.3 1718.7,114.4 1718.8,112.2 1718.9,109.9 1718.9,110.8 1719,122.2 1719.1,119.2 1719.2,115.7 1719.3,96.9 1719.3,89.9 1719.4,108.8 1719.5,126.3 1719.6,119.2 1719.6,110.3 1719.7,111.2 1719.8,110.8 1719.9,102.5 1720,113.6 1720,107.7 1720.1,112 1720.2,110.1 1720.3,109.9 1720.3,105.7 1720.4,113.2 1720.5,111.8 1720.6,116 1720.6,108.8 1720.7,111.9 1720.8,109 1720.9,114.1 1721,113.1 1721,109.6 1721.1,116.4 1721.2,114.5 1721.3,113.5 1721.3,115.4 1721.4,117.1 1721.5,106.5 1721.6,109.2 1721.6,106.4 1721.7,117 1721.8,115.1 1721.9,117.1 1721.9,113.2 1722,106.2 1722.1,108 1722.2,110.2 1722.2,109.3 1722.3,106.5 1722.4,109.9 1722.5,107.4 1722.6,108.2 1722.6,116.5 1722.7,110.1 1722.8,104.4 1722.9,110.7 1722.9,109.7 1723,111.9 1723.1,111.5 1723.2,106.3 1723.2,111.1 1723.3,113.4 1723.4,121.4 1723.5,111.7 1723.5,116.1 1723.6,115.9 1723.7,106.9 1723.8,107.2 1723.8,116.4 1723.9,106.6 1724,107.7 1724.1,111.7 1724.1,107.1 1724.2,115.1 1724.3,113.3 1724.4,113.7 1724.4,112.1 1724.5,105.3 1724.6,112.8 1724.7,112.9 1724.7,112.5 1724.8,108.5 1724.9,111.1 1725,107.1 1725,112.4 1725.1,114.8 1725.2,112.5 1725.3,110 1725.3,112.5 1725.4,108.2 1725.5,103 1725.6,109.8 1725.6,107.9 1725.7,103.1 1725.8,109.7 1725.9,110.1 1725.9,111.7 1726,107.1 1726.1,107 1726.2,109.5 1726.2,109 1726.3,104.6 1726.4,106.7 1726.5,113.7 1726.5,109.1 1726.6,108.2 1726.7,106.3 1726.8,109.1 1726.8,110.5 1726.9,110.1 1727,114.8 1727.1,108.9 1727.1,111.5 1727.2,107.5 1727.3,112.9 1727.3,111.1 1727.4,113.3 1727.5,113.8 1727.6,107.9 1727.6,111.7 1727.7,108.4 1727.8,113.8 1727.9,109.8 1727.9,116.4 1728,112.6 1728.1,112.5 1728.2,109.1 1728.2,110.7 1728.3,112.4 1728.4,108.8 1728.5,111.1 1728.5,109.9 1728.6,108.9 1728.7,111.3 1728.8,112.5 1728.8,109.8 1728.9,112 1729,108.8 1729,106.1 1729.1,106.6 1729.2,110.7 1729.3,113.8 1729.3,109.2 1729.4,109.1 1729.5,105.5 1729.6,109.9 1729.6,110.1 1729.7,107.4 1729.8,111.4 1729.8,110.4 1729.9,104.5 1730,105.3 1730.1,108.1 1730.1,109.4 1730.2,114.2 1730.3,108.6 1730.4,110.5 1730.4,109.9 1730.5,112.8 1730.6,110.7 1730.7,111.4 1730.7,109.5 1730.8,105.6 1730.9,109 1730.9,116.2 1731,113.8 1731.1,116.5 1731.2,113.3 1731.2,108.6 1731.3,108.7 1731.4,112.4 1731.4,109.5 1731.5,113.5 1731.6,116.3 1731.7,116.2 1731.7,114.2 1731.8,107 1731.9,117.3 1732,108.4 1732,108.2 1732.1,113.9 1732.2,112.3 1732.2,113.6 1732.3,111.5 1732.4,108.8 1732.5,110.8 1732.5,106.6 1732.6,106.6 1732.7,109.5 1732.7,109.2 1732.8,111.3 1732.9,109.6 1733,115.1 1733,110.2 1733.1,110.6 1733.2,114.6 1733.2,103.9 1733.3,113.9 1733.4,112.9 1733.5,108.9 1733.5,117 1733.6,112.2 1733.7,114.7 1733.8,112.9 1733.8,110.3 1733.9,109.3 1734,107.1 1734,108.8 1734.1,107.9 1734.2,109.8 1734.2,114.2 1734.3,108.1 1734.4,113 1734.5,113.1 1734.5,105.8 1734.6,108.1 1734.7,109.5 1734.7,107.3 1734.8,106.8 1734.9,114.2 1735,110.1 1735,114.6 1735.1,110.4 1735.2,113.6 1735.2,106.7 1735.3,109.7 1735.4,114.5 1735.5,112 1735.5,115.8 1735.6,111.8 1735.7,109.5 1735.7,111.2 1735.8,118.4 1735.9,112.3 1736,110 1736,110.9 1736.1,107.7 1736.2,116.8 1736.2,110.6 1736.3,114.9 1736.4,111.4 1736.4,110.8 1736.5,110.3 1736.6,114.2 1736.7,111 1736.7,116 1736.8,117.2 1736.9,110 1736.9,112.3 1737,118.2 1737.1,115.2 1737.2,112.4 1737.2,106.9 1737.3,109.1 1737.4,109.6 1737.4,118.2 1737.5,112.8 1737.6,110.8 1737.6,110.8 1737.7,111.1 1737.8,112.6 1737.9,106.7 1737.9,107.4 1738,113 1738.1,116.3 1738.1,105.9 1738.2,115 1738.3,109 1738.3,106.7 1738.4,117 1738.5,112.8 1738.5,114.9 1738.6,112.6 1738.7,113.2 1738.8,107.8 1738.8,112.6 1738.9,114.9 1739,111.4 1739,115.6 1739.1,114.9 1739.2,106.9 1739.2,116.3 1739.3,114.9 1739.4,113.1 1739.5,116.7 1739.5,120 1739.6,109.4 1739.7,116 1739.7,116 1739.8,115.5 1739.9,118.3 1739.9,119.2 1740,115.5 1740.1,109.9 1740.1,119.1 1740.2,121.5 1740.3,120.2 1740.4,81.2 1740.4,56.8 1740.5,64 1740.6,101.9 1740.6,122.9 1740.7,123.4 1740.8,122.2 1740.8,123.3 1740.9,114 1741,119.4 1741,119.3 1741.1,117.5 1741.2,118.7 1741.2,115.3 1741.3,113.4 1741.4,115.1 1741.5,115.3 1741.5,116.8 1741.6,114.3 1741.7,122.8 1741.7,115.5 1741.8,120.3 1741.9,121.2 1741.9,117.4 1742,118.6 1742.1,115.5 1742.1,113.2 1742.2,124.4 1742.3,117.1 1742.3,111.4 1742.4,114.6 1742.5,112.8 1742.5,115.7 1742.6,121.1 1742.7,120.4 1742.8,115 1742.8,114.1 1742.9,119.2 1743,117.2 1743,115.9 1743.1,122.3 1743.2,118.7 1743.2,112.2 1743.3,110.5 1743.4,117.2 1743.4,111.7 1743.5,118 1743.6,118.7 1743.6,122.8 1743.7,113.3 1743.8,117.1 1743.8,110.4 1743.9,116.2 1744,115.8 1744,116.6 1744.1,97.7 1744.2,99.4 1744.2,109 1744.3,122.4 1744.4,115.5 1744.4,115.6 1744.5,119.8 1744.6,118.2 1744.6,117.2 1744.7,116.3 1744.8,118.8 1744.9,114.4 1744.9,119.2 1745,119.9 1745.1,119.4 1745.1,124.8 1745.2,119.8 1745.3,115.5 1745.3,116.6 1745.4,119.3 1745.5,115.6 1745.5,122.1 1745.6,117.3 1745.7,115.1 1745.7,114.5 1745.8,111 1745.9,85.5 1745.9,63.7 1746,71.9 1746.1,95.3 1746.1,118.5 1746.2,123.6 1746.3,116.7 1746.3,118 1746.4,117.7 1746.5,119.3 1746.5,119.1 1746.6,116.3 1746.7,114.2 1746.7,118.5 1746.8,122.4 1746.9,115.4 1746.9,117.5 1747,117.5 1747.1,118.9 1747.1,113.4 1747.2,119.1 1747.3,117.5 1747.3,124.5 1747.4,121.1 1747.5,121.1 1747.5,119.2 1747.6,118.4 1747.7,121.5 1747.7,115.2 1747.8,122.2 1747.9,120.8 1747.9,118.6 1748,122.8 1748.1,118.4 1748.1,117.9 1748.2,119.7 1748.3,114 1748.3,118.7 1748.4,117.8 1748.5,120.8 1748.5,122.8 1748.6,119.7 1748.7,118.5 1748.7,118.4 1748.8,116.1 1748.9,124.4 1748.9,120.9 1749,123.1 1749,115 1749.1,119.5 1749.2,119.8 1749.2,121.7 1749.3,117.2 1749.4,120.6 1749.4,118.9 1749.5,124.7 1749.6,116.5 1749.6,118.6 1749.7,118 1749.8,116 1749.8,119.6 1749.9,119.1 1750,116.7 1750,117.8 1750.1,119.9 1750.2,118.9 1750.2,120.3 1750.3,117.7 1750.4,117.2 1750.4,119.4 1750.5,115.6 1750.6,124.2 1750.6,120.6 1750.7,115.5 1750.8,120.5 1750.8,123.8 1750.9,116.7 1750.9,119.1 1751,123 1751.1,118.3 1751.1,122.3 1751.2,122.8 1751.3,119.9 1751.3,121 1751.4,123 1751.5,121.2 1751.5,123.1 1751.6,121 1751.7,121.4 1751.7,120.9 1751.8,125.9 1751.9,130.9 1751.9,134.9 1752,134.7 1752.1,132.3 1752.1,134.1 1752.2,136 1752.2,128.7 1752.3,130.6 1752.4,122.5 1752.4,123.8 1752.5,119.5 1752.6,119.2 1752.6,121.2 1752.7,119.7 1752.8,123.4 1752.8,120.8 1752.9,118 1753,111.3 1753,119.7 1753.1,121.2 1753.2,123.8 1753.2,118.5 1753.3,125 1753.3,123.2 1753.4,120.5 1753.5,124.4 1753.5,117.8 1753.6,119 1753.7,123.1 1753.7,123.4 1753.8,125.4 1753.9,125.4 1753.9,121.2 1754,120.4 1754.1,120.8 1754.1,121 1754.2,122.7 1754.2,120.7 1754.3,124.7 1754.4,120.9 1754.4,117.9 1754.5,118.2 1754.6,122.4 1754.6,122.3 1754.7,118.3 1754.8,117.1 1754.8,124.7 1754.9,122.5 1754.9,120.9 1755,119.1 1755.1,124 1755.1,121.4 1755.2,124.1 1755.3,119 1755.3,124.9 1755.4,128.4 1755.5,130.6 1755.5,126.7 1755.6,125.3 1755.6,127 1755.7,121.6 1755.8,124.5 1755.8,122.8 1755.9,123.8 1756,124.1 1756,121.7 1756.1,121.9 1756.2,118.8 1756.2,118.4 1756.3,120.8 1756.3,122.7 1756.4,118.7 1756.5,125.7 1756.5,125.2 1756.6,119.5 1756.7,120.5 1756.7,119.4 1756.8,122 1756.9,124.1 1756.9,122.2 1757,119.6 1757,122.5 1757.1,123 1757.2,124.7 1757.2,123.7 1757.3,119.2 1757.4,120.6 1757.4,124.1 1757.5,124.8 1757.5,125.7 1757.6,125 1757.7,130.5 1757.7,129.6 1757.8,134.8 1757.9,131.1 1757.9,124.7 1758,122.9 1758,126.8 1758.1,124.3 1758.2,120.3 1758.2,123.3 1758.3,124 1758.4,121.9 1758.4,123.4 1758.5,122 1758.5,122.2 1758.6,124.9 1758.7,124.1 1758.7,124.9 1758.8,127.5 1758.9,126.9 1758.9,122.5 1759,127.7 1759,121.2 1759.1,122.5 1759.2,123.7 1759.2,121.9 1759.3,120.9 1759.4,119.3 1759.4,121.9 1759.5,121.9 1759.5,121.7 1759.6,117.3 1759.7,119.7 1759.7,123.6 1759.8,122.7 1759.9,124.1 1759.9,122.7 1760,122.4 1760,118 1760.1,127 1760.2,121.4 1760.2,122.3 1760.3,124.4 1760.4,122.8 1760.4,123.2 1760.5,122.3 1760.5,120.9 1760.6,126.3 1760.7,120.7 1760.7,124.2 1760.8,120 1760.8,123 1760.9,121 1761,123 1761,121.6 1761.1,123.8 1761.2,125.7 1761.2,122.4 1761.3,121.9 1761.3,119.5 1761.4,127.9 1761.5,122.6 1761.5,104.9 1761.6,76.6 1761.7,64.2 1761.7,86.2 1761.8,112.9 1761.8,123.3 1761.9,119.8 1762,120.6 1762,124.5 1762.1,133.6 1762.1,141.1 1762.2,137.6 1762.3,127.9 1762.3,121.5 1762.4,122.5 1762.5,118.6 1762.5,122.6 1762.6,125.7 1762.6,121.4 1762.7,120 1762.8,120.9 1762.8,122.1 1762.9,124.7 1762.9,120.4 1763,124.4 1763.1,122.1 1763.1,124.8 1763.2,126.8 1763.2,121.6 1763.3,129.6 1763.4,125.6 1763.4,122.7 1763.5,124.9 1763.5,123.2 1763.6,124.5 1763.7,125.7 1763.7,120.4 1763.8,125.3 1763.9,125.7 1763.9,127.4 1764,127 1764,124 1764.1,124.1 1764.2,125.3 1764.2,125.3 1764.3,123.4 1764.3,128 1764.4,125.1 1764.5,124.8 1764.5,125.9 1764.6,124.4 1764.6,125.5 1764.7,126.1 1764.8,121.9 1764.8,123.7 1764.9,123.2 1764.9,125.6 1765,123.8 1765.1,123.8 1765.1,122.4 1765.2,120.5 1765.2,125.3 1765.3,124.3 1765.4,124.5 1765.4,131 1765.5,126.7 1765.5,124.2 1765.6,123.2 1765.7,125.4 1765.7,122.5 1765.8,121.5 1765.9,125 1765.9,121.3 1766,120.8 1766,122.7 1766.1,126.2 1766.2,120.9 1766.2,124.2 1766.3,124.7 1766.3,124.3 1766.4,124.7 1766.5,121.7 1766.5,122.8 1766.6,122.5 1766.6,122.6 1766.7,126.4 1766.8,125.2 1766.8,122.9 1766.9,124.7 1766.9,119.3 1767,125 1767.1,125.5 1767.1,122.3 1767.2,123.2 1767.2,124 1767.3,125 1767.3,123.4 1767.4,123.1 1767.5,123.4 1767.5,125.8 1767.6,124.1 1767.6,123.2 1767.7,123.9 1767.8,132.1 1767.8,127.1 1767.9,127.6 1767.9,126.7 1768,126.2 1768.1,124.9 1768.1,125.6 1768.2,127.2 1768.2,126.5 1768.3,122.4 1768.4,126.4 1768.4,124.7 1768.5,121.9 1768.5,123.6 1768.6,128.3 1768.7,123.8 1768.7,125 1768.8,124.3 1768.8,122.6 1768.9,124.2 1769,125.4 1769,123.8 1769.1,124.5 1769.1,124.6 1769.2,124.4 1769.2,124.5 1769.3,126.2 1769.4,126.9 1769.4,125.7 1769.5,127.2 1769.5,128.1 1769.6,123.8 1769.7,127 1769.7,126.1 1769.8,126.2 1769.8,125.9 1769.9,125.8 1770,125.7 1770,127.8 1770.1,124.4 1770.1,127.1 1770.2,124 1770.3,130.1 1770.3,128.3 1770.4,124 1770.4,126.3 1770.5,127.5 1770.5,125.4 1770.6,127.5 1770.7,125.2 1770.7,130.3 1770.8,127 1770.8,127.4 1770.9,125.4 1771,124.4 1771,127.6 1771.1,122.5 1771.1,127.2 1771.2,129.9 1771.2,130.4 1771.3,122.4 1771.4,125.2 1771.4,126.8 1771.5,127 1771.5,127.9 1771.6,123.9 1771.7,126.2 1771.7,123.5 1771.8,127.2 1771.8,131.4 1771.9,125.5 1771.9,127.5 1772,127.9 1772.1,123.7 1772.1,126.7 1772.2,124.2 1772.2,128.4 1772.3,137.1 1772.4,143 1772.4,142.2 1772.5,128.4 1772.5,124.5 1772.6,126.1 1772.6,125.8 1772.7,126.3 1772.8,127.8 1772.8,125.4 1772.9,127.6 1772.9,125.9 1773,129.2 1773.1,127.2 1773.1,126.3 1773.2,128.3 1773.2,127.7 1773.3,127.6 1773.3,125 1773.4,127.7 1773.5,125.5 1773.5,123.8 1773.6,125.9 1773.6,129.9 1773.7,126.9 1773.7,125 1773.8,127.1 1773.9,124.8 1773.9,125.2 1774,125.3 1774,126.5 1774.1,127.2 1774.1,126.6 1774.2,126.1 1774.3,125.3 1774.3,126.4 1774.4,128.2 1774.4,128.1 1774.5,128.2 1774.6,131.7 1774.6,130.2 1774.7,130.7 1774.7,129.3 1774.8,129.7 1774.8,128.6 1774.9,129.8 1775,126.7 1775,127.4 1775.1,131.3 1775.1,128.2 1775.2,130.2 1775.2,125.3 1775.3,128.9 1775.4,128.7 1775.4,127.7 1775.5,128.4 1775.5,127.8 1775.6,124.1 1775.6,125.8 1775.7,124.5 1775.8,123.6 1775.8,127.5 1775.9,122.4 1775.9,120.4 1776,121.3 1776,130.5 1776.1,132.4 1776.2,137 1776.2,142.3 1776.3,139.7 1776.3,143.1 1776.4,142.3 1776.4,138.5 1776.5,133.7 1776.5,130.7 1776.6,129.3 1776.7,127.6 1776.7,127.1 1776.8,131.1 1776.8,128.9 1776.9,130.3 1776.9,128.7 1777,126.3 1777.1,127.1 1777.1,129.9 1777.2,128.6 1777.2,126.4 1777.3,129.2 1777.3,129.1 1777.4,128.1 1777.5,131.1 1777.5,127.1 1777.6,128.3 1777.6,128.5 1777.7,130.5 1777.7,129.5 1777.8,129.2 1777.9,128.2 1777.9,128.4 1778,128.4 1778,124.2 1778.1,124.8 1778.1,127.7 1778.2,128.3 1778.2,124.6 1778.3,128.2 1778.4,125.1 1778.4,125.3 1778.5,129.5 1778.5,130 1778.6,129.5 1778.6,131.5 1778.7,131.3 1778.8,130.1 1778.8,127.3 1778.9,129.3 1778.9,128.5 1779,128.8 1779,130.4 1779.1,125.2 1779.1,132.3 1779.2,128.9 1779.3,126.4 1779.3,129.8 1779.4,126.7 1779.4,126.2 1779.5,129.9 1779.5,128.1 1779.6,130.3 1779.6,127.3 1779.7,128.5 1779.8,128.4 1779.8,127.1 1779.9,128.1 1779.9,125.8 1780,127.3 1780,130.4 1780.1,128.4 1780.2,128.3 1780.2,132.2 1780.3,128.5 1780.3,130.3 1780.4,130.3 1780.4,132.7 1780.5,131 1780.5,130.8 1780.6,131.8 1780.7,131.3 1780.7,135.2 1780.8,128.4 1780.8,132.8 1780.9,135 1780.9,132.9 1781,132.1 1781,129 1781.1,131.8 1781.2,129 1781.2,129.9 1781.3,124.8 1781.3,127.1 1781.4,125.3 1781.4,129.8 1781.5,127.2 1781.5,131.2 1781.6,128.1 1781.6,127.8 1781.7,132 1781.8,130.8 1781.8,131.4 1781.9,131.4 1781.9,130.7 1782,131.2 1782,131.3 1782.1,129.1 1782.1,128.7 1782.2,132 1782.3,131 1782.3,129.3 1782.4,128.7 1782.4,129.8 1782.5,127.4 1782.5,128 1782.6,128.5 1782.6,129.8 1782.7,126.8 1782.8,127.7 1782.8,132.2 1782.9,132.2 1782.9,129.7 1783,133.1 1783,130.3 1783.1,130.4 1783.1,131.7 1783.2,130.3 1783.2,132.6 1783.3,130.7 1783.4,133.7 1783.4,126 1783.5,126.9 1783.5,128.1 1783.6,129.3 1783.6,128.7 1783.7,128.2 1783.7,128.3 1783.8,128.8 1783.8,132.2 1783.9,130.4 1784,132.6 1784,134.2 1784.1,135.5 1784.1,134.3 1784.2,135.2 1784.2,140.8 1784.3,135.1 1784.3,133.9 1784.4,136 1784.4,135.7 1784.5,134.1 1784.6,132.2 1784.6,133.6 1784.7,135.1 1784.7,132 1784.8,135.1 1784.8,130.9 1784.9,128.4 1784.9,128.9 1785,128.1 1785,128.3 1785.1,127.9 1785.2,128.7 1785.2,130.9 1785.3,130.9 1785.3,130.8 1785.4,128.9 1785.4,128.9 1785.5,130.7 1785.5,132.8 1785.6,133.1 1785.6,132 1785.7,129 1785.8,130.8 1785.8,131.8 1785.9,133 1785.9,129.5 1786,130 1786,131.6 1786.1,131.3 1786.1,128.7 1786.2,131.7 1786.2,127.5 1786.3,128.5 1786.3,130.8 1786.4,130.1 1786.5,132 1786.5,133.1 1786.6,131.7 1786.6,132.7 1786.7,130.6 1786.7,132.8 1786.8,131.8 1786.8,131 1786.9,138.2 1786.9,132.4 1787,135.7 1787,132.4 1787.1,134.5 1787.2,132.8 1787.2,130.1 1787.3,135.2 1787.3,132.2 1787.4,131.9 1787.4,135.1 1787.5,130.3 1787.5,132.3 1787.6,133 1787.6,133.5 1787.7,126.4 1787.7,132.4 1787.8,134.5 1787.8,132.8 1787.9,131.9 1788,132.3 1788,131.3 1788.1,133.3 1788.1,131.1 1788.2,133.4 1788.2,135.1 1788.3,134.7 1788.3,134.6 1788.4,132.8 1788.4,133 1788.5,134.3 1788.5,133.1 1788.6,132.4 1788.6,127.4 1788.7,121.9 1788.8,117.6 1788.8,127.2 1788.9,134.3 1788.9,133.3 1789,133.4 1789,135.3 1789.1,132.5 1789.1,131.1 1789.2,131.5 1789.2,132.9 1789.3,132.8 1789.3,128.9 1789.4,135.1 1789.4,133.2 1789.5,131.6 1789.6,133.8 1789.6,133.4 1789.7,134 1789.7,133.5 1789.8,131.6 1789.8,134.7 1789.9,134 1789.9,133.9 1790,135.6 1790,134.9 1790.1,136.3 1790.1,132.8 1790.2,131.2 1790.2,132 1790.3,132.7 1790.3,136.4 1790.4,132.2 1790.5,135.1 1790.5,133.5 1790.6,130.9 1790.6,136.3 1790.7,132.5 1790.7,133.9 1790.8,134.5 1790.8,135.7 1790.9,133.9 1790.9,136.3 1791,133.9 1791,134 1791.1,138.8 1791.1,137.7 1791.2,136.7 1791.2,138.6 1791.3,138 1791.3,135.6 1791.4,135.9 1791.4,138.8 1791.5,136.4 1791.6,134.6 1791.6,137 1791.7,136.5 1791.7,131.7 1791.8,132.2 1791.8,137.6 1791.9,136.8 1791.9,133.6 1792,136.5 1792,134.2 1792.1,135.5 1792.1,133.6 1792.2,139.5 1792.2,139.1 1792.3,136.6 1792.3,132.7 1792.4,135 1792.4,137.5 1792.5,134 1792.5,133.6 1792.6,135.9 1792.7,135.7 1792.7,134.4 1792.8,134.2 1792.8,136.3 1792.9,135.2 1792.9,136.2 1793,137.1 1793,137.3 1793.1,135.3 1793.1,136 1793.2,135.6 1793.2,133.7 1793.3,134.3 1793.3,133.8 1793.4,138.1 1793.4,134.2 1793.5,136.8 1793.5,137.3 1793.6,137.6 1793.6,134.3 1793.7,134.5 1793.7,137.7 1793.8,138.8 1793.8,136.8 1793.9,137.4 1794,133.6 1794,138.7 1794.1,139.9 1794.1,138.3 1794.2,137.4 1794.2,136.4 1794.3,135.8 1794.3,134.1 1794.4,139.1 1794.4,140.5 1794.5,144.2 1794.5,140.7 1794.6,138.9 1794.6,140.3 1794.7,136.6 1794.7,136.8 1794.8,132.5 1794.8,133.9 1794.9,136 1794.9,135.6 1795,137.3 1795,138 1795.1,134.5 1795.1,134.6 1795.2,132.9 1795.2,136.6 1795.3,137.3 1795.3,139.2 1795.4,135.9 1795.4,136.8 1795.5,138 1795.5,135.9 1795.6,135 1795.7,138.9 1795.7,134 1795.8,134.8 1795.8,136.4 1795.9,135.9 1795.9,132.3 1796,132.1 1796,123.8 1796.1,88.6 1796.1,34.5 1796.2,14.8 1796.2,45.4 1796.3,100.8 1796.3,133 1796.4,123.6 1796.4,97.2 1796.5,54.5 1796.5,17.6 1796.6,0.3 1796.6,6.7 1796.7,34.7 1796.7,77.5 1796.8,112.5 1796.8,133.2 1796.9,137.3 1796.9,129 1797,106.1 1797,61.2 1797.1,25 1797.1,16.7 1797.2,38 1797.2,82.9 1797.3,116.8 1797.3,136 1797.4,139 1797.4,134.9 1797.5,134.7 1797.5,134.7 1797.6,137.4 1797.6,133.8 1797.7,137.5 1797.7,136 1797.8,136.6 1797.8,136.3 1797.9,135 1797.9,138.2 1798,137 1798,136.4 1798.1,141.2 1798.1,140.6 1798.2,139.8 1798.2,139.8 1798.3,138 1798.3,142.2 1798.4,136.8 1798.4,135.8 1798.5,137.8 1798.6,140.6 1798.6,137.7 1798.7,138.3 1798.7,136.3 1798.8,137.9 1798.8,136.2 1798.9,138.2 1798.9,135.6 1799,142.8 1799,139.5 1799.1,136.9 1799.1,140 1799.2,136.2 1799.2,139.5 1799.3,137.6 1799.3,139.7 1799.4,138.7 1799.4,137.5 1799.5,138.2 1799.5,138.8 1799.6,134.9 1799.6,138.7 1799.7,140.3 1799.7,137 1799.8,137.1 1799.8,136.5 1799.9,135.2 1799.9,140.8 1800,137.2 1800,136.6 1800.1,138.3 1800.1,137.3 1800.2,143.1 1800.2,138.6 1800.3,135 1800.3,141 1800.4,137.5 1800.4,135.8 1800.5,135.7 1800.5,132.7 1800.6,127.6 1800.6,93.6 1800.7,65.6 1800.7,73.2 1800.8,105.7 1800.8,128.1 1800.9,134.7 1800.9,134.6 1801,125 1801,86.9 1801.1,65.3 1801.1,79.9 1801.2,114.7 1801.2,129.4 1801.3,138.6 1801.3,140.9 1801.4,138.7 1801.4,138.8 1801.5,139.1 1801.5,137.8 1801.6,136.8 1801.6,137.8 1801.7,141 1801.7,139.6 1801.8,138.1 1801.8,140 1801.9,137 1801.9,136.8 1802,139.4 1802,137.2 1802.1,134.2 1802.1,134 1802.2,136 1802.2,134.3 1802.2,136.4 1802.3,138 1802.3,135.3 1802.4,136.7 1802.4,136.3 1802.5,137.9 1802.5,137.6 1802.6,139.2 1802.6,137.1 1802.7,136.4 1802.7,138.4 1802.8,136.3 1802.8,140.7 1802.9,138.5 1802.9,134.2 1803,134 1803,136.2 1803.1,137.6 1803.1,140 1803.2,136.5 1803.2,136.3 1803.3,140 1803.3,137.3 1803.4,137.4 1803.4,137.9 1803.5,140.7 1803.5,137.4 1803.6,140.9 1803.6,136 1803.7,137.2 1803.7,139.7 1803.8,135 1803.8,135.8 1803.9,137.9 1803.9,133.5 1804,138.8 1804,137.1 1804.1,135.3 1804.1,142.7 1804.2,136.4 1804.2,138.5 1804.3,138.4 1804.3,140.7 1804.4,138.5 1804.4,141.8 1804.5,140.9 1804.5,140.8 1804.6,141.8 1804.6,137.3 1804.7,142.7 1804.7,141.3 1804.8,140.4 1804.8,139.7 1804.9,138 1804.9,138 1805,139 1805,139.4 1805,138.8 1805.1,137.5 1805.1,138 1805.2,140.2 1805.2,142.5 1805.3,135 1805.3,136.8 1805.4,138.4 1805.4,138.4 1805.5,139.8 1805.5,139.6 1805.6,139 1805.6,138.9 1805.7,139.7 1805.7,141.3 1805.8,138.9 1805.8,136.9 1805.9,138.3 1805.9,137.6 1806,141.8 1806,137.9 1806.1,137.9 1806.1,139.9 1806.2,141 1806.2,137.9 1806.3,139.9 1806.3,137.5 1806.4,138.7 1806.4,137.8 1806.5,139 1806.5,140.6 1806.6,138.3 1806.6,138.7 1806.7,137 1806.7,139.9 1806.7,139.9 1806.8,138.2 1806.8,137.3 1806.9,138.4 1806.9,138.8 1807,139.8 1807,138.9 1807.1,139.4 1807.1,139.6 1807.2,140.8 1807.2,140 1807.3,135.7 1807.3,140 1807.4,140.1 1807.4,141 1807.5,140.9 1807.5,140.2 1807.6,142.4 1807.6,143.4 1807.7,140 1807.7,143.3 1807.8,139.7 1807.8,139.8 1807.9,137.3 1807.9,135.9 1808,138.1 1808,140.4 1808,141.8 1808.1,141 1808.1,139.8 1808.2,143.7 1808.2,139.7 1808.3,140 1808.3,139.2" fill="none" stroke="#2ca02c" stroke-width="3.0" stroke-linejoin="round" />
<polyline points="1495.6,53.7 1496.4,53.8 1497.2,54.6 1498,56.6 1498.8,58.3 1499.6,59 1500.4,59.3 1501.2,60.3 1502,62.9 1502.8,65.1 1503.6,66.3 1504.4,66.6 1505.2,68 1506,69.3 1506.8,70.1 1507.6,71.7 1508.4,70.4 1509.2,70.5 1510,72 1510.8,72.1 1511.6,74 1512.4,75.2 1513.2,76.1 1514,78 1514.8,79.6 1515.6,79.9 1516.4,81.7 1517.2,82.4 1518,83.3 1518.8,85.2 1519.6,86.9 1520.4,89 1521.2,90.1 1522,91.3 1522.8,91.8 1523.6,91.7 1524.4,91.5 1525.2,93 1526,93 1526.8,95.2 1527.6,97.3 1528.4,96.3 1529.2,98.2 1530,97.4 1530.8,97.8 1531.6,100.4 1532.4,99.8 1533.2,101.4 1534,102.1 1534.8,103.6 1535.6,104.8 1536.4,106 1537.2,105.6 1538,104.9 1538.8,105.2 1539.6,105.9 1540.4,107.3 1541.2,109.6 1542,111.1 1542.8,111.3 1543.6,112.3 1544.4,110.9 1545.2,111.5 1546,113 1546.8,113.3 1547.6,115 1548.4,116.1 1549.2,116.4 1550,117.1 1550.8,117.4 1551.6,117.9 1552.4,117.7 1553.2,117.5 1554,118.3 1554.8,117.3 1555.6,116.6 1556.4,116.6 1557.2,117.3 1558,118.8 1558.8,119.9 1559.6,121.1 1560.4,121.9 1561.2,122.6 1562,123.6 1562.8,126 1563.6,125.7 1564.4,127 1565.2,128.5 1566,128.1 1566.8,129.2 1567.6,130.6 1568.4,130.3 1569.2,129.9 1570,128.8 1570.8,128 1571.6,128.8 1572.4,130.7 1573.2,132.6 1574,133.5 1574.8,134.4 1575.6,135.1 1576.4,136.7 1577.2,137.9 1578,139.4 1578.8,142 1579.6,142.8 1580.4,142.2 1581.2,143.6 1582,142.5 1582.8,141.5 1583.6,143.4 1584.4,142.2 1585.2,141.8 1586,142.4 1586.8,141.6 1587.6,142.5 1588.4,144.7 1589.2,146 1590,148.2 1590.8,150.7 1591.6,150 1592.4,151.4 1593.2,151.6 1594,150 1594.8,150.6 1595.6,150.7 1596.4,151.6 1597.2,152.4 1598,153.8 1598.8,155 1599.6,155.9 1600.4,158.1 1601.2,159.8 1602,161.2 1602.8,164 1603.6,165.5 1604.4,166.9 1605.2,168.6 1606,167.8 1606.8,168.1 1607.6,169.3 1608.4,169.8 1609.2,171.9 1610,172.2 1610.8,170.5 1611.6,171.4 1612.4,171 1613.2,170.2 1614,172.4 1614.8,171.4 1615.6,169.8 1616.4,171.1 1617.2,170.7 1618,173.1 1618.8,175.1 1619.6,176.3 1620.4,177.5 1621.2,176.7 1622,177 1622.8,177.4 1623.6,177.9 1624.4,177.4 1625.2,175.9 1626,173.2 1626.8,171 1627.6,168.9 1628.4,168.9 1629.2,169.5 1630,172.8 1630.8,176.6 1631.6,179.1 1632.4,183.9 1633.2,187.3 1634,189.2 1634.8,193.7 1635.6,196.3 1636.4,198 1637.2,200.1 1638,197.3 1638.8,192.1 1639.6,186.6 1640.4,182.8 1641.2,179.5 1642,176.9 1642.8,175.9 1643.6,172.3 1644.4,171.3 1645.2,171.3 1646,169.4 1646.8,170.8 1647.6,171.7 1648.4,171.3 1649.2,171.6 1650,171.1 1650.8,172.2 1651.6,172.7 1652.4,171 1653.2,169.5 1654,168.6 1654.8,167.6 1655.6,166.4 1656.4,166.2 1657.2,164.6 1658,165.7 1658.8,166.4 1659.6,167.4 1660.4,168.2 1661.2,167.1 1662,168 1662.8,169.2 1663.6,170.1 1664.4,171.4 1665.2,171.7 1666,170.9 1666.8,169.1 1667.6,167.7 1668.4,166.1 1669.2,164.4 1670,163.6 1670.8,165 1671.6,164.9 1672.4,165.4 1673.2,166.2 1674,163.8 1674.8,164.9 1675.6,162.5 1676.4,161.8 1677.2,162.8 1678,160.3 1678.8,161.1 1679.6,161.7 1680.4,160.6 1681.2,161 1682,160.9 1682.8,159.3 1684.8,140.5 1684.9,148.6 1685,151.1 1685.1,142 1685.2,132.4 1685.3,126.6 1685.4,128.2 1685.5,118.5 1685.6,119.2 1685.6,121.8 1685.7,123.8 1685.8,131.5 1685.9,133.8 1686,137.1 1686.1,137.9 1686.2,122.9 1686.3,126.5 1686.4,140.3 1686.5,127.4 1686.6,139.4 1686.7,126.8 1686.8,134.5 1686.8,136.9 1686.9,134.4 1687,135.5 1687.1,136.3 1687.2,133.2 1687.3,130.1 1687.4,122.9 1687.5,135.2 1687.6,129 1687.7,131.8 1687.8,138.8 1687.9,131.6 1687.9,144.4 1688,137.1 1688.1,134.6 1688.2,129.2 1688.3,136.3 1688.4,130.8 1688.5,133.1 1688.6,139.3 1688.7,126.8 1688.8,137.5 1688.9,129.4 1688.9,134.2 1689,130.9 1689.1,136.6 1689.2,137.9 1689.3,140.5 1689.4,141.4 1689.5,140.2 1689.6,133 1689.7,137.8 1689.8,149.3 1689.9,151.7 1689.9,136.6 1690,132.8 1690.1,150.9 1690.2,165.8 1690.3,179.7 1690.4,146.8 1690.5,132 1690.6,143.8 1690.7,168.9 1690.8,154.6 1690.8,152.2 1690.9,121.9 1691,129.3 1691.1,136.2 1691.2,140.3 1691.3,154.7 1691.4,137.5 1691.5,134.6 1691.6,129.4 1691.7,116 1691.7,130.5 1691.8,118.6 1691.9,135.2 1692,152 1692.1,160.7 1692.2,133.2 1692.3,124.7 1692.4,134 1692.5,115.8 1692.5,118.8 1692.6,119.3 1692.7,116.3 1692.8,121 1692.9,121.5 1693,138.3 1693.1,157.9 1693.2,131.5 1693.3,128 1693.3,133.5 1693.4,123.1 1693.5,124.1 1693.6,119.6 1693.7,118 1693.8,120 1693.9,121.2 1694,124.5 1694.1,117.4 1694.1,126.3 1694.2,124.3 1694.3,153.9 1694.4,152.4 1694.5,156.6 1694.6,145.7 1694.7,122.3 1694.8,120.6 1694.9,123 1694.9,122.8 1695,115.8 1695.1,125.2 1695.2,112.3 1695.3,114.5 1695.4,120.1 1695.5,111 1695.6,111 1695.6,115.3 1695.7,119.2 1695.8,115.3 1695.9,118.1 1696,138.4 1696.1,139.2 1696.2,146.7 1696.3,157.7 1696.3,169.9 1696.4,141.6 1696.5,138.5 1696.6,124.5 1696.7,109.3 1696.8,120.2 1696.9,114.8 1697,116.2 1697,119.8 1697.1,118.4 1697.2,114.2 1697.3,115 1697.4,110.6 1697.5,115.2 1697.6,112.5 1697.7,121.9 1697.7,117.5 1697.8,127.8 1697.9,112.5 1698,113.1 1698.1,108.9 1698.2,102.5 1698.3,107.8 1698.3,113.3 1698.4,123.5 1698.5,127.2 1698.6,128.4 1698.7,140.8 1698.8,155.8 1698.9,162 1698.9,166.9 1699,135.9 1699.1,140.7 1699.2,130.5 1699.3,119.6 1699.4,125.7 1699.5,111 1699.6,109.2 1699.6,118.1 1699.7,124.9 1699.8,121 1699.9,131.6 1700,112.7 1700.1,120.4 1700.2,123.1 1700.2,124.2 1700.3,118.8 1700.4,112.3 1700.5,128 1700.6,124.9 1700.7,133.8 1700.7,128.9 1700.8,144.5 1700.9,141.4 1701,168.1 1701.1,170.9 1701.2,161.2 1701.3,138.8 1701.3,144.9 1701.4,120.1 1701.5,119.1 1701.6,123.8 1701.7,127.3 1701.8,121.1 1701.9,121.1 1701.9,131.3 1702,129 1702.1,125.2 1702.2,142.5 1702.3,146 1702.4,161.9 1702.4,158.5 1702.5,165.3 1702.6,182.6 1702.7,185.4 1702.8,189.4 1702.9,174.1 1703,160.4 1703,141.2 1703.1,144 1703.2,140 1703.3,124 1703.4,119.1 1703.5,120.8 1703.5,119.5 1703.6,112.8 1703.7,114.6 1703.8,118.8 1703.9,114.2 1704,113.6 1704,108.2 1704.1,113.4 1704.2,107.9 1704.3,108.9 1704.4,114.1 1704.5,107.5 1704.6,107.6 1704.6,114.7 1704.7,104.3 1704.8,114.5 1704.9,113.2 1705,111.1 1705.1,107.2 1705.1,107.1 1705.2,108.6 1705.3,103.6 1705.4,105.9 1705.5,102.9 1705.6,98.4 1705.6,106.6 1705.7,115.9 1705.8,109.1 1705.9,111.5 1706,108.1 1706.1,108.7 1706.1,113 1706.2,113 1706.3,110.3 1706.4,110 1706.5,117.9 1706.5,106.5 1706.6,109.9 1706.7,110.8 1706.8,109.8 1706.9,115.1 1707,111.6 1707,108 1707.1,108.6 1707.2,111.3 1707.3,113.8 1707.4,115.1 1707.5,107.5 1707.5,109.9 1707.6,112.6 1707.7,118.7 1707.8,114.1 1707.9,117 1707.9,106.5 1708,110.1 1708.1,113.7 1708.2,112.9 1708.3,104.8 1708.4,111.4 1708.4,124.5 1708.5,125.6 1708.6,137.8 1708.7,147.9 1708.8,143.4 1708.9,133.4 1708.9,132.2 1709,132 1709.1,126.1 1709.2,118.1 1709.3,112.5 1709.3,118.9 1709.4,119.2 1709.5,106.3 1709.6,111.6 1709.7,107.3 1709.7,112.3 1709.8,108.8 1709.9,115.7 1710,111.2 1710.1,108.3 1710.2,109.9 1710.2,114.6 1710.3,109.9 1710.4,115.5 1710.5,117.9 1710.6,111.1 1710.6,108.2 1710.7,110.7 1710.8,117.6 1710.9,110.2 1711,111 1711,115 1711.1,123.1 1711.2,110.4 1711.3,111 1711.4,112.5 1711.4,119.5 1711.5,118.5 1711.6,110.1 1711.7,110.4 1711.8,111.3 1711.8,113.8 1711.9,111.4 1712,114.3 1712.1,113.6 1712.2,116.2 1712.3,112.1 1712.3,113.7 1712.4,109.1 1712.5,110.2 1712.6,115.1 1712.7,106.6 1712.7,116.6 1712.8,111.4 1712.9,108.9 1713,108.6 1713.1,121.3 1713.1,110.4 1713.2,109.3 1713.3,108.3 1713.4,121.2 1713.5,115.5 1713.5,113.7 1713.6,115.2 1713.7,109.1 1713.8,115.7 1713.8,109.3 1713.9,111.5 1714,120.1 1714.1,120.1 1714.2,121.1 1714.2,122.5 1714.3,123 1714.4,129.6 1714.5,123.8 1714.6,130.1 1714.6,132.1 1714.7,117.9 1714.8,113.4 1714.9,115.1 1715,116.9 1715,111.4 1715.1,106.5 1715.2,113.4 1715.3,115.1 1715.4,115.8 1715.4,106 1715.5,113 1715.6,111.4 1715.7,109.8 1715.7,110.7 1715.8,116.7 1715.9,110.7 1716,111.1 1716.1,112.3 1716.1,111.5 1716.2,116.9 1716.3,115.5 1716.4,117 1716.5,112.1 1716.5,117.3 1716.6,113.2 1716.7,119.1 1716.8,115.6 1716.8,116 1716.9,114.5 1717,113.1 1717.1,114 1717.2,114.7 1717.2,122.2 1717.3,112.7 1717.4,120 1717.5,121.6 1717.6,126.2 1717.6,122.4 1717.7,132.3 1717.8,128 1717.9,124.7 1717.9,121 1718,119.9 1718.1,119.3 1718.2,123.7 1718.3,112.9 1718.3,112.1 1718.4,112.2 1718.5,111.2 1718.6,114.1 1718.6,116.6 1718.7,111.4 1718.8,111.3 1718.9,120.9 1718.9,117.3 1719,124.6 1719.1,128.6 1719.2,139.4 1719.3,139.5 1719.3,142 1719.4,140.1 1719.5,143.9 1719.6,126.7 1719.6,124.3 1719.7,123.6 1719.8,114.4 1719.9,119.7 1720,111.7 1720,107.9 1720.1,114.3 1720.2,110.6 1720.3,112 1720.3,111.2 1720.4,118.2 1720.5,111.5 1720.6,113.6 1720.6,111.7 1720.7,114.3 1720.8,111.1 1720.9,114.2 1721,114.6 1721,114.2 1721.1,120.8 1721.2,119.1 1721.3,121.1 1721.3,118.3 1721.4,120.3 1721.5,113.8 1721.6,111.2 1721.6,115.1 1721.7,112.2 1721.8,114 1721.9,119.7 1721.9,115.5 1722,112.1 1722.1,118 1722.2,122.3 1722.2,115.1 1722.3,118 1722.4,109.4 1722.5,115.1 1722.6,115.1 1722.6,116.5 1722.7,113.5 1722.8,115.3 1722.9,116.9 1722.9,114.8 1723,117.1 1723.1,109.4 1723.2,118.1 1723.2,113.1 1723.3,115.1 1723.4,117.1 1723.5,108.1 1723.5,120.7 1723.6,108.6 1723.7,118.6 1723.8,114.9 1723.8,107.4 1723.9,123.5 1724,120.6 1724.1,111.7 1724.1,115.5 1724.2,117.9 1724.3,115.8 1724.4,118.8 1724.4,114.5 1724.5,110.4 1724.6,116.4 1724.7,115.2 1724.7,112.1 1724.8,109.4 1724.9,117.4 1725,114 1725,116.6 1725.1,116.6 1725.2,115.8 1725.3,115.9 1725.3,119.2 1725.4,119.8 1725.5,115.6 1725.6,113.2 1725.6,109.6 1725.7,115.7 1725.8,114.8 1725.9,112.3 1725.9,112.1 1726,114.4 1726.1,114.4 1726.2,109 1726.2,115.9 1726.3,116.8 1726.4,120.9 1726.5,114 1726.5,116.1 1726.6,110.1 1726.7,117.7 1726.8,113.7 1726.8,112.4 1726.9,110.6 1727,120.9 1727.1,111 1727.1,115.8 1727.2,116.5 1727.3,116 1727.3,116.4 1727.4,117 1727.5,123.5 1727.6,113.4 1727.6,114.8 1727.7,118 1727.8,115.7 1727.9,108 1727.9,115.1 1728,118.1 1728.1,110.3 1728.2,118.5 1728.2,116.5 1728.3,118 1728.4,116.7 1728.5,113 1728.5,113.5 1728.6,116.9 1728.7,114.9 1728.8,114.4 1728.8,117 1728.9,115.3 1729,117.7 1729,118.2 1729.1,115.8 1729.2,119.3 1729.3,114.4 1729.3,116 1729.4,118.5 1729.5,116.7 1729.6,116.7 1729.6,115.8 1729.7,115.4 1729.8,117 1729.8,119.4 1729.9,112.2 1730,114 1730.1,116.7 1730.1,114.2 1730.2,116.5 1730.3,118.4 1730.4,117.1 1730.4,108 1730.5,112.8 1730.6,113 1730.7,117.7 1730.7,114.4 1730.8,108.8 1730.9,114.3 1730.9,111.8 1731,110.4 1731.1,113.1 1731.2,110.7 1731.2,114.5 1731.3,113.8 1731.4,117 1731.4,107.1 1731.5,113.9 1731.6,114.9 1731.7,111 1731.7,116.2 1731.8,114.6 1731.9,117.2 1732,114.9 1732,116.9 1732.1,113.9 1732.2,115.8 1732.2,116.8 1732.3,115.9 1732.4,115.7 1732.5,116.9 1732.5,111.9 1732.6,112.1 1732.7,114 1732.7,118.4 1732.8,113 1732.9,118.7 1733,114.2 1733,114.6 1733.1,116.4 1733.2,117.1 1733.2,116.7 1733.3,108.2 1733.4,115.4 1733.5,115.8 1733.5,112.3 1733.6,114.1 1733.7,111.7 1733.8,119.1 1733.8,118.8 1733.9,104.7 1734,114.6 1734,115.8 1734.1,113.8 1734.2,111.4 1734.2,118.1 1734.3,113.9 1734.4,114.8 1734.5,112.9 1734.5,115.8 1734.6,118 1734.7,118.8 1734.7,123.9 1734.8,112.8 1734.9,121.1 1735,117 1735,110.9 1735.1,117.4 1735.2,113.3 1735.2,115.6 1735.3,112.9 1735.4,115.7 1735.5,116.9 1735.5,111 1735.6,116.5 1735.7,119.2 1735.7,115.7 1735.8,113.5 1735.9,119.1 1736,113.1 1736,113.1 1736.1,109.9 1736.2,118.1 1736.2,113.6 1736.3,121.6 1736.4,117.9 1736.4,115.8 1736.5,114.6 1736.6,116.3 1736.7,116.2 1736.7,117.5 1736.8,117 1736.9,114.8 1736.9,114.5 1737,114.3 1737.1,112.7 1737.2,112.6 1737.2,121.8 1737.3,117.7 1737.4,116 1737.4,117.8 1737.5,112.7 1737.6,113.6 1737.6,116.2 1737.7,115.7 1737.8,111.8 1737.9,117.2 1737.9,116.4 1738,113.1 1738.1,114.7 1738.1,111.7 1738.2,114.8 1738.3,113.8 1738.3,118.3 1738.4,119.9 1738.5,116.7 1738.5,126.5 1738.6,116.3 1738.7,114.5 1738.8,116.9 1738.8,117.5 1738.9,113.3 1739,116.5 1739,113.1 1739.1,109.7 1739.2,113.7 1739.2,113.2 1739.3,115.2 1739.4,116.4 1739.5,116.5 1739.5,117.5 1739.6,114.3 1739.7,122.6 1739.7,118.4 1739.8,115.6 1739.9,120.1 1739.9,117.8 1740,120.9 1740.1,119.5 1740.1,121.6 1740.2,124.7 1740.3,134.3 1740.4,145.6 1740.4,144.3 1740.5,141.9 1740.6,134.1 1740.6,139.8 1740.7,124.9 1740.8,127.7 1740.8,118.1 1740.9,117.7 1741,116.1 1741,114.8 1741.1,116.3 1741.2,119.5 1741.2,117.5 1741.3,116.2 1741.4,120.2 1741.5,120.1 1741.5,123.8 1741.6,117.4 1741.7,122.2 1741.7,122.9 1741.8,121.7 1741.9,122.9 1741.9,120.8 1742,116.1 1742.1,117.1 1742.1,115 1742.2,114.9 1742.3,121.6 1742.3,118.1 1742.4,115.9 1742.5,113.4 1742.5,123.6 1742.6,123.7 1742.7,119 1742.8,120.7 1742.8,122.1 1742.9,118.6 1743,121.9 1743,125.9 1743.1,120.3 1743.2,119.4 1743.2,117.5 1743.3,116.8 1743.4,118.8 1743.4,120.3 1743.5,121.1 1743.6,123.2 1743.6,119.7 1743.7,116.1 1743.8,117.1 1743.8,114.7 1743.9,119.5 1744,123.6 1744,117.5 1744.1,117.3 1744.2,123.4 1744.2,125 1744.3,121.1 1744.4,119.4 1744.4,123.1 1744.5,120.9 1744.6,122.8 1744.6,123.3 1744.7,123.8 1744.8,119.9 1744.9,120.4 1744.9,120.7 1745,125.4 1745.1,116.1 1745.1,123.3 1745.2,121.7 1745.3,124.2 1745.3,120.1 1745.4,124.3 1745.5,121.1 1745.5,122 1745.6,119.7 1745.7,123.9 1745.7,122.3 1745.8,121.1 1745.9,115.8 1745.9,123.6 1746,120 1746.1,122.4 1746.1,120.3 1746.2,120.2 1746.3,122.3 1746.3,122.2 1746.4,121.9 1746.5,124.1 1746.5,122.9 1746.6,126.3 1746.7,122.4 1746.7,123.5 1746.8,121.6 1746.9,119.3 1746.9,119.9 1747,119.7 1747.1,118.6 1747.1,126.6 1747.2,121 1747.3,122.5 1747.3,122.8 1747.4,125.7 1747.5,121.1 1747.5,120 1747.6,120.3 1747.7,123 1747.7,121.5 1747.8,120.5 1747.9,118.5 1747.9,120 1748,121.9 1748.1,122.5 1748.1,121.9 1748.2,121.8 1748.3,122.8 1748.3,120.4 1748.4,123.1 1748.5,123.5 1748.5,120.2 1748.6,122.4 1748.7,121.2 1748.7,124.9 1748.8,119 1748.9,120.4 1748.9,120.6 1749,120.1 1749,120.5 1749.1,122.9 1749.2,117 1749.2,122.4 1749.3,120 1749.4,118 1749.4,124.1 1749.5,122.5 1749.6,124.3 1749.6,120.1 1749.7,122.4 1749.8,124.6 1749.8,119.9 1749.9,120.7 1750,124.5 1750,119.4 1750.1,121.7 1750.2,116.8 1750.2,119.2 1750.3,124.8 1750.4,123.6 1750.4,124.6 1750.5,122.8 1750.6,123.1 1750.6,122.3 1750.7,123.7 1750.8,126.7 1750.8,125.4 1750.9,120.6 1750.9,121.3 1751,123.7 1751.1,123.9 1751.1,124.1 1751.2,123.1 1751.3,126.7 1751.3,121.3 1751.4,124.4 1751.5,122.5 1751.5,128.7 1751.6,123.4 1751.7,121.6 1751.7,130.1 1751.8,124.8 1751.9,129.4 1751.9,136.4 1752,142.9 1752.1,138.9 1752.1,141.6 1752.2,138.5 1752.2,136.4 1752.3,133.7 1752.4,126.5 1752.4,128.7 1752.5,123 1752.6,127.7 1752.6,126.2 1752.7,127.3 1752.8,121.5 1752.8,127 1752.9,125.8 1753,121.8 1753,122.4 1753.1,119.1 1753.2,119.4 1753.2,122.1 1753.3,121.5 1753.3,126.7 1753.4,125.8 1753.5,123.9 1753.5,123.5 1753.6,125.6 1753.7,125.1 1753.7,125.2 1753.8,121.3 1753.9,122.6 1753.9,123.7 1754,123.9 1754.1,123.3 1754.1,125.6 1754.2,124.8 1754.2,127.3 1754.3,122.9 1754.4,122.3 1754.4,124 1754.5,124.5 1754.6,124.1 1754.6,121.1 1754.7,124.5 1754.8,128.4 1754.8,127 1754.9,122.8 1754.9,121.9 1755,122.6 1755.1,123 1755.1,124.9 1755.2,129.1 1755.3,128.7 1755.3,132.7 1755.4,133.8 1755.5,138.1 1755.5,134.5 1755.6,132.5 1755.6,131.9 1755.7,123.7 1755.8,122.2 1755.8,126.6 1755.9,123.8 1756,122.2 1756,124.9 1756.1,123.7 1756.2,124.8 1756.2,124.5 1756.3,125.7 1756.3,126.3 1756.4,124.4 1756.5,123.3 1756.5,125.1 1756.6,126.3 1756.7,125.7 1756.7,125.2 1756.8,124.7 1756.9,123.8 1756.9,123.4 1757,123.7 1757,124.1 1757.1,123.5 1757.2,120.7 1757.2,121.9 1757.3,124.7 1757.4,122.9 1757.4,124 1757.5,124.8 1757.5,126.7 1757.6,128.9 1757.7,132.2 1757.7,136 1757.8,131.2 1757.9,128.5 1757.9,130.3 1758,126.1 1758,126.1 1758.1,124.9 1758.2,127.4 1758.2,126.5 1758.3,126.1 1758.4,130.6 1758.4,125.6 1758.5,126.8 1758.5,131.5 1758.6,124.4 1758.7,125.1 1758.7,124.6 1758.8,124.7 1758.9,126.8 1758.9,128.2 1759,126.9 1759,126.4 1759.1,121.1 1759.2,123.5 1759.2,127.5 1759.3,126.8 1759.4,126 1759.4,124.9 1759.5,127.1 1759.5,127.5 1759.6,121.8 1759.7,123.8 1759.7,127.7 1759.8,128.5 1759.9,127.2 1759.9,124.3 1760,124.1 1760,125.1 1760.1,127.4 1760.2,124.4 1760.2,124.3 1760.3,125.5 1760.4,126.3 1760.4,124.4 1760.5,125.6 1760.5,127.3 1760.6,124.7 1760.7,127.6 1760.7,124.1 1760.8,124.7 1760.8,127.3 1760.9,124.9 1761,123.4 1761,130.1 1761.1,126.7 1761.2,124.3 1761.2,129.2 1761.3,126.8 1761.3,128.2 1761.4,125.8 1761.5,130.6 1761.5,129.2 1761.6,127.4 1761.7,125.9 1761.7,124.9 1761.8,125 1761.8,123.6 1761.9,125.2 1762,126 1762,128.5 1762.1,127.1 1762.1,121.7 1762.2,123.5 1762.3,126.2 1762.3,126.2 1762.4,125.4 1762.5,127 1762.5,122.5 1762.6,126.1 1762.6,125.3 1762.7,121.6 1762.8,128.1 1762.8,123.9 1762.9,127.6 1762.9,126.6 1763,124.7 1763.1,124.7 1763.1,123.6 1763.2,124.7 1763.2,123 1763.3,125.1 1763.4,123.9 1763.4,125.7 1763.5,122.1 1763.5,127 1763.6,123.9 1763.7,125.8 1763.7,126.8 1763.8,124.1 1763.9,126.3 1763.9,129.5 1764,125.4 1764,131.2 1764.1,125.7 1764.2,126.1 1764.2,127.5 1764.3,124 1764.3,125 1764.4,120.9 1764.5,124.9 1764.5,121.2 1764.6,122 1764.6,124.8 1764.7,126 1764.8,123.4 1764.8,126.4 1764.9,126 1764.9,127.1 1765,128.6 1765.1,127.2 1765.1,128.8 1765.2,130.1 1765.2,128.3 1765.3,124.6 1765.4,124.9 1765.4,127.4 1765.5,127.3 1765.5,127.5 1765.6,125.9 1765.7,127.3 1765.7,128.4 1765.8,127.1 1765.9,124.1 1765.9,121.7 1766,126.7 1766,128.5 1766.1,123.1 1766.2,124.9 1766.2,124.6 1766.3,123.1 1766.3,125.2 1766.4,127.4 1766.5,128.8 1766.5,125.7 1766.6,127.6 1766.6,125.3 1766.7,127.6 1766.8,125.6 1766.8,127.2 1766.9,126.2 1766.9,126.8 1767,125 1767.1,124.5 1767.1,127.2 1767.2,128.1 1767.2,123.8 1767.3,127.2 1767.3,127.5 1767.4,128.4 1767.5,127.3 1767.5,127.6 1767.6,128.5 1767.6,128 1767.7,131.8 1767.8,130.9 1767.8,129.3 1767.9,128.1 1767.9,126.8 1768,125.6 1768.1,126.2 1768.1,126.5 1768.2,128.7 1768.2,124.7 1768.3,126.1 1768.4,127.8 1768.4,125.9 1768.5,126.5 1768.5,127.5 1768.6,130.1 1768.7,129.1 1768.7,127.3 1768.8,123.6 1768.8,126.7 1768.9,127.2 1769,128 1769,127.4 1769.1,126.4 1769.1,130.7 1769.2,131.7 1769.2,126.3 1769.3,127.6 1769.4,128.5 1769.4,125.4 1769.5,125.7 1769.5,129.8 1769.6,126.9 1769.7,124.7 1769.7,127.6 1769.8,127.9 1769.8,125.9 1769.9,127.3 1770,129 1770,128.5 1770.1,129.8 1770.1,126.9 1770.2,130.8 1770.3,126.4 1770.3,130.4 1770.4,127.3 1770.4,129.8 1770.5,128.2 1770.5,125.6 1770.6,125.2 1770.7,124.5 1770.7,126.9 1770.8,126.1 1770.8,125.4 1770.9,126 1771,127.5 1771,125.1 1771.1,127.1 1771.1,126.1 1771.2,128.3 1771.2,127.4 1771.3,130.1 1771.4,129.8 1771.4,129.8 1771.5,128.6 1771.5,128.6 1771.6,127.1 1771.7,130.1 1771.7,122.8 1771.8,127.9 1771.8,126.2 1771.9,126.1 1771.9,131.7 1772,128.5 1772.1,125.1 1772.1,130.7 1772.2,126.1 1772.2,129.5 1772.3,128.7 1772.4,127.2 1772.4,130.1 1772.5,127.7 1772.5,128.6 1772.6,129.2 1772.6,126.8 1772.7,122.3 1772.8,125.9 1772.8,125.8 1772.9,126.7 1772.9,128.7 1773,126.4 1773.1,124.6 1773.1,126.9 1773.2,125.7 1773.2,127.9 1773.3,123.5 1773.3,129.1 1773.4,126.6 1773.5,126.8 1773.5,127.8 1773.6,130.7 1773.6,130.6 1773.7,129.4 1773.7,129.3 1773.8,132.3 1773.9,131.4 1773.9,128.8 1774,127.3 1774,129.1 1774.1,129.2 1774.1,129.5 1774.2,124.6 1774.3,127.1 1774.3,127.9 1774.4,127 1774.4,125.4 1774.5,127.4 1774.6,131.5 1774.6,129.2 1774.7,129.3 1774.7,130 1774.8,131.8 1774.8,130.8 1774.9,131.4 1775,129.4 1775,129 1775.1,130.7 1775.1,131.6 1775.2,129.8 1775.2,128.8 1775.3,128.4 1775.4,128.2 1775.4,132.1 1775.5,128.2 1775.5,128.7 1775.6,128.2 1775.6,128.6 1775.7,128.7 1775.8,128.8 1775.8,124.6 1775.9,127.7 1775.9,130.6 1776,131.4 1776,133.6 1776.1,136.6 1776.2,142.1 1776.2,144.8 1776.3,145.5 1776.3,145.6 1776.4,143.7 1776.4,138.1 1776.5,136.3 1776.5,135.3 1776.6,133.6 1776.7,130.6 1776.7,128.9 1776.8,127.9 1776.8,127.2 1776.9,129.9 1776.9,130.4 1777,128.2 1777.1,127.4 1777.1,129.8 1777.2,128.9 1777.2,127.9 1777.3,128.9 1777.3,129.7 1777.4,132.3 1777.5,127.7 1777.5,128.6 1777.6,129.9 1777.6,131 1777.7,132.2 1777.7,130.3 1777.8,131.2 1777.9,129.6 1777.9,132.5 1778,129 1778,130.4 1778.1,128.1 1778.1,131.2 1778.2,129.4 1778.2,129 1778.3,129.5 1778.4,131.4 1778.4,130.1 1778.5,128.4 1778.5,131.1 1778.6,131.5 1778.6,128.7 1778.7,130.1 1778.8,127.3 1778.8,129.8 1778.9,130.2 1778.9,129.1 1779,127.1 1779,130 1779.1,129.1 1779.1,129.5 1779.2,130.8 1779.3,128.5 1779.3,129.9 1779.4,130.1 1779.4,132.8 1779.5,132.7 1779.5,133.7 1779.6,129.8 1779.6,129.6 1779.7,128.4 1779.8,127.6 1779.8,129.7 1779.9,129.6 1779.9,129.1 1780,128.2 1780,130.9 1780.1,129.3 1780.2,130.3 1780.2,130.4 1780.3,129.1 1780.3,130.7 1780.4,130.9 1780.4,128.3 1780.5,128.6 1780.5,129.6 1780.6,129.9 1780.7,129.6 1780.7,131.5 1780.8,130.6 1780.8,132 1780.9,130.6 1780.9,130.7 1781,131.7 1781,132.6 1781.1,132.3 1781.2,132.7 1781.2,127.8 1781.3,131.1 1781.3,129.8 1781.4,129.3 1781.4,133.2 1781.5,132.2 1781.5,131.7 1781.6,131.9 1781.6,132.3 1781.7,130.9 1781.8,129.3 1781.8,130.1 1781.9,130.5 1781.9,130.2 1782,132.6 1782,128.9 1782.1,129.7 1782.1,131.4 1782.2,130.5 1782.3,130 1782.3,129.9 1782.4,130.5 1782.4,130.9 1782.5,131 1782.5,130.3 1782.6,130.3 1782.6,130.1 1782.7,130.8 1782.8,131.6 1782.8,128.7 1782.9,133.5 1782.9,129.4 1783,130.9 1783,131.3 1783.1,132.7 1783.1,132.3 1783.2,133.2 1783.2,134 1783.3,132.8 1783.4,135.2 1783.4,133.2 1783.5,132.1 1783.5,137.2 1783.6,134.8 1783.6,133.2 1783.7,133.3 1783.7,133.1 1783.8,133.1 1783.8,132.4 1783.9,131.3 1784,131.1 1784,134.3 1784.1,134.1 1784.1,139.1 1784.2,139.2 1784.2,142.4 1784.3,137.8 1784.3,135.6 1784.4,135.9 1784.4,136.2 1784.5,133.6 1784.6,132.8 1784.6,131.7 1784.7,131 1784.7,130.6 1784.8,135.5 1784.8,130.2 1784.9,132.6 1784.9,132.4 1785,130.4 1785,132.7 1785.1,134.7 1785.2,134.3 1785.2,132.5 1785.3,131.7 1785.3,130.7 1785.4,132.4 1785.4,133.1 1785.5,129.9 1785.5,132.5 1785.6,129.6 1785.6,131.1 1785.7,131 1785.8,131.4 1785.8,131.1 1785.9,132.7 1785.9,132.6 1786,132.7 1786,133.4 1786.1,132.5 1786.1,132.6 1786.2,132.6 1786.2,132 1786.3,131.7 1786.3,128.6 1786.4,131 1786.5,131.9 1786.5,131.2 1786.6,130.4 1786.6,131.7 1786.7,132.2 1786.7,133.5 1786.8,132.9 1786.8,132.3 1786.9,133 1786.9,135 1787,133.8 1787,135.7 1787.1,131.7 1787.2,131.8 1787.2,130.8 1787.3,131.9 1787.3,131.5 1787.4,132.5 1787.4,133 1787.5,135.4 1787.5,134.5 1787.6,133.9 1787.6,132 1787.7,130.7 1787.7,134 1787.8,132.7 1787.8,132.4 1787.9,133.5 1788,134.6 1788,133.2 1788.1,134.4 1788.1,132.6 1788.2,132.8 1788.2,132.5 1788.3,132.6 1788.3,132.2 1788.4,134.5 1788.4,132.3 1788.5,135.7 1788.5,132.9 1788.6,132.8 1788.6,134.7 1788.7,136.3 1788.8,133.5 1788.8,135.1 1788.9,132.3 1788.9,132.3 1789,133.6 1789,133.9 1789.1,133 1789.1,133.7 1789.2,135.8 1789.2,135.1 1789.3,135.1 1789.3,135.8 1789.4,135.9 1789.4,136.1 1789.5,135.7 1789.6,136.9 1789.6,137 1789.7,133 1789.7,134.8 1789.8,132.9 1789.8,135.7 1789.9,134.1 1789.9,135.4 1790,131.2 1790,135.7 1790.1,136.8 1790.1,134.8 1790.2,134.3 1790.2,138 1790.3,134.1 1790.3,132.9 1790.4,135.8 1790.5,133.5 1790.5,135.4 1790.6,135.1 1790.6,134.1 1790.7,134.4 1790.7,136.4 1790.8,132.7 1790.8,136.2 1790.9,135.6 1790.9,133.6 1791,134.5 1791,133.2 1791.1,135.2 1791.1,134.1 1791.2,134.2 1791.2,133.5 1791.3,133.6 1791.3,134.5 1791.4,131.9 1791.4,134.2 1791.5,133.5 1791.6,132.9 1791.6,132.6 1791.7,133.2 1791.7,133.3 1791.8,135.8 1791.8,133.9 1791.9,135.3 1791.9,135.4 1792,134.9 1792,138.2 1792.1,134.3 1792.1,134.8 1792.2,136.4 1792.2,135.3 1792.3,132.8 1792.3,135.1 1792.4,134.8 1792.4,136 1792.5,137.1 1792.5,137.7 1792.6,136.7 1792.7,134.5 1792.7,135.2 1792.8,137.5 1792.8,135.3 1792.9,135.9 1792.9,137.4 1793,135.6 1793,137.2 1793.1,138.5 1793.1,135.7 1793.2,139.1 1793.2,136.3 1793.3,139.2 1793.3,137.2 1793.4,137.1 1793.4,137.8 1793.5,141.1 1793.5,138.4 1793.6,138.5 1793.6,139.2 1793.7,137.4 1793.7,136.4 1793.8,138.4 1793.8,136.6 1793.9,138.1 1794,135.1 1794,134.3 1794.1,132 1794.1,135.1 1794.2,136.5 1794.2,135 1794.3,138.9 1794.3,137.5 1794.4,140 1794.4,142.5 1794.5,142.1 1794.5,144.8 1794.6,143 1794.6,145.7 1794.7,141.6 1794.7,140.9 1794.8,139.7 1794.8,141.4 1794.9,137.2 1794.9,138 1795,139.2 1795,140.1 1795.1,139.3 1795.1,137.5 1795.2,139.5 1795.2,138.6 1795.3,137.1 1795.3,137.3 1795.4,137.3 1795.4,136.6 1795.5,136.5 1795.5,136.3 1795.6,138.2 1795.7,135.9 1795.7,136.4 1795.8,136.4 1795.8,137 1795.9,137.9 1795.9,138 1796,137 1796,138.9 1796.1,139.4 1796.1,137.8 1796.2,138 1796.2,139.1 1796.3,138.9 1796.3,141.9 1796.4,144.1 1796.4,148.3 1796.5,154.5 1796.5,161.1 1796.6,162.7 1796.6,159.9 1796.7,150.1 1796.7,144.1 1796.8,139.4 1796.8,135.6 1796.9,136.2 1796.9,135.1 1797,137.8 1797,134.9 1797.1,135.7 1797.1,135.4 1797.2,136.2 1797.2,136.4 1797.3,135.4 1797.3,137.8 1797.4,137.6 1797.4,136.9 1797.5,139.7 1797.5,140.3 1797.6,138.9 1797.6,139.4 1797.7,138.5 1797.7,139.4 1797.8,142 1797.8,140.1 1797.9,138.7 1797.9,140.7 1798,139.9 1798,140.6 1798.1,138.2 1798.1,136.8 1798.2,140.8 1798.2,137.7 1798.3,137.7 1798.3,139.6 1798.4,138.4 1798.4,139.7 1798.5,139.1 1798.6,138.6 1798.6,138.5 1798.7,139.3 1798.7,137.6 1798.8,138.2 1798.8,139.8 1798.9,138 1798.9,138 1799,140.5 1799,136.8 1799.1,139.1 1799.1,139 1799.2,137.3 1799.2,141.9 1799.3,140.9 1799.3,138 1799.4,139.3 1799.4,140 1799.5,137.4 1799.5,137.4 1799.6,139.8 1799.6,139.3 1799.7,137.8 1799.7,137.1 1799.8,139.9 1799.8,137.1 1799.9,138 1799.9,139.7 1800,138 1800,139.6 1800.1,139 1800.1,137.3 1800.2,138.3 1800.2,139.1 1800.3,140.4 1800.3,141.7 1800.4,140.8 1800.4,143.5 1800.5,142.2 1800.5,140.6 1800.6,141.7 1800.6,141.6 1800.7,139.8 1800.7,138.5 1800.8,139.8 1800.8,139.8 1800.9,137.8 1800.9,138.6 1801,139.4 1801,138.6 1801.1,138.8 1801.1,139.3 1801.2,136.1 1801.2,138 1801.3,138.8 1801.3,138.6 1801.4,136 1801.4,137.7 1801.5,139.4 1801.5,137.6 1801.6,137.5 1801.6,137.8 1801.7,137.2 1801.7,137.8 1801.8,139.1 1801.8,138.9 1801.9,137.6 1801.9,140.4 1802,138 1802,139.3 1802.1,138.2 1802.1,141.8 1802.2,136.6 1802.2,140 1802.2,140.2 1802.3,139.1 1802.3,141.1 1802.4,140.9 1802.4,143.2 1802.5,141.8 1802.5,141.1 1802.6,140.3 1802.6,140.9 1802.7,139.5 1802.7,139.2 1802.8,141.5 1802.8,141.1 1802.9,137.5 1802.9,141.4 1803,138 1803,139.7 1803.1,138.6 1803.1,141.9 1803.2,139.9 1803.2,139.2 1803.3,140.4 1803.3,139.6 1803.4,140.5 1803.4,140.8 1803.5,140.8 1803.5,139.2 1803.6,140.1 1803.6,142 1803.7,140.6 1803.7,140.1 1803.8,141.5 1803.8,138.7 1803.9,139.4 1803.9,138.4 1804,140.9 1804,140.4 1804.1,137.8 1804.1,139.8 1804.2,137.6 1804.2,138.1 1804.3,139.4 1804.3,138.1 1804.4,140.2 1804.4,138.8 1804.5,140.1 1804.5,140.4 1804.6,138 1804.6,139.6 1804.7,140.8 1804.7,136.6 1804.8,139.1 1804.8,142.2 1804.9,137.4 1804.9,136.1 1805,136.9 1805,135.6 1805,138.2 1805.1,137.4 1805.1,139.5 1805.2,138.6 1805.2,136.6 1805.3,138 1805.3,139 1805.4,141.8 1805.4,140.1 1805.5,142.2 1805.5,140.3 1805.6,142.6 1805.6,140.7 1805.7,143.1 1805.7,139.5 1805.8,143 1805.8,141.4 1805.9,138.5 1805.9,140.9 1806,142.7 1806,139.9 1806.1,139.5 1806.1,139.9 1806.2,143.7 1806.2,141.2 1806.3,144.5 1806.3,139.4 1806.4,141 1806.4,141.2 1806.5,140.8 1806.5,141.4 1806.6,142.4 1806.6,139.5 1806.7,141.1 1806.7,142.7 1806.7,138.8 1806.8,139.2 1806.8,140.1 1806.9,140.5 1806.9,141.2 1807,139.8 1807,138.2 1807.1,140 1807.1,139.1 1807.2,142.1 1807.2,139.7 1807.3,138.4 1807.3,141.1 1807.4,142.1 1807.4,141.3 1807.5,141.1 1807.5,141.2 1807.6,141.7 1807.6,142.4 1807.7,142.1 1807.7,142.4 1807.8,142 1807.8,142.5 1807.9,142.9 1807.9,142 1808,141.7 1808,140.8 1808,141.8 1808.1,139.9 1808.1,142.3 1808.2,141.9 1808.2,142.7 1808.3,142.2 1808.3,141.6 1812,139.5 1812.8,138.5 1813.6,139.9 1814.4,140.9 1815.2,142.2 1816,142.3 1816.8,141.9 1817.6,142.2 1818.4,141.5 1819.2,140 1820,141.8 1820.8,142.8 1821.6,146.8 1822.4,146.8 1823.2,147.4 1824,145.2 1824.8,146.1 1825.6,153.9 1826.4,156 1827.2,147 1828,148 1828.8,146 1829.6,148.6 1830.4,148.8 1831.2,150.2 1832,149.4 1832.8,149.3 1833.6,150.8 1834.4,149.7 1835.2,151.5 1836,150.6 1836.8,150.6 1837.6,150.3 1838.4,150.5 1839.2,153 1840,154.1 1840.8,156.2 1841.6,156.4 1842.4,156.6 1843.2,156.8 1844,158 1844.8,184.6 1845.6,184.4 1846.4,157.2 1847.2,157.6 1848,158 1848.8,174.7 1849.6,174.3 1850.4,160.4 1851.2,169 1852,170.8 1852.8,171.8 1853.6,161.6 1854.4,160.8 1855.2,161.1 1856,163 1856.8,163.2 1857.6,163.8 1858.4,162.9 1859.2,164.3 1860,165.1 1860.8,164.8 1861.6,166.9 1862.4,167.1 1863.2,168.2 1864,166 1864.8,166.1 1865.6,172.9 1866.4,174.5 1867.2,169.1 1868,169.9 1868.8,168.6 1869.6,168.4 1870.4,167.7 1871.2,169.6 1872,171 1872.8,171.1 1873.6,171.4 1874.4,172.1 1875.2,174.6 1876,174.4 1876.8,174.9 1877.6,175.1 1878.4,176.2 1879.2,178 1880,177.5 1880.8,178.3 1881.6,177.8 1882.4,179.5 1883.2,180.3 1884,181.7 1884.8,183.3 1885.6,184.9 1886.4,185.2 1887.2,184.6 1888,183.6 1888.8,185.2 1889.6,185.1 1890.4,188.5 1891.2,187.2 1892,188.8 1892.8,192.5 1893.6,194 1894.4,189.1 1895.2,191.3 1896,191.6 1896.8,192.8 1897.6,191.5 1898.4,192 1899.2,192.5 1900,195.1 1900.8,196.3 1901.6,195.7 1902.4,196 1903.2,194 1904,197.2 1904.8,195.1 1905.6,197.7 1906.4,197.7 1907.2,199.9 1908,199.7 1908.8,200.7 1909.6,199.9 1910.4,200.3 1911.2,201.1 1912,202.4 1912.8,204.5 1913.6,204.6 1914.4,205.9 1915.2,206.6 1916,206.6 1916.8,207.5 1917.6,208.9 1918.4,210.2 1919.2,210.9 1920,211.3 1920.8,210.8 1921.6,210.6 1922.4,209.6 1923.2,211.3 1924,213.8 1924.8,215.3 1925.6,213.7 1926.4,212.6 1927.2,213.5 1928,215.9 1928.8,217 1929.6,218 1930.4,219 1931.2,218.5 1932,218.6 1932.8,217.8 1933.6,219.6 1934.4,220.8 1935.2,223.4 1936,224.3 1936.8,223.5 1937.6,222.3 1938.4,222.7 1939.2,222.8 1940,223.6 1940.8,224.2 1941.6,226.2 1942.4,226.6 1943.2,227 1944,227.9 1944.8,228.9 1945.6,227.8 1946.4,227.4 1947.2,227.9 1948,229.5 1948.8,229.9 1949.6,229 1950.4,230.8 1951.2,231.5 1952,232.7 1952.8,232.2 1953.6,232.4 1954.4,232.4 1955.2,230.4 1956,228.3 1956.8,230.9 1957.6,232.4 1958.4,234.7 1959.2,233.7 1960,234.6 1960.8,236 1961.6,235 1962.4,235.9 1963.2,233.5 1964,235.1 1964.8,235.4 1965.6,237.6 1966.4,237.4 1967.2,237.3 1968,237.8 1968.8,238.5 1969.6,237.7 1970.4,238.1 1971.2,236.8 1972,238 1972.8,237.4 1973.6,239.2 1974.4,239.7 1975.2,241.4 1976,241.9 1976.8,242.8 1977.6,244.7 1978.4,247 1979.2,249.6 1980,250.9 1980.8,250.8 1981.6,252.4 1982.4,252 1983.2,254.4 1984,254.8 1984.8,257.2 1985.6,258.7 1986.4,260.2 1987.2,260.5 1988,262 1988.8,264.3 1989.6,267.1 1990.4,268.6 1991.2,267.8 1992,268.8 1992.8,269.4 1993.6,270.7 1994.4,272 1995.2,273.4 1996,274.8 1996.8,275 1997.6,275.9 1998.4,278.3 1999.2,280.3 2000,280 2000.8,279.3 2001.6,279 2002.4,280.4 2003.2,281.4 2004,282.3 2004.8,283.6 2005.6,285.2 2006.4,286.1 2007.2,285.2 2008,284.8 2008.8,285.8 2009.6,288 2010.4,289.9 2011.2,289.3 2012,288.9 2012.8,287.9 2013.6,287.3 2014.4,287.8 2015.2,288.4 2016,292.9 2016.8,295.3 2017.6,297.4 2018.4,297.5 2019.2,298.7 2020,301.8 2020.8,303.6 2021.6,305.7 2022.4,305.9 2023.2,307.6 2024,308.8 2024.8,310.5 2025.6,310.8 2026.4,311.9 2027.2,312.3 2028,314.8 2028.8,315.1 2029.6,316.3 2030.4,318.1 2031.2,319.4 2032,321.5 2032.8,320.7 2033.6,322 2034.4,323.2 2035.2,325.1 2036,328.5 2036.8,330.2 2037.6,332.3 2038.4,334.7 2039.2,338.5 2040,340.6 2040.8,342.4 2041.6,346.1 2042.4,351.1 2043.2,355.4 2044,358.8 2044.8,362.3 2045.6,367.5" fill="none" stroke="#ff7f0e" stroke-width="3.4" stroke-linejoin="round" />
</g>
<rect x="1495.6" y="14" width="549.8" height="429.6" fill="none" stroke="#505050" stroke-width="1.8"/>
<line x1="1575" y1="443.6" x2="1575" y2="438.1" stroke="#1a1a1a" stroke-width="2.2"/>
<line x1="1650.5" y1="443.6" x2="1650.5" y2="438.1" stroke="#1a1a1a" stroke-width="2.2"/>
<line x1="1704.1" y1="443.6" x2="1704.1" y2="438.1" stroke="#1a1a1a" stroke-width="2.2"/>
<line x1="1745.7" y1="443.6" x2="1745.7" y2="438.1" stroke="#1a1a1a" stroke-width="2.2"/>
<line x1="1779.6" y1="443.6" x2="1779.6" y2="438.1" stroke="#1a1a1a" stroke-width="2.2"/>
<line x1="1808.4" y1="443.6" x2="1808.4" y2="438.1" stroke="#1a1a1a" stroke-width="2.2"/>
<line x1="1833.2" y1="443.6" x2="1833.2" y2="438.1" stroke="#1a1a1a" stroke-width="2.2"/>
<line x1="1855.2" y1="443.6" x2="1855.2" y2="438.1" stroke="#1a1a1a" stroke-width="2.2"/>
<line x1="2003.9" y1="443.6" x2="2003.9" y2="438.1" stroke="#1a1a1a" stroke-width="2.2"/>
<line x1="1874.8" y1="443.6" x2="1874.8" y2="435.1" stroke="#1a1a1a" stroke-width="2.2"/>
<line x1="1495.6" y1="35.7" x2="1501.1" y2="35.7" stroke="#1a1a1a" stroke-width="2.2"/>
<line x1="1495.6" y1="68.7" x2="1501.1" y2="68.7" stroke="#1a1a1a" stroke-width="2.2"/>
<line x1="1495.6" y1="133.7" x2="1501.1" y2="133.7" stroke="#1a1a1a" stroke-width="2.2"/>
<line x1="1495.6" y1="143.3" x2="1501.1" y2="143.3" stroke="#1a1a1a" stroke-width="2.2"/>
<line x1="1495.6" y1="154.1" x2="1501.1" y2="154.1" stroke="#1a1a1a" stroke-width="2.2"/>
<line x1="1495.6" y1="166.7" x2="1501.1" y2="166.7" stroke="#1a1a1a" stroke-width="2.2"/>
<line x1="1495.6" y1="181.5" x2="1501.1" y2="181.5" stroke="#1a1a1a" stroke-width="2.2"/>
<line x1="1495.6" y1="199.7" x2="1501.1" y2="199.7" stroke="#1a1a1a" stroke-width="2.2"/>
<line x1="1495.6" y1="223.1" x2="1501.1" y2="223.1" stroke="#1a1a1a" stroke-width="2.2"/>
<line x1="1495.6" y1="256.1" x2="1501.1" y2="256.1" stroke="#1a1a1a" stroke-width="2.2"/>
<line x1="1495.6" y1="321.1" x2="1501.1" y2="321.1" stroke="#1a1a1a" stroke-width="2.2"/>
<line x1="1495.6" y1="330.7" x2="1501.1" y2="330.7" stroke="#1a1a1a" stroke-width="2.2"/>
<line x1="1495.6" y1="341.5" x2="1501.1" y2="341.5" stroke="#1a1a1a" stroke-width="2.2"/>
<line x1="1495.6" y1="354.1" x2="1501.1" y2="354.1" stroke="#1a1a1a" stroke-width="2.2"/>
<line x1="1495.6" y1="368.9" x2="1501.1" y2="368.9" stroke="#1a1a1a" stroke-width="2.2"/>
<line x1="1495.6" y1="387.1" x2="1501.1" y2="387.1" stroke="#1a1a1a" stroke-width="2.2"/>
<line x1="1495.6" y1="410.5" x2="1501.1" y2="410.5" stroke="#1a1a1a" stroke-width="2.2"/>
<line x1="1495.6" y1="125.1" x2="1504.1" y2="125.1" stroke="#1a1a1a" stroke-width="2.2"/>
<line x1="1495.6" y1="312.5" x2="1504.1" y2="312.5" stroke="#1a1a1a" stroke-width="2.2"/>
<text x="1855.5" y="472.3" font-size="22.5" text-anchor="start" font-family="'DejaVu Sans', 'Liberation Sans', sans-serif" fill="#383838" >10<tspan font-size="17" dy="-8.5">4</tspan></text>
<text x="1448.8" y="136.8" font-size="22.5" text-anchor="start" font-family="'DejaVu Sans', 'Liberation Sans', sans-serif" fill="#383838" >10<tspan font-size="17" dy="-8.5">0</tspan></text>
<text x="1434.3" y="324.2" font-size="22.5" text-anchor="start" font-family="'DejaVu Sans', 'Liberation Sans', sans-serif" fill="#383838" >10<tspan font-size="17" dy="-8.5">−1</tspan></text>
<line x1="1567.4" y1="130" x2="1567.4" y2="368.7" stroke="#3a80b4" stroke-width="2.7" stroke-dasharray="11 5"/>
<line x1="1597.5" y1="153" x2="1597.5" y2="408.3" stroke="#f29c45" stroke-width="2.7" stroke-dasharray="11 5"/>
<line x1="1624.5" y1="178" x2="1624.5" y2="351.5" stroke="#34a044" stroke-width="2.7" stroke-dasharray="11 5"/>
<line x1="1763.2" y1="132" x2="1763.2" y2="234.6" stroke="#c8304a" stroke-width="2.7" stroke-dasharray="11 5"/>
<line x1="1567.4" y1="368.7" x2="1624.5" y2="351.5" stroke="#111" stroke-width="3.2" stroke-dasharray="10 5"/>
<path d="M1591,371 L1581,371 Q1578,371 1578,374 L1578,386 Q1578,389 1575,389.5 L1566,389.5 M1575,389.5 Q1578,390 1578,393 L1578,405 Q1578,408 1581,408 L1592,408" fill="none" stroke="#111" stroke-width="3"/>
<line x1="1603" y1="271.5" x2="1679" y2="292.4" stroke="#5b82c6" stroke-width="1.8"/>
<polygon points="1690,295.4 1676.5,297 1679.5,287" fill="#5b82c6"/>
<line x1="1562.6" y1="390.4" x2="1533" y2="406.3" stroke="#5b82c6" stroke-width="1.8"/>
<polygon points="1524.1,411.2 1531,401.5 1536.5,410.5" fill="#5b82c6"/>
<polygon points="1567.4,363.5 1568.8,366.8 1572.3,367.1 1569.6,369.4 1570.5,372.9 1567.4,371 1564.3,372.9 1565.2,369.4 1562.5,367.1 1566,366.8" fill="#ff0000" stroke="#ff0000" stroke-width="1"/>
<polygon points="1597.5,403.1 1598.9,406.4 1602.4,406.7 1599.7,409 1600.6,412.5 1597.5,410.6 1594.4,412.5 1595.3,409 1592.6,406.7 1596.1,406.4" fill="#ff0000" stroke="#ff0000" stroke-width="1"/>
<polygon points="1624.5,346.3 1625.9,349.6 1629.4,349.9 1626.7,352.2 1627.6,355.7 1624.5,353.8 1621.4,355.7 1622.3,352.2 1619.6,349.9 1623.1,349.6" fill="#ff0000" stroke="#ff0000" stroke-width="1"/>
<polygon points="1763.2,229.4 1764.6,232.7 1768.1,233 1765.4,235.3 1766.3,238.8 1763.2,236.9 1760.1,238.8 1761,235.3 1758.3,233 1761.8,232.7" fill="#ff0000" stroke="#ff0000" stroke-width="1"/>
<polygon points="2014,285 2015.4,288.3 2018.9,288.6 2016.2,290.9 2017.1,294.4 2014,292.5 2010.9,294.4 2011.8,290.9 2009.1,288.6 2012.6,288.3" fill="#ff0000" stroke="#ff0000" stroke-width="1"/>
<text x="1513.3" y="258.2" font-size="26" text-anchor="start" font-family="'DejaVu Serif', 'Liberation Serif', serif" fill="#1a1a1a" font-style="italic" stroke="#1a1a1a" stroke-width="0.3">A<tspan font-size="21.5" dy="6">w2</tspan></text>
<text x="1634.5" y="249.3" font-size="26" text-anchor="start" font-family="'DejaVu Serif', 'Liberation Serif', serif" fill="#1a1a1a" font-style="italic" stroke="#1a1a1a" stroke-width="0.3">A<tspan font-size="21.5" dy="6">w1</tspan></text>
<text x="1698.4" y="304" font-size="26" text-anchor="start" font-family="'DejaVu Serif', 'Liberation Serif', serif" fill="#1a1a1a" font-style="italic" stroke="#1a1a1a" stroke-width="0.3">A<tspan font-size="21.5" dy="6">m2</tspan></text>
<text x="1504" y="431.5" font-size="26" text-anchor="start" font-family="'DejaVu Serif', 'Liberation Serif', serif" fill="#1a1a1a" font-style="italic" stroke="#1a1a1a" stroke-width="0.3">A<tspan font-size="21.5" dy="6">bump</tspan></text>
<text x="1771.6" y="195.4" font-size="26" text-anchor="start" font-family="'DejaVu Serif', 'Liberation Serif', serif" fill="#1a1a1a" font-style="italic" stroke="#1a1a1a" stroke-width="0.3">A<tspan font-size="21.5" dy="6">V</tspan></text>
<rect x="1659.6" y="326.4" width="374.6" height="103.5" rx="3" ry="3" fill="#ffffff" fill-opacity="0.85" stroke="#e8e8e8" stroke-width="1.2"/>
<line x1="1666" y1="342.9" x2="1716" y2="342.9" stroke="#2ca02c" stroke-width="3.4"/>
<line x1="1666" y1="376.1" x2="1716" y2="376.1" stroke="#ff7f0e" stroke-width="2.5"/>
<polygon points="1692.4,404.6 1693.8,407.9 1697.3,408.2 1694.6,410.5 1695.5,414 1692.4,412.1 1689.3,414 1690.2,410.5 1687.5,408.2 1691,407.9" fill="#ff0000" stroke="#ff0000" stroke-width="1"/>
<text x="1733.6" y="353.2" font-size="23.3" text-anchor="start" font-family="'DejaVu Sans', 'Liberation Sans', sans-serif" fill="#383838" >Dust-corrected spectrum</text>
<text x="1733.6" y="384.6" font-size="23.3" text-anchor="start" font-family="'DejaVu Sans', 'Liberation Sans', sans-serif" fill="#383838" >Model spectrum</text>
<text x="1733.6" y="417.6" font-size="23.3" text-anchor="start" font-family="'DejaVu Sans', 'Liberation Sans', sans-serif" fill="#383838" >Observed SED</text>
<text x="373" y="508.5" font-size="29.5" text-anchor="middle" font-family="'DejaVu Sans', 'Liberation Sans', sans-serif" fill="#383838" >λ(Å)</text>
<text x="1071.8" y="508.5" font-size="29.5" text-anchor="middle" font-family="'DejaVu Sans', 'Liberation Sans', sans-serif" fill="#383838" >λ(Å)</text>
<text x="1763.7" y="508.5" font-size="29.5" text-anchor="middle" font-family="'DejaVu Sans', 'Liberation Sans', sans-serif" fill="#383838" >λ(Å)</text>
<text x="0" y="0" font-size="29.35" text-anchor="middle" font-family="'DejaVu Sans', 'Liberation Sans', sans-serif" fill="#383838" transform="translate(723.3,227.7) rotate(-90)">Normalized Flux</text>
<text x="0" y="0" font-size="29.35" text-anchor="middle" font-family="'DejaVu Sans', 'Liberation Sans', sans-serif" fill="#383838" transform="translate(1417.6,227.7) rotate(-90)">Normalized Flux</text>
<text x="0" y="0" font-size="27" text-anchor="start" font-family="'DejaVu Sans', 'Liberation Sans', sans-serif" fill="#383838" font-style="italic" transform="translate(28,278.5) rotate(-90)" stroke="#383838" stroke-width="0.4">A</text>
<text x="0" y="0" font-size="18.9" text-anchor="start" font-family="'DejaVu Sans', 'Liberation Sans', sans-serif" fill="#383838" font-style="italic" transform="translate(33.6,258.8) rotate(-90)" stroke="#383838" stroke-width="0.4">λ</text>
<text x="0" y="0" font-size="27" text-anchor="start" font-family="'DejaVu Sans', 'Liberation Sans', sans-serif" fill="#383838" transform="translate(28,240.5) rotate(-90)" stroke="#383838" stroke-width="0.4">−</text>
<text x="0" y="0" font-size="27" text-anchor="start" font-family="'DejaVu Sans', 'Liberation Sans', sans-serif" fill="#383838" font-style="italic" transform="translate(28,210.5) rotate(-90)" stroke="#383838" stroke-width="0.4">A</text>
<text x="0" y="0" font-size="18.9" text-anchor="start" font-family="'DejaVu Sans', 'Liberation Sans', sans-serif" fill="#383838" transform="translate(33.6,191) rotate(-90)" stroke="#383838" stroke-width="0.4">V</text>
</g>
</svg>
</body></html>
